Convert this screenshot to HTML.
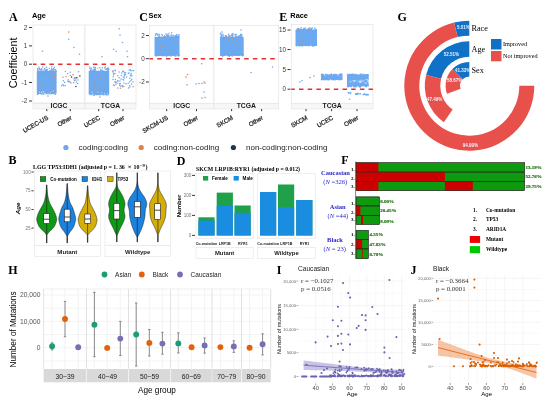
<!DOCTYPE html><html><head><meta charset="utf-8"><style>html,body{margin:0;padding:0;background:#fff;}body{width:550px;height:401px;overflow:hidden;}svg{display:block;filter:blur(0.3px);}</style></head><body><svg width="550" height="401" viewBox="0 0 550 401">
<rect x="0.00" y="0.00" width="550.00" height="401.00" fill="#FFFFFF" stroke="none" stroke-width="0" />
<text x="9.00" y="21.30" font-family='"Liberation Serif", serif' font-size="12" font-weight="bold" font-style="normal" fill="#000" text-anchor="start" >A</text>
<text x="32.00" y="18.20" font-family='"Liberation Sans", sans-serif' font-size="7.4" font-weight="bold" font-style="normal" fill="#000" text-anchor="start" >Age</text>
<text transform="translate(16.6,62.8) rotate(-90)" font-family='"Liberation Sans", sans-serif' font-size="10.8" fill="#000" text-anchor="middle">Coefficient</text>
<rect x="33.00" y="25.00" width="52.00" height="78.00" fill="#FFFFFF" stroke="#E3E3E3" stroke-width="0.7" />
<rect x="85.00" y="25.00" width="51.00" height="78.00" fill="#FFFFFF" stroke="#E3E3E3" stroke-width="0.7" />
<line x1="29.00" y1="27.50" x2="32.00" y2="27.50" stroke="#222" stroke-width="0.9" />
<text x="27.20" y="29.77" font-family='"Liberation Sans", sans-serif' font-size="6.3" font-weight="normal" font-style="normal" fill="#3A3A3A" text-anchor="end" >2</text>
<line x1="29.00" y1="45.90" x2="32.00" y2="45.90" stroke="#222" stroke-width="0.9" />
<text x="27.20" y="48.17" font-family='"Liberation Sans", sans-serif' font-size="6.3" font-weight="normal" font-style="normal" fill="#3A3A3A" text-anchor="end" >1</text>
<line x1="29.00" y1="64.20" x2="32.00" y2="64.20" stroke="#222" stroke-width="0.9" />
<text x="27.20" y="66.47" font-family='"Liberation Sans", sans-serif' font-size="6.3" font-weight="normal" font-style="normal" fill="#3A3A3A" text-anchor="end" >0</text>
<line x1="29.00" y1="82.50" x2="32.00" y2="82.50" stroke="#222" stroke-width="0.9" />
<text x="27.20" y="84.77" font-family='"Liberation Sans", sans-serif' font-size="6.3" font-weight="normal" font-style="normal" fill="#3A3A3A" text-anchor="end" >-1</text>
<line x1="29.00" y1="101.00" x2="32.00" y2="101.00" stroke="#222" stroke-width="0.9" />
<text x="27.20" y="103.27" font-family='"Liberation Sans", sans-serif' font-size="6.3" font-weight="normal" font-style="normal" fill="#3A3A3A" text-anchor="end" >-2</text>
<line x1="33.00" y1="64.20" x2="136.00" y2="64.20" stroke="#E3312F" stroke-width="1.5" stroke-dasharray="4.5,4.2" stroke-dashoffset="1"/>
<rect x="36.80" y="70.88" width="19.80" height="22.61" fill="#6BA9F1" stroke="none" stroke-width="0" />
<circle cx="39.75" cy="71.16" r="0.75" fill="#6BA9F1" />
<circle cx="51.71" cy="68.82" r="0.75" fill="#6BA9F1" />
<circle cx="46.61" cy="69.72" r="0.75" fill="#6BA9F1" />
<circle cx="49.58" cy="70.97" r="0.75" fill="#6BA9F1" />
<circle cx="38.98" cy="67.19" r="0.75" fill="#6BA9F1" />
<circle cx="53.08" cy="69.65" r="0.75" fill="#6BA9F1" />
<circle cx="51.68" cy="66.72" r="0.75" fill="#6BA9F1" />
<circle cx="45.66" cy="70.74" r="0.75" fill="#6BA9F1" />
<circle cx="41.55" cy="71.47" r="0.75" fill="#6BA9F1" />
<circle cx="54.33" cy="67.22" r="0.75" fill="#6BA9F1" />
<circle cx="37.68" cy="70.09" r="0.75" fill="#6BA9F1" />
<circle cx="55.04" cy="69.43" r="0.75" fill="#6BA9F1" />
<circle cx="41.32" cy="69.60" r="0.75" fill="#6BA9F1" />
<circle cx="37.75" cy="68.64" r="0.75" fill="#6BA9F1" />
<circle cx="45.52" cy="69.91" r="0.75" fill="#6BA9F1" />
<circle cx="41.63" cy="68.69" r="0.75" fill="#6BA9F1" />
<circle cx="41.36" cy="69.76" r="0.75" fill="#6BA9F1" />
<circle cx="42.71" cy="67.10" r="0.75" fill="#6BA9F1" />
<circle cx="53.11" cy="70.15" r="0.75" fill="#6BA9F1" />
<circle cx="49.40" cy="68.44" r="0.75" fill="#6BA9F1" />
<circle cx="56.06" cy="71.20" r="0.75" fill="#6BA9F1" />
<circle cx="39.50" cy="69.20" r="0.75" fill="#6BA9F1" />
<circle cx="50.91" cy="70.71" r="0.75" fill="#6BA9F1" />
<circle cx="54.99" cy="69.60" r="0.75" fill="#6BA9F1" />
<circle cx="52.97" cy="70.56" r="0.75" fill="#6BA9F1" />
<circle cx="42.96" cy="70.26" r="0.75" fill="#6BA9F1" />
<circle cx="53.97" cy="71.16" r="0.75" fill="#6BA9F1" />
<circle cx="46.80" cy="70.27" r="0.75" fill="#6BA9F1" />
<circle cx="37.86" cy="68.76" r="0.75" fill="#6BA9F1" />
<circle cx="52.35" cy="69.57" r="0.75" fill="#6BA9F1" />
<circle cx="40.49" cy="70.12" r="0.75" fill="#6BA9F1" />
<circle cx="50.56" cy="70.58" r="0.75" fill="#6BA9F1" />
<circle cx="44.32" cy="69.68" r="0.75" fill="#6BA9F1" />
<circle cx="46.86" cy="70.94" r="0.75" fill="#6BA9F1" />
<circle cx="47.10" cy="69.48" r="0.75" fill="#6BA9F1" />
<circle cx="46.50" cy="67.21" r="0.75" fill="#6BA9F1" />
<circle cx="38.03" cy="70.68" r="0.75" fill="#6BA9F1" />
<circle cx="55.88" cy="70.28" r="0.75" fill="#6BA9F1" />
<circle cx="44.68" cy="68.34" r="0.75" fill="#6BA9F1" />
<circle cx="46.74" cy="71.59" r="0.75" fill="#6BA9F1" />
<circle cx="51.84" cy="70.08" r="0.75" fill="#6BA9F1" />
<circle cx="53.55" cy="68.70" r="0.75" fill="#6BA9F1" />
<circle cx="46.96" cy="71.49" r="0.75" fill="#6BA9F1" />
<circle cx="48.18" cy="93.36" r="0.7" fill="#6BA9F1" />
<circle cx="42.32" cy="93.26" r="0.7" fill="#6BA9F1" />
<circle cx="55.39" cy="94.37" r="0.7" fill="#6BA9F1" />
<circle cx="52.09" cy="92.98" r="0.7" fill="#6BA9F1" />
<circle cx="54.04" cy="93.05" r="0.7" fill="#6BA9F1" />
<circle cx="52.57" cy="93.29" r="0.7" fill="#6BA9F1" />
<circle cx="47.87" cy="93.40" r="0.7" fill="#6BA9F1" />
<circle cx="38.27" cy="92.93" r="0.7" fill="#6BA9F1" />
<circle cx="48.03" cy="93.75" r="0.7" fill="#6BA9F1" />
<circle cx="46.79" cy="93.33" r="0.7" fill="#6BA9F1" />
<circle cx="43.98" cy="93.51" r="0.7" fill="#6BA9F1" />
<circle cx="47.43" cy="93.17" r="0.7" fill="#6BA9F1" />
<circle cx="48.84" cy="93.36" r="0.7" fill="#6BA9F1" />
<circle cx="37.73" cy="93.69" r="0.7" fill="#6BA9F1" />
<circle cx="40.57" cy="93.22" r="0.7" fill="#6BA9F1" />
<circle cx="53.56" cy="93.00" r="0.7" fill="#6BA9F1" />
<circle cx="52.34" cy="92.98" r="0.7" fill="#6BA9F1" />
<circle cx="42.05" cy="92.96" r="0.7" fill="#6BA9F1" />
<circle cx="49.99" cy="94.02" r="0.7" fill="#6BA9F1" />
<circle cx="37.52" cy="94.30" r="0.7" fill="#6BA9F1" />
<circle cx="51.56" cy="93.66" r="0.7" fill="#6BA9F1" />
<circle cx="39.28" cy="93.17" r="0.7" fill="#6BA9F1" />
<circle cx="43.74" cy="94.06" r="0.7" fill="#6BA9F1" />
<circle cx="40.23" cy="93.28" r="0.7" fill="#6BA9F1" />
<circle cx="40.39" cy="93.62" r="0.7" fill="#6BA9F1" />
<circle cx="50.72" cy="93.37" r="0.7" fill="#6BA9F1" />
<circle cx="43.32" cy="93.34" r="0.7" fill="#6BA9F1" />
<circle cx="37.65" cy="93.46" r="0.7" fill="#6BA9F1" />
<circle cx="45.20" cy="93.77" r="0.7" fill="#6BA9F1" />
<circle cx="39.27" cy="92.91" r="0.7" fill="#6BA9F1" />
<circle cx="46.89" cy="93.73" r="0.7" fill="#6BA9F1" />
<circle cx="48.71" cy="92.98" r="0.7" fill="#6BA9F1" />
<circle cx="37.60" cy="94.28" r="0.7" fill="#6BA9F1" />
<circle cx="39.98" cy="93.08" r="0.7" fill="#6BA9F1" />
<circle cx="40.24" cy="93.09" r="0.7" fill="#6BA9F1" />
<circle cx="50.09" cy="93.26" r="0.7" fill="#6BA9F1" />
<circle cx="41.39" cy="92.84" r="0.7" fill="#6BA9F1" />
<circle cx="52.36" cy="93.29" r="0.7" fill="#6BA9F1" />
<circle cx="41.44" cy="93.15" r="0.7" fill="#6BA9F1" />
<circle cx="44.70" cy="93.23" r="0.7" fill="#6BA9F1" />
<circle cx="43.30" cy="93.17" r="0.7" fill="#6BA9F1" />
<circle cx="38.32" cy="93.58" r="0.7" fill="#6BA9F1" />
<circle cx="55.59" cy="92.93" r="0.7" fill="#6BA9F1" />
<circle cx="43.02" cy="92.94" r="0.7" fill="#6BA9F1" />
<circle cx="43.10" cy="92.87" r="0.7" fill="#6BA9F1" />
<circle cx="51.33" cy="93.42" r="0.7" fill="#6BA9F1" />
<circle cx="41.99" cy="94.35" r="0.7" fill="#6BA9F1" />
<circle cx="53.90" cy="94.17" r="0.7" fill="#6BA9F1" />
<circle cx="52.77" cy="92.85" r="0.7" fill="#6BA9F1" />
<circle cx="47.95" cy="93.90" r="0.55" fill="#FFFFFF" fill-opacity="0.8"/>
<circle cx="53.25" cy="91.09" r="0.55" fill="#FFFFFF" fill-opacity="0.8"/>
<circle cx="50.33" cy="92.72" r="0.55" fill="#FFFFFF" fill-opacity="0.8"/>
<circle cx="44.53" cy="93.29" r="0.55" fill="#FFFFFF" fill-opacity="0.8"/>
<circle cx="41.46" cy="92.14" r="0.55" fill="#FFFFFF" fill-opacity="0.8"/>
<circle cx="45.51" cy="93.82" r="0.55" fill="#FFFFFF" fill-opacity="0.8"/>
<circle cx="39.66" cy="92.17" r="0.55" fill="#FFFFFF" fill-opacity="0.8"/>
<circle cx="43.07" cy="92.75" r="0.55" fill="#FFFFFF" fill-opacity="0.8"/>
<circle cx="43.59" cy="91.45" r="0.55" fill="#FFFFFF" fill-opacity="0.8"/>
<circle cx="53.81" cy="94.44" r="0.55" fill="#FFFFFF" fill-opacity="0.8"/>
<circle cx="41.38" cy="76.09" r="0.6" fill="#E5834C" />
<circle cx="55.37" cy="87.87" r="0.6" fill="#E5834C" />
<circle cx="43.84" cy="73.12" r="0.6" fill="#E5834C" />
<circle cx="49.81" cy="89.30" r="0.6" fill="#E5834C" />
<circle cx="54.39" cy="76.51" r="0.6" fill="#E5834C" />
<circle cx="53.51" cy="85.40" r="0.6" fill="#E5834C" />
<circle cx="46.42" cy="93.12" r="0.6" fill="#E5834C" />
<circle cx="41.98" cy="86.39" r="0.6" fill="#E5834C" />
<circle cx="39.31" cy="72.00" r="0.6" fill="#E5834C" />
<circle cx="54.02" cy="73.12" r="0.6" fill="#E5834C" />
<circle cx="51.31" cy="83.15" r="0.6" fill="#E5834C" />
<circle cx="52.77" cy="77.13" r="0.6" fill="#E5834C" />
<circle cx="43.86" cy="75.14" r="0.6" fill="#E5834C" />
<circle cx="53.24" cy="83.24" r="0.6" fill="#E5834C" />
<circle cx="54.79" cy="90.58" r="0.6" fill="#E5834C" />
<circle cx="40.21" cy="81.88" r="0.6" fill="#E5834C" />
<circle cx="39.66" cy="68.61" r="0.6" fill="#E5834C" />
<circle cx="39.10" cy="90.03" r="0.6" fill="#E5834C" />
<circle cx="51.83" cy="89.06" r="0.6" fill="#E5834C" />
<circle cx="43.87" cy="83.53" r="0.6" fill="#E5834C" />
<circle cx="51.72" cy="77.39" r="0.6" fill="#E5834C" />
<circle cx="47.96" cy="73.39" r="0.6" fill="#E5834C" />
<circle cx="39.26" cy="74.51" r="0.6" fill="#E5834C" />
<circle cx="53.66" cy="82.22" r="0.6" fill="#E5834C" />
<rect x="88.70" y="70.88" width="20.50" height="23.41" fill="#6BA9F1" stroke="none" stroke-width="0" />
<circle cx="107.32" cy="69.75" r="0.75" fill="#6BA9F1" />
<circle cx="94.56" cy="70.97" r="0.75" fill="#6BA9F1" />
<circle cx="105.41" cy="66.96" r="0.75" fill="#6BA9F1" />
<circle cx="102.31" cy="67.80" r="0.75" fill="#6BA9F1" />
<circle cx="91.37" cy="71.28" r="0.75" fill="#6BA9F1" />
<circle cx="89.89" cy="68.74" r="0.75" fill="#6BA9F1" />
<circle cx="108.57" cy="69.60" r="0.75" fill="#6BA9F1" />
<circle cx="91.38" cy="68.32" r="0.75" fill="#6BA9F1" />
<circle cx="93.86" cy="70.82" r="0.75" fill="#6BA9F1" />
<circle cx="91.13" cy="71.37" r="0.75" fill="#6BA9F1" />
<circle cx="96.55" cy="71.55" r="0.75" fill="#6BA9F1" />
<circle cx="107.01" cy="69.02" r="0.75" fill="#6BA9F1" />
<circle cx="94.09" cy="69.83" r="0.75" fill="#6BA9F1" />
<circle cx="91.07" cy="70.50" r="0.75" fill="#6BA9F1" />
<circle cx="89.88" cy="66.93" r="0.75" fill="#6BA9F1" />
<circle cx="108.46" cy="69.03" r="0.75" fill="#6BA9F1" />
<circle cx="100.85" cy="69.72" r="0.75" fill="#6BA9F1" />
<circle cx="95.27" cy="67.56" r="0.75" fill="#6BA9F1" />
<circle cx="107.09" cy="71.55" r="0.75" fill="#6BA9F1" />
<circle cx="108.20" cy="67.95" r="0.75" fill="#6BA9F1" />
<circle cx="93.34" cy="70.38" r="0.75" fill="#6BA9F1" />
<circle cx="108.41" cy="70.09" r="0.75" fill="#6BA9F1" />
<circle cx="102.66" cy="70.53" r="0.75" fill="#6BA9F1" />
<circle cx="94.20" cy="70.09" r="0.75" fill="#6BA9F1" />
<circle cx="95.15" cy="68.77" r="0.75" fill="#6BA9F1" />
<circle cx="90.70" cy="68.95" r="0.75" fill="#6BA9F1" />
<circle cx="108.47" cy="69.71" r="0.75" fill="#6BA9F1" />
<circle cx="101.94" cy="70.47" r="0.75" fill="#6BA9F1" />
<circle cx="107.63" cy="69.47" r="0.75" fill="#6BA9F1" />
<circle cx="95.14" cy="69.18" r="0.75" fill="#6BA9F1" />
<circle cx="95.34" cy="71.16" r="0.75" fill="#6BA9F1" />
<circle cx="106.70" cy="69.06" r="0.75" fill="#6BA9F1" />
<circle cx="95.69" cy="70.10" r="0.75" fill="#6BA9F1" />
<circle cx="100.51" cy="70.29" r="0.75" fill="#6BA9F1" />
<circle cx="93.93" cy="67.09" r="0.75" fill="#6BA9F1" />
<circle cx="93.90" cy="67.64" r="0.75" fill="#6BA9F1" />
<circle cx="99.96" cy="67.63" r="0.75" fill="#6BA9F1" />
<circle cx="90.58" cy="70.44" r="0.75" fill="#6BA9F1" />
<circle cx="94.83" cy="70.98" r="0.75" fill="#6BA9F1" />
<circle cx="98.82" cy="71.21" r="0.75" fill="#6BA9F1" />
<circle cx="92.14" cy="69.93" r="0.75" fill="#6BA9F1" />
<circle cx="104.76" cy="67.68" r="0.75" fill="#6BA9F1" />
<circle cx="107.80" cy="68.36" r="0.75" fill="#6BA9F1" />
<circle cx="104.39" cy="71.59" r="0.75" fill="#6BA9F1" />
<circle cx="105.28" cy="69.14" r="0.75" fill="#6BA9F1" />
<circle cx="91.21" cy="94.10" r="0.7" fill="#6BA9F1" />
<circle cx="107.21" cy="94.39" r="0.7" fill="#6BA9F1" />
<circle cx="106.71" cy="94.67" r="0.7" fill="#6BA9F1" />
<circle cx="107.04" cy="95.00" r="0.7" fill="#6BA9F1" />
<circle cx="95.33" cy="93.70" r="0.7" fill="#6BA9F1" />
<circle cx="104.94" cy="93.70" r="0.7" fill="#6BA9F1" />
<circle cx="105.66" cy="93.85" r="0.7" fill="#6BA9F1" />
<circle cx="102.69" cy="94.59" r="0.7" fill="#6BA9F1" />
<circle cx="97.62" cy="94.63" r="0.7" fill="#6BA9F1" />
<circle cx="103.18" cy="93.93" r="0.7" fill="#6BA9F1" />
<circle cx="94.08" cy="94.87" r="0.7" fill="#6BA9F1" />
<circle cx="108.08" cy="93.79" r="0.7" fill="#6BA9F1" />
<circle cx="99.92" cy="94.06" r="0.7" fill="#6BA9F1" />
<circle cx="105.87" cy="94.17" r="0.7" fill="#6BA9F1" />
<circle cx="96.90" cy="94.32" r="0.7" fill="#6BA9F1" />
<circle cx="94.18" cy="95.04" r="0.7" fill="#6BA9F1" />
<circle cx="101.83" cy="94.22" r="0.7" fill="#6BA9F1" />
<circle cx="100.34" cy="94.88" r="0.7" fill="#6BA9F1" />
<circle cx="96.09" cy="94.68" r="0.7" fill="#6BA9F1" />
<circle cx="91.57" cy="94.44" r="0.7" fill="#6BA9F1" />
<circle cx="105.43" cy="94.24" r="0.7" fill="#6BA9F1" />
<circle cx="97.00" cy="93.99" r="0.7" fill="#6BA9F1" />
<circle cx="93.70" cy="95.15" r="0.7" fill="#6BA9F1" />
<circle cx="99.52" cy="94.11" r="0.7" fill="#6BA9F1" />
<circle cx="101.88" cy="94.19" r="0.7" fill="#6BA9F1" />
<circle cx="102.62" cy="93.86" r="0.7" fill="#6BA9F1" />
<circle cx="93.80" cy="94.12" r="0.7" fill="#6BA9F1" />
<circle cx="98.53" cy="94.50" r="0.7" fill="#6BA9F1" />
<circle cx="97.22" cy="94.04" r="0.7" fill="#6BA9F1" />
<circle cx="106.97" cy="93.69" r="0.7" fill="#6BA9F1" />
<circle cx="94.52" cy="93.95" r="0.7" fill="#6BA9F1" />
<circle cx="90.05" cy="94.85" r="0.7" fill="#6BA9F1" />
<circle cx="99.18" cy="93.73" r="0.7" fill="#6BA9F1" />
<circle cx="92.24" cy="93.83" r="0.7" fill="#6BA9F1" />
<circle cx="106.50" cy="94.36" r="0.7" fill="#6BA9F1" />
<circle cx="102.74" cy="93.75" r="0.7" fill="#6BA9F1" />
<circle cx="96.42" cy="93.89" r="0.7" fill="#6BA9F1" />
<circle cx="103.61" cy="94.00" r="0.7" fill="#6BA9F1" />
<circle cx="105.97" cy="93.71" r="0.7" fill="#6BA9F1" />
<circle cx="108.01" cy="94.03" r="0.7" fill="#6BA9F1" />
<circle cx="92.57" cy="94.46" r="0.7" fill="#6BA9F1" />
<circle cx="93.39" cy="94.03" r="0.7" fill="#6BA9F1" />
<circle cx="104.03" cy="94.92" r="0.7" fill="#6BA9F1" />
<circle cx="102.53" cy="93.88" r="0.7" fill="#6BA9F1" />
<circle cx="95.96" cy="94.09" r="0.7" fill="#6BA9F1" />
<circle cx="92.35" cy="93.86" r="0.7" fill="#6BA9F1" />
<circle cx="89.90" cy="93.64" r="0.7" fill="#6BA9F1" />
<circle cx="105.02" cy="93.97" r="0.7" fill="#6BA9F1" />
<circle cx="94.37" cy="93.69" r="0.7" fill="#6BA9F1" />
<circle cx="108.00" cy="94.67" r="0.7" fill="#6BA9F1" />
<circle cx="104.38" cy="93.76" r="0.7" fill="#6BA9F1" />
<circle cx="101.90" cy="92.85" r="0.55" fill="#FFFFFF" fill-opacity="0.8"/>
<circle cx="97.93" cy="92.06" r="0.55" fill="#FFFFFF" fill-opacity="0.8"/>
<circle cx="107.67" cy="93.96" r="0.55" fill="#FFFFFF" fill-opacity="0.8"/>
<circle cx="104.55" cy="93.78" r="0.55" fill="#FFFFFF" fill-opacity="0.8"/>
<circle cx="92.75" cy="94.16" r="0.55" fill="#FFFFFF" fill-opacity="0.8"/>
<circle cx="92.04" cy="92.12" r="0.55" fill="#FFFFFF" fill-opacity="0.8"/>
<circle cx="107.45" cy="70.78" r="0.6" fill="#E5834C" />
<circle cx="100.81" cy="78.50" r="0.6" fill="#E5834C" />
<circle cx="91.88" cy="75.49" r="0.6" fill="#E5834C" />
<circle cx="94.29" cy="87.61" r="0.6" fill="#E5834C" />
<circle cx="89.77" cy="72.67" r="0.6" fill="#E5834C" />
<circle cx="97.82" cy="68.16" r="0.6" fill="#E5834C" />
<circle cx="101.31" cy="83.77" r="0.6" fill="#E5834C" />
<circle cx="105.15" cy="73.12" r="0.6" fill="#E5834C" />
<circle cx="94.97" cy="82.08" r="0.6" fill="#E5834C" />
<circle cx="94.75" cy="83.24" r="0.6" fill="#E5834C" />
<circle cx="94.34" cy="85.85" r="0.6" fill="#E5834C" />
<circle cx="104.34" cy="89.19" r="0.6" fill="#E5834C" />
<circle cx="107.71" cy="82.16" r="0.6" fill="#E5834C" />
<circle cx="98.78" cy="90.45" r="0.6" fill="#E5834C" />
<circle cx="103.93" cy="82.83" r="0.6" fill="#E5834C" />
<circle cx="96.79" cy="75.18" r="0.6" fill="#E5834C" />
<circle cx="78.68" cy="71.87" r="0.75" fill="#6BA9F1" />
<circle cx="75.70" cy="79.95" r="0.75" fill="#E5834C" />
<circle cx="75.96" cy="86.59" r="0.75" fill="#1F3552" />
<circle cx="62.93" cy="77.29" r="0.75" fill="#6BA9F1" />
<circle cx="69.81" cy="82.00" r="0.75" fill="#E5834C" />
<circle cx="67.65" cy="73.42" r="0.75" fill="#6BA9F1" />
<circle cx="68.15" cy="79.86" r="0.75" fill="#6BA9F1" />
<circle cx="76.38" cy="82.09" r="0.75" fill="#6BA9F1" />
<circle cx="63.65" cy="85.73" r="0.75" fill="#6BA9F1" />
<circle cx="65.37" cy="71.56" r="0.75" fill="#6BA9F1" />
<circle cx="73.58" cy="82.70" r="0.75" fill="#E5834C" />
<circle cx="65.28" cy="85.81" r="0.75" fill="#6BA9F1" />
<circle cx="77.36" cy="77.84" r="0.75" fill="#E5834C" />
<circle cx="74.85" cy="78.47" r="0.75" fill="#E5834C" />
<circle cx="71.59" cy="77.07" r="0.75" fill="#1F3552" />
<circle cx="74.39" cy="80.48" r="0.75" fill="#6BA9F1" />
<circle cx="67.88" cy="81.14" r="0.75" fill="#6BA9F1" />
<circle cx="70.86" cy="83.06" r="0.75" fill="#6BA9F1" />
<circle cx="79.87" cy="76.01" r="0.75" fill="#1F3552" />
<circle cx="69.23" cy="81.25" r="0.75" fill="#6BA9F1" />
<circle cx="76.30" cy="77.66" r="0.75" fill="#1F3552" />
<circle cx="77.58" cy="83.40" r="0.75" fill="#E5834C" />
<circle cx="61.69" cy="85.65" r="0.75" fill="#E5834C" />
<circle cx="78.10" cy="79.94" r="0.75" fill="#6BA9F1" />
<circle cx="70.28" cy="75.52" r="0.75" fill="#6BA9F1" />
<circle cx="70.37" cy="72.20" r="0.75" fill="#6BA9F1" />
<circle cx="63.37" cy="80.65" r="0.75" fill="#6BA9F1" />
<circle cx="68.25" cy="81.68" r="0.75" fill="#6BA9F1" />
<circle cx="64.62" cy="82.51" r="0.75" fill="#6BA9F1" />
<circle cx="74.62" cy="77.73" r="0.75" fill="#6BA9F1" />
<circle cx="72.99" cy="74.74" r="0.75" fill="#E5834C" />
<circle cx="66.01" cy="76.68" r="0.75" fill="#E5834C" />
<circle cx="62.92" cy="84.38" r="0.75" fill="#6BA9F1" />
<circle cx="74.02" cy="78.75" r="0.75" fill="#6BA9F1" />
<circle cx="116.07" cy="81.91" r="0.75" fill="#6BA9F1" />
<circle cx="120.04" cy="83.56" r="0.75" fill="#6BA9F1" />
<circle cx="124.39" cy="72.77" r="0.75" fill="#6BA9F1" />
<circle cx="130.87" cy="75.76" r="0.75" fill="#6BA9F1" />
<circle cx="117.99" cy="81.09" r="0.75" fill="#6BA9F1" />
<circle cx="130.39" cy="70.08" r="0.75" fill="#6BA9F1" />
<circle cx="119.21" cy="77.70" r="0.75" fill="#6BA9F1" />
<circle cx="129.15" cy="73.11" r="0.75" fill="#6BA9F1" />
<circle cx="130.97" cy="80.50" r="0.75" fill="#6BA9F1" />
<circle cx="125.35" cy="74.48" r="0.75" fill="#6BA9F1" />
<circle cx="115.95" cy="84.29" r="0.75" fill="#E5834C" />
<circle cx="120.16" cy="83.78" r="0.75" fill="#6BA9F1" />
<circle cx="114.96" cy="73.42" r="0.75" fill="#6BA9F1" />
<circle cx="113.95" cy="73.82" r="0.75" fill="#6BA9F1" />
<circle cx="122.94" cy="71.40" r="0.75" fill="#6BA9F1" />
<circle cx="113.45" cy="84.88" r="0.75" fill="#6BA9F1" />
<circle cx="131.34" cy="73.61" r="0.75" fill="#6BA9F1" />
<circle cx="122.98" cy="79.54" r="0.75" fill="#6BA9F1" />
<circle cx="119.76" cy="85.42" r="0.75" fill="#6BA9F1" />
<circle cx="125.50" cy="72.78" r="0.75" fill="#6BA9F1" />
<circle cx="120.97" cy="78.91" r="0.75" fill="#6BA9F1" />
<circle cx="128.41" cy="88.00" r="0.75" fill="#6BA9F1" />
<circle cx="129.89" cy="78.29" r="0.75" fill="#6BA9F1" />
<circle cx="116.99" cy="83.08" r="0.75" fill="#6BA9F1" />
<circle cx="123.02" cy="71.61" r="0.75" fill="#6BA9F1" />
<circle cx="133.58" cy="70.38" r="0.75" fill="#6BA9F1" />
<circle cx="130.68" cy="75.57" r="0.75" fill="#6BA9F1" />
<circle cx="130.48" cy="74.96" r="0.75" fill="#6BA9F1" />
<circle cx="120.98" cy="86.22" r="0.75" fill="#6BA9F1" />
<circle cx="129.33" cy="70.08" r="0.75" fill="#6BA9F1" />
<circle cx="115.58" cy="82.13" r="0.75" fill="#6BA9F1" />
<circle cx="124.47" cy="74.33" r="0.75" fill="#6BA9F1" />
<circle cx="122.31" cy="85.46" r="0.75" fill="#6BA9F1" />
<circle cx="113.25" cy="70.66" r="0.75" fill="#6BA9F1" />
<circle cx="113.41" cy="74.70" r="0.75" fill="#6BA9F1" />
<circle cx="121.67" cy="73.11" r="0.75" fill="#6BA9F1" />
<circle cx="126.02" cy="83.65" r="0.75" fill="#6BA9F1" />
<circle cx="126.56" cy="76.90" r="0.75" fill="#6BA9F1" />
<circle cx="133.06" cy="81.69" r="0.75" fill="#6BA9F1" />
<circle cx="117.70" cy="80.67" r="0.75" fill="#6BA9F1" />
<circle cx="119.91" cy="81.00" r="0.75" fill="#6BA9F1" />
<circle cx="133.05" cy="86.70" r="0.75" fill="#E5834C" />
<circle cx="123.91" cy="83.02" r="0.75" fill="#6BA9F1" />
<circle cx="132.00" cy="70.83" r="0.75" fill="#6BA9F1" />
<circle cx="128.26" cy="83.20" r="0.75" fill="#6BA9F1" />
<circle cx="117.83" cy="88.05" r="0.75" fill="#6BA9F1" />
<circle cx="113.74" cy="73.36" r="0.75" fill="#6BA9F1" />
<circle cx="130.57" cy="70.50" r="0.75" fill="#6BA9F1" />
<circle cx="131.84" cy="79.24" r="0.75" fill="#6BA9F1" />
<circle cx="120.35" cy="88.21" r="0.75" fill="#E5834C" />
<circle cx="115.18" cy="70.13" r="0.75" fill="#6BA9F1" />
<circle cx="131.48" cy="84.00" r="0.75" fill="#6BA9F1" />
<circle cx="113.02" cy="79.47" r="0.75" fill="#6BA9F1" />
<circle cx="117.80" cy="75.68" r="0.75" fill="#6BA9F1" />
<circle cx="113.22" cy="76.80" r="0.75" fill="#6BA9F1" />
<circle cx="119.14" cy="71.97" r="0.75" fill="#6BA9F1" />
<circle cx="129.61" cy="85.76" r="0.75" fill="#6BA9F1" />
<circle cx="114.49" cy="85.49" r="0.75" fill="#6BA9F1" />
<circle cx="124.31" cy="75.77" r="0.75" fill="#E5834C" />
<circle cx="123.30" cy="76.93" r="0.75" fill="#6BA9F1" />
<circle cx="114.72" cy="81.90" r="0.75" fill="#6BA9F1" />
<circle cx="123.60" cy="80.11" r="0.75" fill="#6BA9F1" />
<circle cx="123.86" cy="86.54" r="0.75" fill="#E5834C" />
<circle cx="128.26" cy="73.30" r="0.75" fill="#6BA9F1" />
<circle cx="123.55" cy="71.35" r="0.75" fill="#6BA9F1" />
<circle cx="115.18" cy="70.73" r="0.75" fill="#6BA9F1" />
<circle cx="129.78" cy="81.87" r="0.75" fill="#6BA9F1" />
<circle cx="121.35" cy="75.56" r="0.75" fill="#6BA9F1" />
<circle cx="119.40" cy="83.72" r="0.75" fill="#6BA9F1" />
<circle cx="112.68" cy="71.82" r="0.75" fill="#E5834C" />
<circle cx="131.89" cy="75.69" r="0.75" fill="#6BA9F1" />
<circle cx="124.65" cy="78.08" r="0.75" fill="#6BA9F1" />
<circle cx="122.67" cy="86.84" r="0.75" fill="#6BA9F1" />
<circle cx="129.79" cy="87.08" r="0.75" fill="#6BA9F1" />
<circle cx="115.35" cy="79.45" r="0.75" fill="#6BA9F1" />
<circle cx="42.50" cy="51.20" r="0.8" fill="#6BA9F1" />
<circle cx="68.70" cy="32.00" r="0.8" fill="#E5834C" />
<circle cx="68.70" cy="39.20" r="0.8" fill="#6BA9F1" />
<circle cx="74.00" cy="47.50" r="0.8" fill="#6BA9F1" />
<circle cx="79.50" cy="54.20" r="0.8" fill="#6BA9F1" />
<circle cx="102.00" cy="56.70" r="0.8" fill="#6BA9F1" />
<circle cx="113.70" cy="49.20" r="0.8" fill="#6BA9F1" />
<circle cx="116.20" cy="51.20" r="0.8" fill="#6BA9F1" />
<circle cx="120.00" cy="35.00" r="0.8" fill="#6BA9F1" />
<circle cx="119.20" cy="28.70" r="0.8" fill="#6BA9F1" />
<circle cx="127.00" cy="51.20" r="0.8" fill="#6BA9F1" />
<circle cx="127.50" cy="56.70" r="0.8" fill="#6BA9F1" />
<circle cx="122.50" cy="42.50" r="0.8" fill="#6BA9F1" />
<circle cx="100.00" cy="97.00" r="0.8" fill="#6BA9F1" />
<circle cx="48.00" cy="96.00" r="0.8" fill="#6BA9F1" />
<rect x="33.00" y="103.30" width="52.00" height="5.70" fill="#F7F7F7" stroke="#E3E3E3" stroke-width="0.6" />
<text x="59.00" y="108.20" font-family='"Liberation Sans", sans-serif' font-size="6.8" font-weight="bold" font-style="normal" fill="#1A1A1A" text-anchor="middle" >ICGC</text>
<rect x="85.00" y="103.30" width="51.00" height="5.70" fill="#F7F7F7" stroke="#E3E3E3" stroke-width="0.6" />
<text x="110.50" y="108.20" font-family='"Liberation Sans", sans-serif' font-size="6.8" font-weight="bold" font-style="normal" fill="#1A1A1A" text-anchor="middle" >TCGA</text>
<line x1="46.80" y1="109.00" x2="46.80" y2="111.20" stroke="#222" stroke-width="0.9" />
<text transform="translate(48.80,118.90) rotate(-30)" x="0" y="0" font-family='"Liberation Sans", sans-serif' font-size="6.2" fill="#2A2A2A" stroke="#2A2A2A" stroke-width="0.28" text-anchor="end">UCEC-US</text>
<line x1="70.30" y1="109.00" x2="70.30" y2="111.20" stroke="#222" stroke-width="0.9" />
<text transform="translate(72.30,118.90) rotate(-30)" x="0" y="0" font-family='"Liberation Sans", sans-serif' font-size="6.2" fill="#2A2A2A" stroke="#2A2A2A" stroke-width="0.28" text-anchor="end">Other</text>
<line x1="98.70" y1="109.00" x2="98.70" y2="111.20" stroke="#222" stroke-width="0.9" />
<text transform="translate(100.70,118.90) rotate(-30)" x="0" y="0" font-family='"Liberation Sans", sans-serif' font-size="6.2" fill="#2A2A2A" stroke="#2A2A2A" stroke-width="0.28" text-anchor="end">UCEC</text>
<line x1="123.00" y1="109.00" x2="123.00" y2="111.20" stroke="#222" stroke-width="0.9" />
<text transform="translate(125.00,118.90) rotate(-30)" x="0" y="0" font-family='"Liberation Sans", sans-serif' font-size="6.2" fill="#2A2A2A" stroke="#2A2A2A" stroke-width="0.28" text-anchor="end">Other</text>
<text x="139.30" y="21.30" font-family='"Liberation Serif", serif' font-size="12" font-weight="bold" font-style="normal" fill="#000" text-anchor="start" >C</text>
<text x="148.50" y="18.20" font-family='"Liberation Sans", sans-serif' font-size="7.4" font-weight="bold" font-style="normal" fill="#000" text-anchor="start" >Sex</text>
<rect x="149.50" y="25.30" width="64.50" height="78.00" fill="#FFFFFF" stroke="#E3E3E3" stroke-width="0.7" />
<rect x="214.00" y="25.30" width="64.70" height="78.00" fill="#FFFFFF" stroke="#E3E3E3" stroke-width="0.7" />
<line x1="145.90" y1="35.50" x2="148.90" y2="35.50" stroke="#222" stroke-width="0.9" />
<text x="144.70" y="37.77" font-family='"Liberation Sans", sans-serif' font-size="6.3" font-weight="normal" font-style="normal" fill="#3A3A3A" text-anchor="end" >2</text>
<line x1="145.90" y1="58.70" x2="148.90" y2="58.70" stroke="#222" stroke-width="0.9" />
<text x="144.70" y="60.97" font-family='"Liberation Sans", sans-serif' font-size="6.3" font-weight="normal" font-style="normal" fill="#3A3A3A" text-anchor="end" >0</text>
<line x1="145.90" y1="82.00" x2="148.90" y2="82.00" stroke="#222" stroke-width="0.9" />
<text x="144.70" y="84.27" font-family='"Liberation Sans", sans-serif' font-size="6.3" font-weight="normal" font-style="normal" fill="#3A3A3A" text-anchor="end" >-2</text>
<rect x="154.50" y="36.88" width="25.00" height="18.51" fill="#6BA9F1" stroke="none" stroke-width="0" />
<circle cx="168.83" cy="37.62" r="0.75" fill="#6BA9F1" />
<circle cx="173.87" cy="36.68" r="0.75" fill="#6BA9F1" />
<circle cx="172.97" cy="35.34" r="0.75" fill="#6BA9F1" />
<circle cx="177.70" cy="36.47" r="0.75" fill="#6BA9F1" />
<circle cx="164.64" cy="35.78" r="0.75" fill="#6BA9F1" />
<circle cx="178.61" cy="36.05" r="0.75" fill="#6BA9F1" />
<circle cx="158.96" cy="34.20" r="0.75" fill="#6BA9F1" />
<circle cx="171.53" cy="36.17" r="0.75" fill="#6BA9F1" />
<circle cx="176.84" cy="34.43" r="0.75" fill="#6BA9F1" />
<circle cx="164.85" cy="36.77" r="0.75" fill="#6BA9F1" />
<circle cx="156.11" cy="33.86" r="0.75" fill="#6BA9F1" />
<circle cx="168.11" cy="34.88" r="0.75" fill="#6BA9F1" />
<circle cx="157.49" cy="34.85" r="0.75" fill="#6BA9F1" />
<circle cx="170.20" cy="36.03" r="0.75" fill="#6BA9F1" />
<circle cx="156.80" cy="33.65" r="0.75" fill="#6BA9F1" />
<circle cx="175.49" cy="36.47" r="0.75" fill="#6BA9F1" />
<circle cx="159.10" cy="37.21" r="0.75" fill="#6BA9F1" />
<circle cx="155.43" cy="35.37" r="0.75" fill="#6BA9F1" />
<circle cx="175.41" cy="36.70" r="0.75" fill="#6BA9F1" />
<circle cx="161.77" cy="37.30" r="0.75" fill="#6BA9F1" />
<circle cx="169.37" cy="37.22" r="0.75" fill="#6BA9F1" />
<circle cx="176.51" cy="35.62" r="0.75" fill="#6BA9F1" />
<circle cx="171.25" cy="36.10" r="0.75" fill="#6BA9F1" />
<circle cx="177.76" cy="37.00" r="0.75" fill="#6BA9F1" />
<circle cx="172.46" cy="37.05" r="0.75" fill="#6BA9F1" />
<circle cx="179.06" cy="34.83" r="0.75" fill="#6BA9F1" />
<circle cx="159.77" cy="36.83" r="0.75" fill="#6BA9F1" />
<circle cx="173.54" cy="35.98" r="0.75" fill="#6BA9F1" />
<circle cx="166.69" cy="35.52" r="0.75" fill="#6BA9F1" />
<circle cx="176.26" cy="37.00" r="0.75" fill="#6BA9F1" />
<circle cx="169.05" cy="33.33" r="0.75" fill="#6BA9F1" />
<circle cx="175.50" cy="35.76" r="0.75" fill="#6BA9F1" />
<circle cx="159.49" cy="35.04" r="0.75" fill="#6BA9F1" />
<circle cx="171.63" cy="32.82" r="0.75" fill="#6BA9F1" />
<circle cx="157.81" cy="35.06" r="0.75" fill="#6BA9F1" />
<circle cx="176.37" cy="36.83" r="0.75" fill="#6BA9F1" />
<circle cx="178.39" cy="36.09" r="0.75" fill="#6BA9F1" />
<circle cx="168.74" cy="36.13" r="0.75" fill="#6BA9F1" />
<circle cx="167.62" cy="36.09" r="0.75" fill="#6BA9F1" />
<circle cx="174.71" cy="37.50" r="0.75" fill="#6BA9F1" />
<circle cx="164.78" cy="36.42" r="0.75" fill="#6BA9F1" />
<circle cx="162.35" cy="35.06" r="0.75" fill="#6BA9F1" />
<circle cx="167.15" cy="36.26" r="0.75" fill="#6BA9F1" />
<circle cx="168.21" cy="37.57" r="0.75" fill="#6BA9F1" />
<circle cx="158.84" cy="36.44" r="0.75" fill="#6BA9F1" />
<circle cx="178.97" cy="36.79" r="0.75" fill="#6BA9F1" />
<circle cx="168.59" cy="35.37" r="0.75" fill="#6BA9F1" />
<circle cx="164.63" cy="37.45" r="0.75" fill="#6BA9F1" />
<circle cx="176.57" cy="36.56" r="0.75" fill="#6BA9F1" />
<circle cx="176.65" cy="37.41" r="0.75" fill="#6BA9F1" />
<circle cx="175.38" cy="35.44" r="0.75" fill="#6BA9F1" />
<circle cx="166.14" cy="36.99" r="0.75" fill="#6BA9F1" />
<circle cx="163.92" cy="36.84" r="0.75" fill="#6BA9F1" />
<circle cx="166.55" cy="35.22" r="0.75" fill="#6BA9F1" />
<circle cx="165.94" cy="33.99" r="0.75" fill="#6BA9F1" />
<circle cx="163.48" cy="55.32" r="0.7" fill="#6BA9F1" />
<circle cx="155.34" cy="55.70" r="0.7" fill="#6BA9F1" />
<circle cx="161.20" cy="54.84" r="0.7" fill="#6BA9F1" />
<circle cx="169.17" cy="55.50" r="0.7" fill="#6BA9F1" />
<circle cx="179.04" cy="55.55" r="0.7" fill="#6BA9F1" />
<circle cx="167.33" cy="54.96" r="0.7" fill="#6BA9F1" />
<circle cx="171.63" cy="55.29" r="0.7" fill="#6BA9F1" />
<circle cx="173.70" cy="55.23" r="0.7" fill="#6BA9F1" />
<circle cx="172.21" cy="55.22" r="0.7" fill="#6BA9F1" />
<circle cx="178.41" cy="54.98" r="0.7" fill="#6BA9F1" />
<circle cx="157.11" cy="55.80" r="0.7" fill="#6BA9F1" />
<circle cx="178.29" cy="55.60" r="0.7" fill="#6BA9F1" />
<circle cx="155.53" cy="55.55" r="0.7" fill="#6BA9F1" />
<circle cx="166.51" cy="54.76" r="0.7" fill="#6BA9F1" />
<circle cx="164.56" cy="54.97" r="0.7" fill="#6BA9F1" />
<circle cx="175.09" cy="55.90" r="0.7" fill="#6BA9F1" />
<circle cx="169.71" cy="54.72" r="0.7" fill="#6BA9F1" />
<circle cx="168.20" cy="55.17" r="0.7" fill="#6BA9F1" />
<circle cx="163.29" cy="54.77" r="0.7" fill="#6BA9F1" />
<circle cx="178.36" cy="55.86" r="0.7" fill="#6BA9F1" />
<circle cx="168.28" cy="55.31" r="0.7" fill="#6BA9F1" />
<circle cx="171.15" cy="55.82" r="0.7" fill="#6BA9F1" />
<circle cx="161.32" cy="55.51" r="0.7" fill="#6BA9F1" />
<circle cx="166.51" cy="54.90" r="0.7" fill="#6BA9F1" />
<circle cx="175.66" cy="54.91" r="0.7" fill="#6BA9F1" />
<circle cx="171.28" cy="55.90" r="0.7" fill="#6BA9F1" />
<circle cx="164.33" cy="55.03" r="0.7" fill="#6BA9F1" />
<circle cx="162.02" cy="55.20" r="0.7" fill="#6BA9F1" />
<circle cx="176.80" cy="55.83" r="0.7" fill="#6BA9F1" />
<circle cx="175.56" cy="55.85" r="0.7" fill="#6BA9F1" />
<circle cx="164.25" cy="54.80" r="0.7" fill="#6BA9F1" />
<circle cx="159.77" cy="55.19" r="0.7" fill="#6BA9F1" />
<circle cx="164.98" cy="54.82" r="0.7" fill="#6BA9F1" />
<circle cx="178.91" cy="55.50" r="0.7" fill="#6BA9F1" />
<circle cx="166.82" cy="54.81" r="0.7" fill="#6BA9F1" />
<circle cx="168.08" cy="55.62" r="0.7" fill="#6BA9F1" />
<circle cx="173.28" cy="55.42" r="0.7" fill="#6BA9F1" />
<circle cx="166.66" cy="56.24" r="0.7" fill="#6BA9F1" />
<circle cx="178.83" cy="55.04" r="0.7" fill="#6BA9F1" />
<circle cx="177.30" cy="54.75" r="0.7" fill="#6BA9F1" />
<circle cx="161.37" cy="55.16" r="0.7" fill="#6BA9F1" />
<circle cx="165.55" cy="54.94" r="0.7" fill="#6BA9F1" />
<circle cx="175.29" cy="55.60" r="0.7" fill="#6BA9F1" />
<circle cx="161.54" cy="54.99" r="0.7" fill="#6BA9F1" />
<circle cx="164.86" cy="55.79" r="0.7" fill="#6BA9F1" />
<circle cx="159.63" cy="55.14" r="0.7" fill="#6BA9F1" />
<circle cx="169.38" cy="54.75" r="0.7" fill="#6BA9F1" />
<circle cx="167.79" cy="55.09" r="0.7" fill="#6BA9F1" />
<circle cx="158.50" cy="55.32" r="0.7" fill="#6BA9F1" />
<circle cx="161.67" cy="55.00" r="0.7" fill="#6BA9F1" />
<circle cx="161.36" cy="55.62" r="0.7" fill="#6BA9F1" />
<circle cx="163.80" cy="55.25" r="0.7" fill="#6BA9F1" />
<circle cx="163.09" cy="55.09" r="0.7" fill="#6BA9F1" />
<circle cx="159.29" cy="54.82" r="0.7" fill="#6BA9F1" />
<circle cx="171.70" cy="55.17" r="0.7" fill="#6BA9F1" />
<circle cx="156.31" cy="55.44" r="0.7" fill="#6BA9F1" />
<circle cx="171.60" cy="55.05" r="0.7" fill="#6BA9F1" />
<circle cx="174.55" cy="54.81" r="0.7" fill="#6BA9F1" />
<circle cx="162.53" cy="55.22" r="0.7" fill="#6BA9F1" />
<circle cx="162.89" cy="55.80" r="0.7" fill="#6BA9F1" />
<circle cx="158.29" cy="55.55" r="0.7" fill="#6BA9F1" />
<circle cx="157.03" cy="55.17" r="0.7" fill="#6BA9F1" />
<circle cx="171.67" cy="45.87" r="0.6" fill="#E5834C" />
<circle cx="171.25" cy="38.53" r="0.6" fill="#E5834C" />
<circle cx="160.09" cy="45.97" r="0.6" fill="#E5834C" />
<circle cx="175.84" cy="42.81" r="0.6" fill="#E5834C" />
<circle cx="155.60" cy="34.04" r="0.6" fill="#E5834C" />
<circle cx="162.52" cy="47.02" r="0.6" fill="#E5834C" />
<circle cx="157.45" cy="38.49" r="0.6" fill="#E5834C" />
<circle cx="171.16" cy="55.07" r="0.6" fill="#E5834C" />
<circle cx="163.34" cy="46.70" r="0.6" fill="#E5834C" />
<circle cx="167.42" cy="34.10" r="0.6" fill="#E5834C" />
<circle cx="163.09" cy="36.64" r="0.6" fill="#E5834C" />
<circle cx="161.27" cy="50.39" r="0.6" fill="#E5834C" />
<circle cx="171.17" cy="34.49" r="0.6" fill="#E5834C" />
<circle cx="157.28" cy="49.40" r="0.6" fill="#E5834C" />
<circle cx="157.87" cy="40.51" r="0.6" fill="#E5834C" />
<circle cx="161.69" cy="34.68" r="0.6" fill="#E5834C" />
<rect x="220.00" y="36.88" width="23.70" height="18.51" fill="#6BA9F1" stroke="none" stroke-width="0" />
<circle cx="221.11" cy="34.14" r="0.75" fill="#6BA9F1" />
<circle cx="229.54" cy="37.44" r="0.75" fill="#6BA9F1" />
<circle cx="235.02" cy="34.75" r="0.75" fill="#6BA9F1" />
<circle cx="235.96" cy="34.92" r="0.75" fill="#6BA9F1" />
<circle cx="232.20" cy="35.15" r="0.75" fill="#6BA9F1" />
<circle cx="242.12" cy="35.30" r="0.75" fill="#6BA9F1" />
<circle cx="238.80" cy="36.46" r="0.75" fill="#6BA9F1" />
<circle cx="239.71" cy="36.33" r="0.75" fill="#6BA9F1" />
<circle cx="240.33" cy="35.53" r="0.75" fill="#6BA9F1" />
<circle cx="235.95" cy="36.39" r="0.75" fill="#6BA9F1" />
<circle cx="232.49" cy="36.18" r="0.75" fill="#6BA9F1" />
<circle cx="232.67" cy="35.48" r="0.75" fill="#6BA9F1" />
<circle cx="240.97" cy="36.43" r="0.75" fill="#6BA9F1" />
<circle cx="232.97" cy="33.47" r="0.75" fill="#6BA9F1" />
<circle cx="232.05" cy="34.37" r="0.75" fill="#6BA9F1" />
<circle cx="225.32" cy="35.66" r="0.75" fill="#6BA9F1" />
<circle cx="232.90" cy="34.80" r="0.75" fill="#6BA9F1" />
<circle cx="226.60" cy="36.04" r="0.75" fill="#6BA9F1" />
<circle cx="231.24" cy="35.52" r="0.75" fill="#6BA9F1" />
<circle cx="222.78" cy="35.39" r="0.75" fill="#6BA9F1" />
<circle cx="235.39" cy="36.10" r="0.75" fill="#6BA9F1" />
<circle cx="232.87" cy="37.15" r="0.75" fill="#6BA9F1" />
<circle cx="236.96" cy="36.62" r="0.75" fill="#6BA9F1" />
<circle cx="221.10" cy="35.09" r="0.75" fill="#6BA9F1" />
<circle cx="236.03" cy="34.25" r="0.75" fill="#6BA9F1" />
<circle cx="241.32" cy="34.16" r="0.75" fill="#6BA9F1" />
<circle cx="240.53" cy="34.61" r="0.75" fill="#6BA9F1" />
<circle cx="239.67" cy="37.17" r="0.75" fill="#6BA9F1" />
<circle cx="228.08" cy="37.30" r="0.75" fill="#6BA9F1" />
<circle cx="224.06" cy="37.17" r="0.75" fill="#6BA9F1" />
<circle cx="229.14" cy="35.68" r="0.75" fill="#6BA9F1" />
<circle cx="223.10" cy="36.31" r="0.75" fill="#6BA9F1" />
<circle cx="226.58" cy="36.55" r="0.75" fill="#6BA9F1" />
<circle cx="238.71" cy="36.32" r="0.75" fill="#6BA9F1" />
<circle cx="220.59" cy="37.49" r="0.75" fill="#6BA9F1" />
<circle cx="241.46" cy="36.47" r="0.75" fill="#6BA9F1" />
<circle cx="229.09" cy="36.17" r="0.75" fill="#6BA9F1" />
<circle cx="240.62" cy="35.76" r="0.75" fill="#6BA9F1" />
<circle cx="238.24" cy="36.30" r="0.75" fill="#6BA9F1" />
<circle cx="230.07" cy="37.44" r="0.75" fill="#6BA9F1" />
<circle cx="229.75" cy="36.33" r="0.75" fill="#6BA9F1" />
<circle cx="221.62" cy="35.81" r="0.75" fill="#6BA9F1" />
<circle cx="221.26" cy="36.68" r="0.75" fill="#6BA9F1" />
<circle cx="220.41" cy="33.35" r="0.75" fill="#6BA9F1" />
<circle cx="222.94" cy="34.15" r="0.75" fill="#6BA9F1" />
<circle cx="232.03" cy="35.31" r="0.75" fill="#6BA9F1" />
<circle cx="226.60" cy="37.59" r="0.75" fill="#6BA9F1" />
<circle cx="241.22" cy="36.51" r="0.75" fill="#6BA9F1" />
<circle cx="238.77" cy="37.07" r="0.75" fill="#6BA9F1" />
<circle cx="226.01" cy="37.04" r="0.75" fill="#6BA9F1" />
<circle cx="225.89" cy="36.17" r="0.75" fill="#6BA9F1" />
<circle cx="228.59" cy="34.27" r="0.75" fill="#6BA9F1" />
<circle cx="238.19" cy="54.79" r="0.7" fill="#6BA9F1" />
<circle cx="227.58" cy="54.82" r="0.7" fill="#6BA9F1" />
<circle cx="228.33" cy="55.04" r="0.7" fill="#6BA9F1" />
<circle cx="243.20" cy="54.92" r="0.7" fill="#6BA9F1" />
<circle cx="221.67" cy="55.29" r="0.7" fill="#6BA9F1" />
<circle cx="229.02" cy="55.49" r="0.7" fill="#6BA9F1" />
<circle cx="239.09" cy="55.28" r="0.7" fill="#6BA9F1" />
<circle cx="236.41" cy="55.06" r="0.7" fill="#6BA9F1" />
<circle cx="232.29" cy="56.00" r="0.7" fill="#6BA9F1" />
<circle cx="235.81" cy="54.81" r="0.7" fill="#6BA9F1" />
<circle cx="224.34" cy="55.05" r="0.7" fill="#6BA9F1" />
<circle cx="231.56" cy="55.42" r="0.7" fill="#6BA9F1" />
<circle cx="236.67" cy="54.74" r="0.7" fill="#6BA9F1" />
<circle cx="220.90" cy="54.81" r="0.7" fill="#6BA9F1" />
<circle cx="229.18" cy="54.87" r="0.7" fill="#6BA9F1" />
<circle cx="224.40" cy="54.98" r="0.7" fill="#6BA9F1" />
<circle cx="222.68" cy="55.43" r="0.7" fill="#6BA9F1" />
<circle cx="242.61" cy="55.04" r="0.7" fill="#6BA9F1" />
<circle cx="238.37" cy="55.26" r="0.7" fill="#6BA9F1" />
<circle cx="231.19" cy="55.22" r="0.7" fill="#6BA9F1" />
<circle cx="238.11" cy="54.97" r="0.7" fill="#6BA9F1" />
<circle cx="224.84" cy="55.28" r="0.7" fill="#6BA9F1" />
<circle cx="232.81" cy="55.13" r="0.7" fill="#6BA9F1" />
<circle cx="241.62" cy="54.86" r="0.7" fill="#6BA9F1" />
<circle cx="223.83" cy="55.37" r="0.7" fill="#6BA9F1" />
<circle cx="222.90" cy="56.13" r="0.7" fill="#6BA9F1" />
<circle cx="222.11" cy="55.68" r="0.7" fill="#6BA9F1" />
<circle cx="237.94" cy="55.03" r="0.7" fill="#6BA9F1" />
<circle cx="238.67" cy="55.50" r="0.7" fill="#6BA9F1" />
<circle cx="223.96" cy="54.74" r="0.7" fill="#6BA9F1" />
<circle cx="239.32" cy="54.77" r="0.7" fill="#6BA9F1" />
<circle cx="220.83" cy="55.34" r="0.7" fill="#6BA9F1" />
<circle cx="234.91" cy="54.96" r="0.7" fill="#6BA9F1" />
<circle cx="241.30" cy="55.17" r="0.7" fill="#6BA9F1" />
<circle cx="229.35" cy="56.28" r="0.7" fill="#6BA9F1" />
<circle cx="238.81" cy="54.74" r="0.7" fill="#6BA9F1" />
<circle cx="241.18" cy="55.03" r="0.7" fill="#6BA9F1" />
<circle cx="228.24" cy="55.58" r="0.7" fill="#6BA9F1" />
<circle cx="238.15" cy="54.78" r="0.7" fill="#6BA9F1" />
<circle cx="242.39" cy="55.70" r="0.7" fill="#6BA9F1" />
<circle cx="233.80" cy="55.20" r="0.7" fill="#6BA9F1" />
<circle cx="230.19" cy="54.90" r="0.7" fill="#6BA9F1" />
<circle cx="241.83" cy="54.97" r="0.7" fill="#6BA9F1" />
<circle cx="236.44" cy="55.00" r="0.7" fill="#6BA9F1" />
<circle cx="235.37" cy="55.17" r="0.7" fill="#6BA9F1" />
<circle cx="226.08" cy="54.92" r="0.7" fill="#6BA9F1" />
<circle cx="223.13" cy="55.05" r="0.7" fill="#6BA9F1" />
<circle cx="229.26" cy="55.14" r="0.7" fill="#6BA9F1" />
<circle cx="235.09" cy="55.24" r="0.7" fill="#6BA9F1" />
<circle cx="242.80" cy="55.58" r="0.7" fill="#6BA9F1" />
<circle cx="220.68" cy="54.76" r="0.7" fill="#6BA9F1" />
<circle cx="227.54" cy="55.51" r="0.7" fill="#6BA9F1" />
<circle cx="229.92" cy="55.10" r="0.7" fill="#6BA9F1" />
<circle cx="242.98" cy="54.99" r="0.7" fill="#6BA9F1" />
<circle cx="227.69" cy="55.17" r="0.7" fill="#6BA9F1" />
<circle cx="230.67" cy="55.21" r="0.7" fill="#6BA9F1" />
<circle cx="229.96" cy="55.71" r="0.7" fill="#6BA9F1" />
<circle cx="229.46" cy="55.35" r="0.7" fill="#6BA9F1" />
<circle cx="225.00" cy="54.88" r="0.7" fill="#6BA9F1" />
<circle cx="228.81" cy="36.90" r="0.6" fill="#E5834C" />
<circle cx="233.30" cy="52.02" r="0.6" fill="#E5834C" />
<circle cx="237.94" cy="47.16" r="0.6" fill="#E5834C" />
<circle cx="236.86" cy="40.93" r="0.6" fill="#E5834C" />
<circle cx="224.10" cy="39.16" r="0.6" fill="#E5834C" />
<circle cx="228.58" cy="39.69" r="0.6" fill="#E5834C" />
<circle cx="231.15" cy="36.85" r="0.6" fill="#E5834C" />
<circle cx="223.83" cy="39.11" r="0.6" fill="#E5834C" />
<circle cx="225.26" cy="51.08" r="0.6" fill="#E5834C" />
<circle cx="232.66" cy="37.93" r="0.6" fill="#E5834C" />
<line x1="149.50" y1="58.70" x2="278.70" y2="58.70" stroke="#E3312F" stroke-width="1.5" stroke-dasharray="4.5,4.2" stroke-dashoffset="1"/>
<circle cx="201.70" cy="63.70" r="0.8" fill="#E5834C" />
<circle cx="187.50" cy="74.50" r="0.8" fill="#E5834C" />
<circle cx="186.00" cy="77.00" r="0.8" fill="#E5834C" />
<circle cx="187.00" cy="84.70" r="0.8" fill="#6BA9F1" />
<circle cx="196.00" cy="84.00" r="0.8" fill="#6BA9F1" />
<circle cx="199.00" cy="83.50" r="0.8" fill="#6BA9F1" />
<circle cx="202.00" cy="83.50" r="0.8" fill="#6BA9F1" />
<circle cx="204.00" cy="82.00" r="0.8" fill="#6BA9F1" />
<circle cx="205.00" cy="83.00" r="0.8" fill="#E5834C" />
<circle cx="204.00" cy="92.00" r="0.8" fill="#6BA9F1" />
<circle cx="202.00" cy="98.00" r="0.8" fill="#6BA9F1" />
<circle cx="205.00" cy="97.50" r="0.8" fill="#6BA9F1" />
<circle cx="251.00" cy="72.50" r="0.8" fill="#6BA9F1" />
<circle cx="272.50" cy="67.00" r="0.8" fill="#6BA9F1" />
<circle cx="222.00" cy="32.00" r="0.8" fill="#6BA9F1" />
<circle cx="241.00" cy="30.00" r="0.8" fill="#6BA9F1" />
<rect x="149.50" y="103.30" width="64.50" height="5.70" fill="#F7F7F7" stroke="#E3E3E3" stroke-width="0.6" />
<text x="181.75" y="108.20" font-family='"Liberation Sans", sans-serif' font-size="6.8" font-weight="bold" font-style="normal" fill="#1A1A1A" text-anchor="middle" >ICGC</text>
<rect x="214.00" y="103.30" width="64.70" height="5.70" fill="#F7F7F7" stroke="#E3E3E3" stroke-width="0.6" />
<text x="246.35" y="108.20" font-family='"Liberation Sans", sans-serif' font-size="6.8" font-weight="bold" font-style="normal" fill="#1A1A1A" text-anchor="middle" >TCGA</text>
<line x1="166.70" y1="109.00" x2="166.70" y2="111.20" stroke="#222" stroke-width="0.9" />
<text transform="translate(168.70,118.90) rotate(-30)" x="0" y="0" font-family='"Liberation Sans", sans-serif' font-size="6.2" fill="#2A2A2A" stroke="#2A2A2A" stroke-width="0.28" text-anchor="end">SKCM-US</text>
<line x1="196.50" y1="109.00" x2="196.50" y2="111.20" stroke="#222" stroke-width="0.9" />
<text transform="translate(198.50,118.90) rotate(-30)" x="0" y="0" font-family='"Liberation Sans", sans-serif' font-size="6.2" fill="#2A2A2A" stroke="#2A2A2A" stroke-width="0.28" text-anchor="end">Other</text>
<line x1="231.60" y1="109.00" x2="231.60" y2="111.20" stroke="#222" stroke-width="0.9" />
<text transform="translate(233.60,118.90) rotate(-30)" x="0" y="0" font-family='"Liberation Sans", sans-serif' font-size="6.2" fill="#2A2A2A" stroke="#2A2A2A" stroke-width="0.28" text-anchor="end">SKCM</text>
<line x1="261.60" y1="109.00" x2="261.60" y2="111.20" stroke="#222" stroke-width="0.9" />
<text transform="translate(263.60,118.90) rotate(-30)" x="0" y="0" font-family='"Liberation Sans", sans-serif' font-size="6.2" fill="#2A2A2A" stroke="#2A2A2A" stroke-width="0.28" text-anchor="end">Other</text>
<text x="279.30" y="21.30" font-family='"Liberation Serif", serif' font-size="12" font-weight="bold" font-style="normal" fill="#000" text-anchor="start" >E</text>
<text x="290.30" y="18.20" font-family='"Liberation Sans", sans-serif' font-size="7.4" font-weight="bold" font-style="normal" fill="#000" text-anchor="start" >Race</text>
<rect x="291.30" y="24.50" width="81.70" height="78.80" fill="#FFFFFF" stroke="#E3E3E3" stroke-width="0.7" />
<line x1="287.50" y1="30.00" x2="290.50" y2="30.00" stroke="#222" stroke-width="0.9" />
<text x="285.90" y="32.27" font-family='"Liberation Sans", sans-serif' font-size="6.3" font-weight="normal" font-style="normal" fill="#3A3A3A" text-anchor="end" >15</text>
<line x1="287.50" y1="49.50" x2="290.50" y2="49.50" stroke="#222" stroke-width="0.9" />
<text x="285.90" y="51.77" font-family='"Liberation Sans", sans-serif' font-size="6.3" font-weight="normal" font-style="normal" fill="#3A3A3A" text-anchor="end" >10</text>
<line x1="287.50" y1="69.50" x2="290.50" y2="69.50" stroke="#222" stroke-width="0.9" />
<text x="285.90" y="71.77" font-family='"Liberation Sans", sans-serif' font-size="6.3" font-weight="normal" font-style="normal" fill="#3A3A3A" text-anchor="end" >5</text>
<line x1="287.50" y1="89.20" x2="290.50" y2="89.20" stroke="#222" stroke-width="0.9" />
<text x="285.90" y="91.47" font-family='"Liberation Sans", sans-serif' font-size="6.3" font-weight="normal" font-style="normal" fill="#3A3A3A" text-anchor="end" >0</text>
<rect x="295.50" y="29.74" width="21.50" height="15.75" fill="#6BA9F1" stroke="none" stroke-width="0" />
<circle cx="304.78" cy="29.92" r="0.75" fill="#6BA9F1" />
<circle cx="307.86" cy="29.37" r="0.75" fill="#6BA9F1" />
<circle cx="304.00" cy="28.55" r="0.75" fill="#6BA9F1" />
<circle cx="308.85" cy="28.14" r="0.75" fill="#6BA9F1" />
<circle cx="312.17" cy="28.05" r="0.75" fill="#6BA9F1" />
<circle cx="311.35" cy="29.02" r="0.75" fill="#6BA9F1" />
<circle cx="310.03" cy="29.44" r="0.75" fill="#6BA9F1" />
<circle cx="298.57" cy="29.34" r="0.75" fill="#6BA9F1" />
<circle cx="297.44" cy="28.67" r="0.75" fill="#6BA9F1" />
<circle cx="303.80" cy="28.79" r="0.75" fill="#6BA9F1" />
<circle cx="309.60" cy="30.10" r="0.75" fill="#6BA9F1" />
<circle cx="303.29" cy="29.87" r="0.75" fill="#6BA9F1" />
<circle cx="300.56" cy="29.65" r="0.75" fill="#6BA9F1" />
<circle cx="303.10" cy="29.33" r="0.75" fill="#6BA9F1" />
<circle cx="297.73" cy="29.85" r="0.75" fill="#6BA9F1" />
<circle cx="300.22" cy="29.19" r="0.75" fill="#6BA9F1" />
<circle cx="301.91" cy="29.82" r="0.75" fill="#6BA9F1" />
<circle cx="308.17" cy="29.48" r="0.75" fill="#6BA9F1" />
<circle cx="311.52" cy="28.71" r="0.75" fill="#6BA9F1" />
<circle cx="297.11" cy="29.85" r="0.75" fill="#6BA9F1" />
<circle cx="302.43" cy="29.82" r="0.75" fill="#6BA9F1" />
<circle cx="315.70" cy="29.51" r="0.75" fill="#6BA9F1" />
<circle cx="298.04" cy="29.89" r="0.75" fill="#6BA9F1" />
<circle cx="309.01" cy="28.69" r="0.75" fill="#6BA9F1" />
<circle cx="300.20" cy="29.28" r="0.75" fill="#6BA9F1" />
<circle cx="298.42" cy="29.98" r="0.75" fill="#6BA9F1" />
<circle cx="310.55" cy="29.84" r="0.75" fill="#6BA9F1" />
<circle cx="303.85" cy="30.00" r="0.75" fill="#6BA9F1" />
<circle cx="298.67" cy="29.66" r="0.75" fill="#6BA9F1" />
<circle cx="301.17" cy="27.69" r="0.75" fill="#6BA9F1" />
<circle cx="298.40" cy="28.56" r="0.75" fill="#6BA9F1" />
<circle cx="311.70" cy="29.01" r="0.75" fill="#6BA9F1" />
<circle cx="305.88" cy="29.48" r="0.75" fill="#6BA9F1" />
<circle cx="301.44" cy="29.53" r="0.75" fill="#6BA9F1" />
<circle cx="309.80" cy="30.00" r="0.75" fill="#6BA9F1" />
<circle cx="306.31" cy="29.89" r="0.75" fill="#6BA9F1" />
<circle cx="315.93" cy="29.75" r="0.75" fill="#6BA9F1" />
<circle cx="304.62" cy="28.75" r="0.75" fill="#6BA9F1" />
<circle cx="297.92" cy="29.86" r="0.75" fill="#6BA9F1" />
<circle cx="298.58" cy="29.38" r="0.75" fill="#6BA9F1" />
<circle cx="305.30" cy="27.99" r="0.75" fill="#6BA9F1" />
<circle cx="300.34" cy="29.84" r="0.75" fill="#6BA9F1" />
<circle cx="307.05" cy="30.00" r="0.75" fill="#6BA9F1" />
<circle cx="314.70" cy="28.21" r="0.75" fill="#6BA9F1" />
<circle cx="309.94" cy="27.98" r="0.75" fill="#6BA9F1" />
<circle cx="304.65" cy="29.14" r="0.75" fill="#6BA9F1" />
<circle cx="315.71" cy="29.45" r="0.75" fill="#6BA9F1" />
<circle cx="299.83" cy="45.40" r="0.7" fill="#6BA9F1" />
<circle cx="306.70" cy="45.63" r="0.7" fill="#6BA9F1" />
<circle cx="303.35" cy="45.21" r="0.7" fill="#6BA9F1" />
<circle cx="316.22" cy="45.26" r="0.7" fill="#6BA9F1" />
<circle cx="297.24" cy="45.20" r="0.7" fill="#6BA9F1" />
<circle cx="305.39" cy="45.23" r="0.7" fill="#6BA9F1" />
<circle cx="299.56" cy="45.68" r="0.7" fill="#6BA9F1" />
<circle cx="314.67" cy="45.55" r="0.7" fill="#6BA9F1" />
<circle cx="296.79" cy="45.41" r="0.7" fill="#6BA9F1" />
<circle cx="316.40" cy="45.23" r="0.7" fill="#6BA9F1" />
<circle cx="304.10" cy="45.16" r="0.7" fill="#6BA9F1" />
<circle cx="312.39" cy="45.23" r="0.7" fill="#6BA9F1" />
<circle cx="309.27" cy="45.47" r="0.7" fill="#6BA9F1" />
<circle cx="314.65" cy="45.42" r="0.7" fill="#6BA9F1" />
<circle cx="315.25" cy="45.38" r="0.7" fill="#6BA9F1" />
<circle cx="314.73" cy="45.42" r="0.7" fill="#6BA9F1" />
<circle cx="304.74" cy="45.36" r="0.7" fill="#6BA9F1" />
<circle cx="302.47" cy="45.68" r="0.7" fill="#6BA9F1" />
<circle cx="308.10" cy="45.23" r="0.7" fill="#6BA9F1" />
<circle cx="301.65" cy="45.22" r="0.7" fill="#6BA9F1" />
<circle cx="312.19" cy="45.26" r="0.7" fill="#6BA9F1" />
<circle cx="304.49" cy="45.16" r="0.7" fill="#6BA9F1" />
<circle cx="312.27" cy="45.36" r="0.7" fill="#6BA9F1" />
<circle cx="298.25" cy="45.36" r="0.7" fill="#6BA9F1" />
<circle cx="296.20" cy="45.20" r="0.7" fill="#6BA9F1" />
<circle cx="302.87" cy="45.49" r="0.7" fill="#6BA9F1" />
<circle cx="307.30" cy="45.33" r="0.7" fill="#6BA9F1" />
<circle cx="307.96" cy="45.42" r="0.7" fill="#6BA9F1" />
<circle cx="309.03" cy="45.23" r="0.7" fill="#6BA9F1" />
<circle cx="305.14" cy="45.41" r="0.7" fill="#6BA9F1" />
<circle cx="312.67" cy="45.95" r="0.7" fill="#6BA9F1" />
<circle cx="299.23" cy="45.52" r="0.7" fill="#6BA9F1" />
<circle cx="300.33" cy="45.20" r="0.7" fill="#6BA9F1" />
<circle cx="298.97" cy="45.72" r="0.7" fill="#6BA9F1" />
<circle cx="302.47" cy="45.40" r="0.7" fill="#6BA9F1" />
<circle cx="312.90" cy="45.16" r="0.7" fill="#6BA9F1" />
<circle cx="313.53" cy="45.34" r="0.7" fill="#6BA9F1" />
<circle cx="296.68" cy="45.79" r="0.7" fill="#6BA9F1" />
<circle cx="308.96" cy="45.24" r="0.7" fill="#6BA9F1" />
<circle cx="301.40" cy="45.17" r="0.7" fill="#6BA9F1" />
<circle cx="307.29" cy="45.36" r="0.7" fill="#6BA9F1" />
<circle cx="308.71" cy="45.77" r="0.7" fill="#6BA9F1" />
<circle cx="299.43" cy="45.19" r="0.7" fill="#6BA9F1" />
<circle cx="301.43" cy="45.76" r="0.7" fill="#6BA9F1" />
<circle cx="301.75" cy="45.28" r="0.7" fill="#6BA9F1" />
<circle cx="301.34" cy="45.61" r="0.7" fill="#6BA9F1" />
<circle cx="301.64" cy="45.42" r="0.7" fill="#6BA9F1" />
<circle cx="311.17" cy="45.54" r="0.7" fill="#6BA9F1" />
<circle cx="313.98" cy="45.17" r="0.7" fill="#6BA9F1" />
<circle cx="312.92" cy="45.77" r="0.7" fill="#6BA9F1" />
<circle cx="302.43" cy="45.19" r="0.7" fill="#6BA9F1" />
<circle cx="313.69" cy="45.69" r="0.7" fill="#6BA9F1" />
<circle cx="305.05" cy="45.49" r="0.7" fill="#6BA9F1" />
<circle cx="311.08" cy="29.07" r="0.6" fill="#E5834C" />
<circle cx="302.65" cy="40.90" r="0.6" fill="#E5834C" />
<circle cx="313.79" cy="29.27" r="0.6" fill="#E5834C" />
<circle cx="307.97" cy="39.48" r="0.6" fill="#E5834C" />
<circle cx="313.52" cy="35.56" r="0.6" fill="#E5834C" />
<circle cx="315.47" cy="31.84" r="0.6" fill="#E5834C" />
<circle cx="298.74" cy="30.73" r="0.6" fill="#E5834C" />
<circle cx="307.94" cy="30.61" r="0.6" fill="#E5834C" />
<rect x="321.00" y="75.23" width="21.50" height="4.24" fill="#6BA9F1" stroke="none" stroke-width="0" />
<circle cx="326.92" cy="74.43" r="0.75" fill="#6BA9F1" />
<circle cx="322.54" cy="75.44" r="0.75" fill="#6BA9F1" />
<circle cx="328.33" cy="75.44" r="0.75" fill="#6BA9F1" />
<circle cx="336.37" cy="74.48" r="0.75" fill="#6BA9F1" />
<circle cx="340.70" cy="73.90" r="0.75" fill="#6BA9F1" />
<circle cx="341.72" cy="74.01" r="0.75" fill="#6BA9F1" />
<circle cx="326.64" cy="74.98" r="0.75" fill="#6BA9F1" />
<circle cx="321.59" cy="75.23" r="0.75" fill="#6BA9F1" />
<circle cx="323.15" cy="75.29" r="0.75" fill="#6BA9F1" />
<circle cx="322.13" cy="74.95" r="0.75" fill="#6BA9F1" />
<circle cx="325.74" cy="74.60" r="0.75" fill="#6BA9F1" />
<circle cx="331.55" cy="74.73" r="0.75" fill="#6BA9F1" />
<circle cx="329.51" cy="75.10" r="0.75" fill="#6BA9F1" />
<circle cx="325.44" cy="74.40" r="0.75" fill="#6BA9F1" />
<circle cx="335.57" cy="74.61" r="0.75" fill="#6BA9F1" />
<circle cx="340.71" cy="74.81" r="0.75" fill="#6BA9F1" />
<circle cx="331.21" cy="73.98" r="0.75" fill="#6BA9F1" />
<circle cx="321.83" cy="74.23" r="0.75" fill="#6BA9F1" />
<circle cx="334.35" cy="75.11" r="0.75" fill="#6BA9F1" />
<circle cx="341.11" cy="74.82" r="0.75" fill="#6BA9F1" />
<circle cx="336.05" cy="74.68" r="0.75" fill="#6BA9F1" />
<circle cx="322.93" cy="74.80" r="0.75" fill="#6BA9F1" />
<circle cx="335.92" cy="75.27" r="0.75" fill="#6BA9F1" />
<circle cx="341.11" cy="75.30" r="0.75" fill="#6BA9F1" />
<circle cx="333.07" cy="74.97" r="0.75" fill="#6BA9F1" />
<circle cx="331.77" cy="74.88" r="0.75" fill="#6BA9F1" />
<circle cx="335.49" cy="75.01" r="0.75" fill="#6BA9F1" />
<circle cx="339.14" cy="74.84" r="0.75" fill="#6BA9F1" />
<circle cx="331.15" cy="75.30" r="0.75" fill="#6BA9F1" />
<circle cx="335.39" cy="74.94" r="0.75" fill="#6BA9F1" />
<circle cx="333.06" cy="75.28" r="0.75" fill="#6BA9F1" />
<circle cx="333.97" cy="74.55" r="0.75" fill="#6BA9F1" />
<circle cx="327.82" cy="75.04" r="0.75" fill="#6BA9F1" />
<circle cx="322.35" cy="74.85" r="0.75" fill="#6BA9F1" />
<circle cx="339.86" cy="74.50" r="0.75" fill="#6BA9F1" />
<circle cx="330.59" cy="75.16" r="0.75" fill="#6BA9F1" />
<circle cx="340.56" cy="75.15" r="0.75" fill="#6BA9F1" />
<circle cx="334.35" cy="74.75" r="0.75" fill="#6BA9F1" />
<circle cx="330.45" cy="75.09" r="0.75" fill="#6BA9F1" />
<circle cx="328.78" cy="75.25" r="0.75" fill="#6BA9F1" />
<circle cx="321.57" cy="75.22" r="0.75" fill="#6BA9F1" />
<circle cx="336.76" cy="74.63" r="0.75" fill="#6BA9F1" />
<circle cx="321.71" cy="74.68" r="0.75" fill="#6BA9F1" />
<circle cx="333.60" cy="75.26" r="0.75" fill="#6BA9F1" />
<circle cx="339.42" cy="74.46" r="0.75" fill="#6BA9F1" />
<circle cx="323.09" cy="74.27" r="0.75" fill="#6BA9F1" />
<circle cx="341.87" cy="75.09" r="0.75" fill="#6BA9F1" />
<circle cx="324.06" cy="79.33" r="0.7" fill="#6BA9F1" />
<circle cx="341.26" cy="79.36" r="0.7" fill="#6BA9F1" />
<circle cx="326.21" cy="79.25" r="0.7" fill="#6BA9F1" />
<circle cx="335.90" cy="79.56" r="0.7" fill="#6BA9F1" />
<circle cx="337.26" cy="79.40" r="0.7" fill="#6BA9F1" />
<circle cx="333.28" cy="79.46" r="0.7" fill="#6BA9F1" />
<circle cx="327.48" cy="79.44" r="0.7" fill="#6BA9F1" />
<circle cx="332.30" cy="79.42" r="0.7" fill="#6BA9F1" />
<circle cx="339.33" cy="79.65" r="0.7" fill="#6BA9F1" />
<circle cx="325.52" cy="79.26" r="0.7" fill="#6BA9F1" />
<circle cx="333.98" cy="79.36" r="0.7" fill="#6BA9F1" />
<circle cx="334.44" cy="79.52" r="0.7" fill="#6BA9F1" />
<circle cx="329.57" cy="79.54" r="0.7" fill="#6BA9F1" />
<circle cx="324.55" cy="79.24" r="0.7" fill="#6BA9F1" />
<circle cx="336.80" cy="79.27" r="0.7" fill="#6BA9F1" />
<circle cx="321.43" cy="79.33" r="0.7" fill="#6BA9F1" />
<circle cx="327.76" cy="79.40" r="0.7" fill="#6BA9F1" />
<circle cx="335.38" cy="79.70" r="0.7" fill="#6BA9F1" />
<circle cx="329.07" cy="79.38" r="0.7" fill="#6BA9F1" />
<circle cx="339.50" cy="79.40" r="0.7" fill="#6BA9F1" />
<circle cx="327.97" cy="79.36" r="0.7" fill="#6BA9F1" />
<circle cx="333.48" cy="79.50" r="0.7" fill="#6BA9F1" />
<circle cx="332.74" cy="79.51" r="0.7" fill="#6BA9F1" />
<circle cx="321.63" cy="79.49" r="0.7" fill="#6BA9F1" />
<circle cx="323.19" cy="79.41" r="0.7" fill="#6BA9F1" />
<circle cx="331.77" cy="79.28" r="0.7" fill="#6BA9F1" />
<circle cx="336.88" cy="79.32" r="0.7" fill="#6BA9F1" />
<circle cx="341.89" cy="79.51" r="0.7" fill="#6BA9F1" />
<circle cx="329.12" cy="79.53" r="0.7" fill="#6BA9F1" />
<circle cx="323.52" cy="79.40" r="0.7" fill="#6BA9F1" />
<circle cx="331.98" cy="79.60" r="0.7" fill="#6BA9F1" />
<circle cx="340.50" cy="79.25" r="0.7" fill="#6BA9F1" />
<circle cx="322.81" cy="79.77" r="0.7" fill="#6BA9F1" />
<circle cx="322.68" cy="79.32" r="0.7" fill="#6BA9F1" />
<circle cx="339.05" cy="79.66" r="0.7" fill="#6BA9F1" />
<circle cx="321.59" cy="79.39" r="0.7" fill="#6BA9F1" />
<circle cx="328.29" cy="79.72" r="0.7" fill="#6BA9F1" />
<circle cx="321.58" cy="79.54" r="0.7" fill="#6BA9F1" />
<circle cx="325.54" cy="79.50" r="0.7" fill="#6BA9F1" />
<circle cx="332.80" cy="79.52" r="0.7" fill="#6BA9F1" />
<circle cx="326.23" cy="79.54" r="0.7" fill="#6BA9F1" />
<circle cx="339.76" cy="79.53" r="0.7" fill="#6BA9F1" />
<circle cx="332.90" cy="79.42" r="0.7" fill="#6BA9F1" />
<circle cx="328.26" cy="79.44" r="0.7" fill="#6BA9F1" />
<circle cx="321.73" cy="79.56" r="0.7" fill="#6BA9F1" />
<circle cx="334.65" cy="79.31" r="0.7" fill="#6BA9F1" />
<circle cx="325.92" cy="79.56" r="0.7" fill="#6BA9F1" />
<circle cx="340.15" cy="79.62" r="0.7" fill="#6BA9F1" />
<circle cx="337.85" cy="79.28" r="0.7" fill="#6BA9F1" />
<circle cx="324.43" cy="79.29" r="0.7" fill="#6BA9F1" />
<circle cx="324.51" cy="79.68" r="0.7" fill="#6BA9F1" />
<circle cx="327.33" cy="79.47" r="0.7" fill="#6BA9F1" />
<circle cx="333.60" cy="79.43" r="0.7" fill="#6BA9F1" />
<circle cx="337.47" cy="77.46" r="0.6" fill="#E5834C" />
<rect x="347.00" y="74.60" width="21.70" height="11.60" fill="#6BA9F1" stroke="none" stroke-width="0" />
<circle cx="349.59" cy="74.20" r="0.6" fill="#6BA9F1" />
<circle cx="363.19" cy="74.12" r="0.6" fill="#6BA9F1" />
<circle cx="367.67" cy="74.81" r="0.6" fill="#6BA9F1" />
<circle cx="351.77" cy="74.29" r="0.6" fill="#6BA9F1" />
<circle cx="352.47" cy="74.42" r="0.6" fill="#6BA9F1" />
<circle cx="352.40" cy="74.03" r="0.6" fill="#6BA9F1" />
<circle cx="352.46" cy="74.19" r="0.6" fill="#6BA9F1" />
<circle cx="354.59" cy="74.45" r="0.6" fill="#6BA9F1" />
<circle cx="365.97" cy="74.66" r="0.6" fill="#6BA9F1" />
<circle cx="360.36" cy="74.86" r="0.6" fill="#6BA9F1" />
<circle cx="355.39" cy="74.43" r="0.6" fill="#6BA9F1" />
<circle cx="352.31" cy="74.83" r="0.6" fill="#6BA9F1" />
<circle cx="366.04" cy="74.91" r="0.6" fill="#6BA9F1" />
<circle cx="360.13" cy="74.11" r="0.6" fill="#6BA9F1" />
<circle cx="348.57" cy="74.80" r="0.6" fill="#6BA9F1" />
<circle cx="366.21" cy="74.53" r="0.6" fill="#6BA9F1" />
<circle cx="366.98" cy="74.93" r="0.6" fill="#6BA9F1" />
<circle cx="363.38" cy="74.37" r="0.6" fill="#6BA9F1" />
<circle cx="356.90" cy="74.35" r="0.6" fill="#6BA9F1" />
<circle cx="355.59" cy="74.47" r="0.6" fill="#6BA9F1" />
<circle cx="347.37" cy="74.13" r="0.6" fill="#6BA9F1" />
<circle cx="350.65" cy="74.57" r="0.6" fill="#6BA9F1" />
<circle cx="365.91" cy="74.71" r="0.6" fill="#6BA9F1" />
<circle cx="350.24" cy="74.46" r="0.6" fill="#6BA9F1" />
<circle cx="360.61" cy="74.14" r="0.6" fill="#6BA9F1" />
<circle cx="348.73" cy="74.61" r="0.6" fill="#6BA9F1" />
<circle cx="352.11" cy="74.65" r="0.6" fill="#6BA9F1" />
<circle cx="350.72" cy="74.86" r="0.6" fill="#6BA9F1" />
<circle cx="353.72" cy="74.43" r="0.6" fill="#6BA9F1" />
<circle cx="358.93" cy="74.89" r="0.6" fill="#6BA9F1" />
<circle cx="366.89" cy="74.84" r="0.6" fill="#6BA9F1" />
<circle cx="361.85" cy="74.07" r="0.6" fill="#6BA9F1" />
<circle cx="351.05" cy="74.53" r="0.6" fill="#6BA9F1" />
<circle cx="368.38" cy="74.73" r="0.6" fill="#6BA9F1" />
<circle cx="351.16" cy="74.36" r="0.6" fill="#6BA9F1" />
<circle cx="367.89" cy="74.51" r="0.6" fill="#6BA9F1" />
<circle cx="365.89" cy="74.86" r="0.6" fill="#6BA9F1" />
<circle cx="363.96" cy="74.63" r="0.6" fill="#6BA9F1" />
<circle cx="361.45" cy="74.34" r="0.6" fill="#6BA9F1" />
<circle cx="349.61" cy="74.95" r="0.6" fill="#6BA9F1" />
<circle cx="347.71" cy="86.27" r="0.6" fill="#6BA9F1" />
<circle cx="360.32" cy="86.96" r="0.6" fill="#6BA9F1" />
<circle cx="351.56" cy="86.25" r="0.6" fill="#6BA9F1" />
<circle cx="365.40" cy="86.33" r="0.6" fill="#6BA9F1" />
<circle cx="355.74" cy="86.36" r="0.6" fill="#6BA9F1" />
<circle cx="348.07" cy="86.94" r="0.6" fill="#6BA9F1" />
<circle cx="362.14" cy="86.01" r="0.6" fill="#6BA9F1" />
<circle cx="349.11" cy="86.14" r="0.6" fill="#6BA9F1" />
<circle cx="355.00" cy="86.89" r="0.6" fill="#6BA9F1" />
<circle cx="350.06" cy="86.23" r="0.6" fill="#6BA9F1" />
<circle cx="353.76" cy="86.51" r="0.6" fill="#6BA9F1" />
<circle cx="366.55" cy="86.54" r="0.6" fill="#6BA9F1" />
<circle cx="366.61" cy="86.54" r="0.6" fill="#6BA9F1" />
<circle cx="356.38" cy="86.87" r="0.6" fill="#6BA9F1" />
<circle cx="359.60" cy="86.47" r="0.6" fill="#6BA9F1" />
<circle cx="358.12" cy="86.36" r="0.6" fill="#6BA9F1" />
<circle cx="356.40" cy="86.07" r="0.6" fill="#6BA9F1" />
<circle cx="351.45" cy="86.76" r="0.6" fill="#6BA9F1" />
<circle cx="349.90" cy="86.21" r="0.6" fill="#6BA9F1" />
<circle cx="350.55" cy="86.36" r="0.6" fill="#6BA9F1" />
<circle cx="348.07" cy="86.36" r="0.6" fill="#6BA9F1" />
<circle cx="360.23" cy="86.68" r="0.6" fill="#6BA9F1" />
<circle cx="365.82" cy="86.09" r="0.6" fill="#6BA9F1" />
<circle cx="360.97" cy="86.20" r="0.6" fill="#6BA9F1" />
<circle cx="354.43" cy="86.58" r="0.6" fill="#6BA9F1" />
<circle cx="365.18" cy="86.67" r="0.6" fill="#6BA9F1" />
<circle cx="368.38" cy="86.02" r="0.6" fill="#6BA9F1" />
<circle cx="353.86" cy="86.48" r="0.6" fill="#6BA9F1" />
<circle cx="347.79" cy="86.05" r="0.6" fill="#6BA9F1" />
<circle cx="354.96" cy="86.56" r="0.6" fill="#6BA9F1" />
<circle cx="349.94" cy="86.07" r="0.6" fill="#6BA9F1" />
<circle cx="353.92" cy="86.74" r="0.6" fill="#6BA9F1" />
<circle cx="359.31" cy="87.00" r="0.6" fill="#6BA9F1" />
<circle cx="360.13" cy="86.89" r="0.6" fill="#6BA9F1" />
<circle cx="359.43" cy="86.48" r="0.6" fill="#6BA9F1" />
<circle cx="356.02" cy="86.07" r="0.6" fill="#6BA9F1" />
<circle cx="348.37" cy="86.66" r="0.6" fill="#6BA9F1" />
<circle cx="365.64" cy="86.02" r="0.6" fill="#6BA9F1" />
<circle cx="350.91" cy="86.33" r="0.6" fill="#6BA9F1" />
<circle cx="353.79" cy="86.83" r="0.6" fill="#6BA9F1" />
<line x1="353.05" y1="80.30" x2="354.93" y2="81.02" stroke="#FFFFFF" stroke-width="0.55" stroke-opacity="0.9"/>
<line x1="353.89" y1="81.48" x2="355.16" y2="81.37" stroke="#FFFFFF" stroke-width="0.55" stroke-opacity="0.9"/>
<line x1="366.54" y1="79.98" x2="368.24" y2="80.23" stroke="#FFFFFF" stroke-width="0.55" stroke-opacity="0.9"/>
<line x1="359.31" y1="81.27" x2="361.36" y2="81.55" stroke="#FFFFFF" stroke-width="0.55" stroke-opacity="0.9"/>
<line x1="354.45" y1="80.47" x2="356.21" y2="80.50" stroke="#FFFFFF" stroke-width="0.55" stroke-opacity="0.9"/>
<line x1="359.34" y1="82.35" x2="361.09" y2="82.27" stroke="#FFFFFF" stroke-width="0.55" stroke-opacity="0.9"/>
<line x1="364.65" y1="82.70" x2="366.19" y2="83.06" stroke="#FFFFFF" stroke-width="0.55" stroke-opacity="0.9"/>
<line x1="352.95" y1="81.87" x2="354.21" y2="81.88" stroke="#FFFFFF" stroke-width="0.55" stroke-opacity="0.9"/>
<line x1="359.40" y1="81.72" x2="361.88" y2="82.19" stroke="#FFFFFF" stroke-width="0.55" stroke-opacity="0.9"/>
<line x1="359.26" y1="80.99" x2="360.48" y2="81.07" stroke="#FFFFFF" stroke-width="0.55" stroke-opacity="0.9"/>
<line x1="359.24" y1="81.87" x2="360.68" y2="82.01" stroke="#FFFFFF" stroke-width="0.55" stroke-opacity="0.9"/>
<line x1="349.03" y1="81.81" x2="351.38" y2="81.71" stroke="#FFFFFF" stroke-width="0.55" stroke-opacity="0.9"/>
<line x1="361.75" y1="81.58" x2="363.38" y2="80.93" stroke="#FFFFFF" stroke-width="0.55" stroke-opacity="0.9"/>
<line x1="363.16" y1="80.49" x2="364.59" y2="80.39" stroke="#FFFFFF" stroke-width="0.55" stroke-opacity="0.9"/>
<line x1="364.66" y1="82.64" x2="366.65" y2="83.39" stroke="#FFFFFF" stroke-width="0.55" stroke-opacity="0.9"/>
<line x1="351.47" y1="80.97" x2="352.68" y2="80.54" stroke="#FFFFFF" stroke-width="0.55" stroke-opacity="0.9"/>
<line x1="365.53" y1="79.41" x2="367.65" y2="79.43" stroke="#FFFFFF" stroke-width="0.55" stroke-opacity="0.9"/>
<line x1="367.75" y1="82.78" x2="369.12" y2="82.40" stroke="#FFFFFF" stroke-width="0.55" stroke-opacity="0.9"/>
<line x1="367.83" y1="80.39" x2="369.28" y2="81.05" stroke="#FFFFFF" stroke-width="0.55" stroke-opacity="0.9"/>
<line x1="360.34" y1="80.31" x2="362.32" y2="80.19" stroke="#FFFFFF" stroke-width="0.55" stroke-opacity="0.9"/>
<line x1="357.16" y1="81.19" x2="358.60" y2="81.37" stroke="#FFFFFF" stroke-width="0.55" stroke-opacity="0.9"/>
<line x1="367.10" y1="81.33" x2="369.41" y2="80.98" stroke="#FFFFFF" stroke-width="0.55" stroke-opacity="0.9"/>
<circle cx="350.75" cy="92.47" r="0.7" fill="#6BA9F1" />
<circle cx="368.11" cy="94.52" r="0.7" fill="#6BA9F1" />
<circle cx="355.48" cy="93.83" r="0.7" fill="#6BA9F1" />
<circle cx="362.93" cy="94.60" r="0.7" fill="#6BA9F1" />
<circle cx="356.73" cy="94.17" r="0.7" fill="#6BA9F1" />
<circle cx="356.79" cy="94.21" r="0.7" fill="#6BA9F1" />
<circle cx="348.63" cy="93.16" r="0.7" fill="#6BA9F1" />
<circle cx="349.54" cy="92.83" r="0.7" fill="#6BA9F1" />
<circle cx="356.81" cy="93.36" r="0.7" fill="#6BA9F1" />
<circle cx="356.93" cy="94.25" r="0.7" fill="#6BA9F1" />
<circle cx="348.26" cy="92.44" r="0.7" fill="#6BA9F1" />
<circle cx="367.99" cy="94.94" r="0.7" fill="#6BA9F1" />
<circle cx="355.68" cy="94.19" r="0.7" fill="#6BA9F1" />
<circle cx="363.79" cy="94.12" r="0.7" fill="#6BA9F1" />
<circle cx="360.06" cy="93.72" r="0.7" fill="#6BA9F1" />
<circle cx="363.79" cy="94.62" r="0.7" fill="#6BA9F1" />
<circle cx="364.27" cy="94.03" r="0.7" fill="#6BA9F1" />
<circle cx="366.99" cy="94.54" r="0.7" fill="#6BA9F1" />
<circle cx="365.35" cy="94.64" r="0.7" fill="#6BA9F1" />
<circle cx="366.17" cy="94.29" r="0.7" fill="#6BA9F1" />
<circle cx="348.63" cy="92.83" r="0.7" fill="#6BA9F1" />
<circle cx="367.04" cy="94.85" r="0.7" fill="#6BA9F1" />
<circle cx="358.16" cy="93.49" r="0.7" fill="#6BA9F1" />
<circle cx="358.86" cy="93.91" r="0.7" fill="#6BA9F1" />
<circle cx="366.15" cy="95.11" r="0.7" fill="#6BA9F1" />
<circle cx="357.53" cy="93.40" r="0.7" fill="#6BA9F1" />
<circle cx="350.57" cy="93.70" r="0.7" fill="#6BA9F1" />
<circle cx="360.33" cy="93.80" r="0.7" fill="#6BA9F1" />
<circle cx="364.53" cy="94.25" r="0.7" fill="#6BA9F1" />
<circle cx="357.03" cy="94.29" r="0.7" fill="#6BA9F1" />
<circle cx="349.50" cy="99.30" r="0.8" fill="#6BA9F1" />
<circle cx="300.00" cy="82.00" r="0.8" fill="#6BA9F1" />
<circle cx="302.00" cy="80.50" r="0.8" fill="#6BA9F1" />
<circle cx="310.00" cy="77.50" r="0.8" fill="#6BA9F1" />
<circle cx="314.00" cy="76.00" r="0.8" fill="#6BA9F1" />
<line x1="291.30" y1="89.20" x2="373.00" y2="89.20" stroke="#E3312F" stroke-width="1.5" stroke-dasharray="4.5,4.2" stroke-dashoffset="1"/>
<rect x="291.30" y="103.30" width="81.70" height="5.70" fill="#F7F7F7" stroke="#E3E3E3" stroke-width="0.6" />
<text x="332.15" y="108.20" font-family='"Liberation Sans", sans-serif' font-size="6.8" font-weight="bold" font-style="normal" fill="#1A1A1A" text-anchor="middle" >TCGA</text>
<line x1="306.00" y1="109.00" x2="306.00" y2="111.20" stroke="#222" stroke-width="0.9" />
<text transform="translate(308.00,118.90) rotate(-30)" x="0" y="0" font-family='"Liberation Sans", sans-serif' font-size="6.2" fill="#2A2A2A" stroke="#2A2A2A" stroke-width="0.28" text-anchor="end">SKCM</text>
<line x1="331.60" y1="109.00" x2="331.60" y2="111.20" stroke="#222" stroke-width="0.9" />
<text transform="translate(333.60,118.90) rotate(-30)" x="0" y="0" font-family='"Liberation Sans", sans-serif' font-size="6.2" fill="#2A2A2A" stroke="#2A2A2A" stroke-width="0.28" text-anchor="end">UCEC</text>
<line x1="357.00" y1="109.00" x2="357.00" y2="111.20" stroke="#222" stroke-width="0.9" />
<text transform="translate(359.00,118.90) rotate(-30)" x="0" y="0" font-family='"Liberation Sans", sans-serif' font-size="6.2" fill="#2A2A2A" stroke="#2A2A2A" stroke-width="0.28" text-anchor="end">Other</text>
<circle cx="65.90" cy="147.50" r="2.6" fill="#6FA5EA" />
<text x="78.50" y="150.30" font-family='"Liberation Sans", sans-serif' font-size="8" font-weight="normal" font-style="normal" fill="#1A1A1A" text-anchor="start" >coding:coding</text>
<circle cx="141.20" cy="147.50" r="2.6" fill="#E38049" />
<text x="153.80" y="150.30" font-family='"Liberation Sans", sans-serif' font-size="8" font-weight="normal" font-style="normal" fill="#1A1A1A" text-anchor="start" >coding:non-coding</text>
<circle cx="233.40" cy="147.50" r="2.6" fill="#1F3552" />
<text x="246.00" y="150.30" font-family='"Liberation Sans", sans-serif' font-size="8" font-weight="normal" font-style="normal" fill="#1A1A1A" text-anchor="start" >non-coding:non-coding</text>
<path d="M469.30,20.70 A65,65 0 0 0 454.10,22.50 L457.60,37.09 A50,50 0 0 1 469.30,35.70 Z" fill="#1071C6"/>
<path d="M454.10,22.50 A65,65 0 1 0 534.30,85.70 L519.30,85.70 A50,50 0 1 1 457.60,37.09 Z" fill="#E8504C"/>
<path d="M469.30,41.20 A44.5,44.5 0 0 0 426.10,75.04 L441.14,78.75 A29,29 0 0 1 469.30,56.70 Z" fill="#1071C6"/>
<path d="M426.10,75.04 A44.5,44.5 0 0 0 443.78,122.15 L452.67,109.46 A29,29 0 0 1 441.14,78.75 Z" fill="#E8504C"/>
<path d="M469.30,62.00 A23.7,23.7 0 0 0 452.41,69.08 L462.74,79.25 A9.2,9.2 0 0 1 469.30,76.50 Z" fill="#1071C6"/>
<path d="M452.41,69.08 A23.7,23.7 0 0 0 447.03,93.81 L460.65,88.85 A9.2,9.2 0 0 1 462.74,79.25 Z" fill="#E8504C"/>
<text x="397.50" y="21.30" font-family='"Liberation Serif", serif' font-size="12" font-weight="bold" font-style="normal" fill="#000" text-anchor="start" >G</text>
<text x="471.50" y="30.70" font-family='"Liberation Serif", serif' font-size="8.2" font-weight="normal" font-style="normal" fill="#000" text-anchor="start" >Race</text>
<text x="471.50" y="51.50" font-family='"Liberation Serif", serif' font-size="8.2" font-weight="normal" font-style="normal" fill="#000" text-anchor="start" >Age</text>
<text x="471.50" y="72.50" font-family='"Liberation Serif", serif' font-size="8.2" font-weight="normal" font-style="normal" fill="#000" text-anchor="start" >Sex</text>
<rect x="491.00" y="39.00" width="10.50" height="10.50" fill="#1071C6" stroke="none" stroke-width="0" />
<rect x="491.00" y="51.00" width="10.50" height="10.30" fill="#E8504C" stroke="none" stroke-width="0" />
<text x="503.00" y="46.30" font-family='"Liberation Serif", serif' font-size="6.2" font-weight="normal" font-style="normal" fill="#000" text-anchor="start" >Improved</text>
<text x="503.00" y="58.20" font-family='"Liberation Serif", serif' font-size="6.2" font-weight="normal" font-style="normal" fill="#000" text-anchor="start" >Not improved</text>
<text x="457.00" y="29.30" font-family='"Liberation Sans", sans-serif' font-size="4.5" font-weight="bold" font-style="normal" fill="#EAF2FF" text-anchor="start" >5.01%</text>
<text x="443.70" y="56.20" font-family='"Liberation Sans", sans-serif' font-size="4.5" font-weight="bold" font-style="normal" fill="#EAF2FF" text-anchor="start" >52.51%</text>
<text x="455.00" y="71.80" font-family='"Liberation Sans", sans-serif' font-size="4.5" font-weight="bold" font-style="normal" fill="#EAF2FF" text-anchor="start" >41.33%</text>
<text x="447.00" y="82.30" font-family='"Liberation Sans", sans-serif' font-size="4.5" font-weight="bold" font-style="normal" fill="#EAF2FF" text-anchor="start" >58.67%</text>
<text x="427.00" y="101.30" font-family='"Liberation Sans", sans-serif' font-size="4.5" font-weight="bold" font-style="normal" fill="#EAF2FF" text-anchor="start" >47.49%</text>
<text x="462.70" y="146.80" font-family='"Liberation Sans", sans-serif' font-size="4.5" font-weight="bold" font-style="normal" fill="#EAF2FF" text-anchor="start" >94.99%</text>
<text x="8.50" y="164.40" font-family='"Liberation Serif", serif' font-size="12" font-weight="bold" font-style="normal" fill="#000" text-anchor="start" >B</text>
<text x="33.00" y="169.30" font-family='"Liberation Serif", serif' font-size="5.95" font-weight="bold" font-style="normal" fill="#000" text-anchor="start" >LGG TP53:IDH1 (adjusted<tspan x="103.7">p</tspan><tspan x="108.5">=</tspan><tspan x="113.3">1.</tspan><tspan x="118.9">36</tspan><tspan x="127.7" font-size="6.6">&#215;</tspan><tspan x="133.5">10</tspan><tspan x="139.8" dy="-2.4" font-size="4.6">&#8722;9</tspan><tspan x="145.6" dy="2.4">)</tspan></text>
<rect x="34.40" y="171.00" width="65.90" height="74.20" fill="#FFFFFF" stroke="#E3E3E3" stroke-width="0.6" />
<rect x="105.00" y="171.00" width="65.50" height="74.20" fill="#FFFFFF" stroke="#E3E3E3" stroke-width="0.6" />
<line x1="31.50" y1="172.00" x2="33.60" y2="172.00" stroke="#222" stroke-width="0.9" />
<text x="30.70" y="173.66" font-family='"Liberation Sans", sans-serif' font-size="4.6" font-weight="normal" font-style="normal" fill="#777777" text-anchor="end" >100</text>
<line x1="31.50" y1="190.80" x2="33.60" y2="190.80" stroke="#222" stroke-width="0.9" />
<text x="30.70" y="192.46" font-family='"Liberation Sans", sans-serif' font-size="4.6" font-weight="normal" font-style="normal" fill="#777777" text-anchor="end" >75</text>
<line x1="31.50" y1="209.50" x2="33.60" y2="209.50" stroke="#222" stroke-width="0.9" />
<text x="30.70" y="211.16" font-family='"Liberation Sans", sans-serif' font-size="4.6" font-weight="normal" font-style="normal" fill="#777777" text-anchor="end" >50</text>
<line x1="31.50" y1="228.10" x2="33.60" y2="228.10" stroke="#222" stroke-width="0.9" />
<text x="30.70" y="229.76" font-family='"Liberation Sans", sans-serif' font-size="4.6" font-weight="normal" font-style="normal" fill="#777777" text-anchor="end" >25</text>
<text transform="translate(19.5,208.3) rotate(-90)" font-family='"Liberation Sans", sans-serif' font-size="6.2" font-weight="bold" font-style="italic" fill="#000" text-anchor="middle">Age</text>
<path d="M46.90,184.90 L46.92,185.29 L46.94,185.79 L46.97,186.39 L47.01,187.06 L47.05,187.78 L47.09,188.53 L47.14,189.28 L47.20,190.00 L47.26,190.72 L47.32,191.47 L47.39,192.23 L47.46,193.01 L47.55,193.80 L47.65,194.60 L47.76,195.40 L47.90,196.20 L48.06,197.01 L48.24,197.84 L48.43,198.69 L48.64,199.54 L48.86,200.37 L49.10,201.19 L49.34,201.97 L49.60,202.70 L49.87,203.38 L50.17,204.02 L50.47,204.62 L50.79,205.20 L51.12,205.77 L51.45,206.33 L51.78,206.91 L52.10,207.50 L52.43,208.11 L52.76,208.72 L53.11,209.33 L53.45,209.94 L53.79,210.56 L54.11,211.17 L54.42,211.79 L54.70,212.40 L54.97,213.02 L55.22,213.66 L55.47,214.31 L55.70,214.96 L55.91,215.59 L56.10,216.19 L56.27,216.77 L56.40,217.30 L56.51,217.77 L56.60,218.18 L56.67,218.55 L56.71,218.90 L56.73,219.25 L56.72,219.62 L56.68,220.03 L56.60,220.50 L56.48,221.04 L56.32,221.65 L56.12,222.29 L55.90,222.95 L55.66,223.61 L55.40,224.25 L55.15,224.86 L54.90,225.40 L54.66,225.88 L54.42,226.32 L54.17,226.72 L53.91,227.10 L53.64,227.47 L53.35,227.83 L53.04,228.21 L52.70,228.60 L52.31,229.01 L51.88,229.44 L51.41,229.87 L50.93,230.30 L50.45,230.72 L49.99,231.14 L49.57,231.53 L49.20,231.90 L48.88,232.25 L48.60,232.58 L48.34,232.90 L48.11,233.20 L47.91,233.49 L47.72,233.77 L47.55,234.04 L47.40,234.30 L47.27,234.51 L47.17,234.65 L47.10,234.76 L47.04,234.86 L46.99,235.01 L46.96,235.22 L46.93,235.54 L46.90,236.00 L46.90,236.67 L46.90,237.54 L46.90,238.54 L46.90,239.61 L46.90,240.65 L46.90,241.62 L46.90,242.42 L46.90,243.00 L46.50,243.00 L46.50,242.42 L46.50,241.62 L46.50,240.65 L46.50,239.61 L46.50,238.54 L46.50,237.54 L46.50,236.67 L46.50,236.00 L46.47,235.54 L46.44,235.22 L46.41,235.01 L46.36,234.86 L46.30,234.76 L46.23,234.65 L46.13,234.51 L46.00,234.30 L45.85,234.04 L45.68,233.77 L45.49,233.49 L45.29,233.20 L45.06,232.90 L44.80,232.58 L44.52,232.25 L44.20,231.90 L43.83,231.53 L43.41,231.14 L42.95,230.72 L42.48,230.30 L41.99,229.87 L41.52,229.44 L41.09,229.01 L40.70,228.60 L40.36,228.21 L40.05,227.83 L39.76,227.47 L39.49,227.10 L39.23,226.72 L38.98,226.32 L38.74,225.88 L38.50,225.40 L38.25,224.86 L38.00,224.25 L37.74,223.61 L37.50,222.95 L37.28,222.29 L37.08,221.65 L36.92,221.04 L36.80,220.50 L36.72,220.03 L36.68,219.62 L36.67,219.25 L36.69,218.90 L36.73,218.55 L36.80,218.18 L36.89,217.77 L37.00,217.30 L37.13,216.77 L37.30,216.19 L37.49,215.59 L37.70,214.96 L37.93,214.31 L38.18,213.66 L38.43,213.02 L38.70,212.40 L38.98,211.79 L39.29,211.17 L39.61,210.56 L39.95,209.94 L40.29,209.33 L40.64,208.72 L40.97,208.11 L41.30,207.50 L41.62,206.91 L41.95,206.33 L42.28,205.77 L42.61,205.20 L42.93,204.62 L43.23,204.02 L43.53,203.38 L43.80,202.70 L44.06,201.97 L44.30,201.19 L44.54,200.37 L44.76,199.54 L44.97,198.69 L45.16,197.84 L45.34,197.01 L45.50,196.20 L45.64,195.40 L45.75,194.60 L45.85,193.80 L45.94,193.01 L46.01,192.23 L46.08,191.47 L46.14,190.72 L46.20,190.00 L46.26,189.28 L46.31,188.53 L46.35,187.78 L46.39,187.06 L46.43,186.39 L46.46,185.79 L46.48,185.29 L46.50,184.90 Z" fill="#0F9A16" stroke="#1a1a1a" stroke-width="0.5" stroke-linejoin="round"/>
<line x1="46.70" y1="184.90" x2="46.70" y2="243.00" stroke="#1a1a1a" stroke-width="0.6" />
<rect x="43.70" y="213.60" width="5.80" height="10.00" fill="#FFFFFF" stroke="#1a1a1a" stroke-width="0.6" />
<line x1="43.70" y1="219.20" x2="49.50" y2="219.20" stroke="#1a1a1a" stroke-width="0.8" />
<path d="M67.40,183.60 L67.43,184.10 L67.46,184.75 L67.51,185.54 L67.56,186.41 L67.61,187.33 L67.67,188.26 L67.73,189.17 L67.80,190.00 L67.87,190.78 L67.93,191.56 L68.00,192.33 L68.08,193.09 L68.16,193.86 L68.25,194.63 L68.37,195.41 L68.50,196.20 L68.65,197.01 L68.82,197.84 L68.99,198.69 L69.19,199.54 L69.39,200.37 L69.62,201.19 L69.85,201.97 L70.10,202.70 L70.38,203.38 L70.68,204.02 L71.01,204.62 L71.35,205.20 L71.69,205.77 L72.02,206.33 L72.32,206.91 L72.60,207.50 L72.85,208.11 L73.07,208.72 L73.28,209.33 L73.48,209.94 L73.66,210.56 L73.84,211.17 L74.02,211.79 L74.20,212.40 L74.39,213.02 L74.58,213.66 L74.77,214.31 L74.95,214.96 L75.12,215.59 L75.27,216.19 L75.40,216.77 L75.50,217.30 L75.57,217.77 L75.62,218.18 L75.65,218.55 L75.66,218.90 L75.65,219.25 L75.62,219.62 L75.57,220.03 L75.50,220.50 L75.40,221.04 L75.27,221.65 L75.12,222.29 L74.95,222.95 L74.77,223.61 L74.58,224.25 L74.39,224.86 L74.20,225.40 L74.02,225.88 L73.84,226.32 L73.66,226.72 L73.48,227.10 L73.28,227.47 L73.07,227.83 L72.85,228.21 L72.60,228.60 L72.33,229.01 L72.03,229.42 L71.71,229.83 L71.38,230.25 L71.04,230.67 L70.71,231.08 L70.39,231.49 L70.10,231.90 L69.82,232.31 L69.53,232.74 L69.26,233.16 L68.99,233.59 L68.73,234.00 L68.50,234.39 L68.28,234.76 L68.10,235.10 L67.95,235.37 L67.82,235.57 L67.71,235.73 L67.62,235.88 L67.55,236.04 L67.50,236.27 L67.45,236.58 L67.40,237.00 L67.40,237.59 L67.40,238.35 L67.40,239.21 L67.40,240.12 L67.40,241.01 L67.40,241.83 L67.40,242.51 L67.40,243.00 L67.00,243.00 L67.00,242.51 L67.00,241.83 L67.00,241.01 L67.00,240.12 L67.00,239.21 L67.00,238.35 L67.00,237.59 L67.00,237.00 L66.95,236.58 L66.90,236.27 L66.85,236.04 L66.78,235.88 L66.69,235.73 L66.58,235.57 L66.45,235.37 L66.30,235.10 L66.12,234.76 L65.90,234.39 L65.67,234.00 L65.41,233.59 L65.14,233.16 L64.87,232.74 L64.58,232.31 L64.30,231.90 L64.01,231.49 L63.69,231.08 L63.36,230.67 L63.03,230.25 L62.69,229.83 L62.37,229.42 L62.07,229.01 L61.80,228.60 L61.55,228.21 L61.33,227.83 L61.12,227.47 L60.93,227.10 L60.74,226.72 L60.56,226.32 L60.38,225.88 L60.20,225.40 L60.01,224.86 L59.82,224.25 L59.63,223.61 L59.45,222.95 L59.28,222.29 L59.13,221.65 L59.00,221.04 L58.90,220.50 L58.83,220.03 L58.78,219.62 L58.75,219.25 L58.74,218.90 L58.75,218.55 L58.78,218.18 L58.83,217.77 L58.90,217.30 L59.00,216.77 L59.13,216.19 L59.28,215.59 L59.45,214.96 L59.63,214.31 L59.82,213.66 L60.01,213.02 L60.20,212.40 L60.38,211.79 L60.56,211.17 L60.74,210.56 L60.93,209.94 L61.12,209.33 L61.33,208.72 L61.55,208.11 L61.80,207.50 L62.08,206.91 L62.38,206.33 L62.71,205.77 L63.05,205.20 L63.39,204.62 L63.72,204.02 L64.02,203.38 L64.30,202.70 L64.55,201.97 L64.78,201.19 L65.01,200.37 L65.21,199.54 L65.41,198.69 L65.58,197.84 L65.75,197.01 L65.90,196.20 L66.03,195.41 L66.15,194.63 L66.24,193.86 L66.33,193.09 L66.40,192.33 L66.47,191.56 L66.53,190.78 L66.60,190.00 L66.67,189.17 L66.73,188.26 L66.79,187.33 L66.84,186.41 L66.89,185.54 L66.94,184.75 L66.97,184.10 L67.00,183.60 Z" fill="#1B82E0" stroke="#1a1a1a" stroke-width="0.5" stroke-linejoin="round"/>
<line x1="67.20" y1="183.60" x2="67.20" y2="243.00" stroke="#1a1a1a" stroke-width="0.6" />
<rect x="64.30" y="209.20" width="5.80" height="12.60" fill="#FFFFFF" stroke="#1a1a1a" stroke-width="0.6" />
<line x1="64.30" y1="217.00" x2="70.10" y2="217.00" stroke="#1a1a1a" stroke-width="0.8" />
<path d="M87.80,185.70 L87.82,186.02 L87.84,186.43 L87.87,186.91 L87.91,187.46 L87.95,188.06 L87.99,188.69 L88.04,189.34 L88.10,190.00 L88.16,190.68 L88.24,191.41 L88.31,192.17 L88.39,192.96 L88.48,193.77 L88.58,194.58 L88.69,195.40 L88.80,196.20 L88.92,197.01 L89.04,197.84 L89.17,198.69 L89.30,199.54 L89.45,200.37 L89.61,201.19 L89.79,201.97 L90.00,202.70 L90.23,203.38 L90.49,204.02 L90.77,204.62 L91.07,205.20 L91.37,205.77 L91.69,206.33 L92.00,206.91 L92.30,207.50 L92.61,208.11 L92.93,208.72 L93.25,209.33 L93.58,209.94 L93.90,210.56 L94.22,211.17 L94.52,211.79 L94.80,212.40 L95.07,213.02 L95.33,213.66 L95.59,214.31 L95.83,214.96 L96.06,215.59 L96.26,216.19 L96.45,216.77 L96.60,217.30 L96.73,217.77 L96.84,218.18 L96.92,218.55 L96.99,218.90 L97.03,219.25 L97.05,219.62 L97.04,220.03 L97.00,220.50 L96.93,221.04 L96.83,221.65 L96.70,222.29 L96.55,222.95 L96.38,223.61 L96.19,224.25 L96.00,224.86 L95.80,225.40 L95.60,225.88 L95.38,226.32 L95.16,226.72 L94.92,227.10 L94.67,227.47 L94.40,227.83 L94.11,228.21 L93.80,228.60 L93.46,229.01 L93.08,229.44 L92.68,229.87 L92.27,230.30 L91.85,230.72 L91.44,231.14 L91.06,231.53 L90.70,231.90 L90.36,232.25 L90.03,232.58 L89.70,232.90 L89.39,233.20 L89.10,233.49 L88.84,233.77 L88.60,234.04 L88.40,234.30 L88.24,234.51 L88.12,234.66 L88.02,234.78 L87.96,234.90 L87.91,235.05 L87.87,235.26 L87.83,235.57 L87.80,236.00 L87.80,236.62 L87.80,237.42 L87.80,238.34 L87.80,239.31 L87.80,240.26 L87.80,241.14 L87.80,241.87 L87.80,242.40 L87.40,242.40 L87.40,241.87 L87.40,241.14 L87.40,240.26 L87.40,239.31 L87.40,238.34 L87.40,237.42 L87.40,236.62 L87.40,236.00 L87.37,235.57 L87.33,235.26 L87.29,235.05 L87.24,234.90 L87.18,234.78 L87.08,234.66 L86.96,234.51 L86.80,234.30 L86.60,234.04 L86.36,233.77 L86.10,233.49 L85.81,233.20 L85.50,232.90 L85.17,232.58 L84.84,232.25 L84.50,231.90 L84.14,231.53 L83.76,231.14 L83.35,230.72 L82.93,230.30 L82.52,229.87 L82.12,229.44 L81.74,229.01 L81.40,228.60 L81.09,228.21 L80.80,227.83 L80.53,227.47 L80.28,227.10 L80.04,226.72 L79.82,226.32 L79.60,225.88 L79.40,225.40 L79.20,224.86 L79.01,224.25 L78.82,223.61 L78.65,222.95 L78.50,222.29 L78.37,221.65 L78.27,221.04 L78.20,220.50 L78.16,220.03 L78.15,219.62 L78.17,219.25 L78.21,218.90 L78.28,218.55 L78.36,218.18 L78.47,217.77 L78.60,217.30 L78.75,216.77 L78.94,216.19 L79.14,215.59 L79.37,214.96 L79.61,214.31 L79.87,213.66 L80.13,213.02 L80.40,212.40 L80.68,211.79 L80.98,211.17 L81.30,210.56 L81.62,209.94 L81.95,209.33 L82.27,208.72 L82.59,208.11 L82.90,207.50 L83.20,206.91 L83.51,206.33 L83.83,205.77 L84.13,205.20 L84.43,204.62 L84.71,204.02 L84.97,203.38 L85.20,202.70 L85.41,201.97 L85.59,201.19 L85.75,200.37 L85.90,199.54 L86.03,198.69 L86.16,197.84 L86.28,197.01 L86.40,196.20 L86.51,195.40 L86.62,194.58 L86.72,193.77 L86.81,192.96 L86.89,192.17 L86.96,191.41 L87.04,190.68 L87.10,190.00 L87.16,189.34 L87.21,188.69 L87.25,188.06 L87.29,187.46 L87.33,186.91 L87.36,186.43 L87.38,186.02 L87.40,185.70 Z" fill="#D5AE08" stroke="#1a1a1a" stroke-width="0.5" stroke-linejoin="round"/>
<line x1="87.60" y1="185.70" x2="87.60" y2="242.40" stroke="#1a1a1a" stroke-width="0.6" />
<rect x="84.80" y="214.00" width="5.80" height="9.30" fill="#FFFFFF" stroke="#1a1a1a" stroke-width="0.6" />
<line x1="84.80" y1="219.00" x2="90.60" y2="219.00" stroke="#1a1a1a" stroke-width="0.8" />
<path d="M117.00,172.80 L117.00,173.53 L117.00,174.53 L117.00,175.73 L117.00,177.04 L117.00,178.39 L117.00,179.72 L117.00,180.95 L117.00,182.00 L117.06,182.90 L117.13,183.72 L117.21,184.48 L117.31,185.19 L117.42,185.86 L117.57,186.51 L117.74,187.16 L117.95,187.80 L118.20,188.43 L118.50,189.01 L118.83,189.57 L119.18,190.11 L119.55,190.65 L119.93,191.21 L120.30,191.79 L120.65,192.40 L121.00,193.05 L121.37,193.73 L121.75,194.42 L122.12,195.13 L122.49,195.85 L122.84,196.57 L123.16,197.29 L123.45,198.00 L123.72,198.70 L123.97,199.40 L124.21,200.10 L124.43,200.79 L124.62,201.50 L124.77,202.22 L124.89,202.95 L124.95,203.70 L124.94,204.47 L124.85,205.27 L124.71,206.08 L124.54,206.90 L124.36,207.73 L124.20,208.56 L124.09,209.38 L124.05,210.20 L124.09,211.02 L124.21,211.84 L124.37,212.67 L124.55,213.50 L124.72,214.32 L124.87,215.13 L124.95,215.93 L124.95,216.70 L124.87,217.45 L124.73,218.18 L124.55,218.90 L124.33,219.61 L124.08,220.30 L123.81,221.00 L123.53,221.70 L123.25,222.40 L122.95,223.10 L122.62,223.81 L122.27,224.51 L121.90,225.21 L121.53,225.90 L121.15,226.60 L120.79,227.30 L120.45,228.00 L120.11,228.72 L119.77,229.46 L119.42,230.22 L119.08,230.97 L118.76,231.70 L118.46,232.39 L118.19,233.03 L117.95,233.60 L117.75,234.07 L117.58,234.45 L117.44,234.77 L117.32,235.06 L117.22,235.34 L117.13,235.66 L117.06,236.03 L117.00,236.50 L117.00,237.10 L117.00,237.82 L117.00,238.61 L117.00,239.43 L117.00,240.23 L117.00,240.95 L117.00,241.56 L117.00,242.00 L116.60,242.00 L116.60,241.56 L116.60,240.95 L116.60,240.23 L116.60,239.43 L116.60,238.61 L116.60,237.82 L116.60,237.10 L116.60,236.50 L116.54,236.03 L116.47,235.66 L116.38,235.34 L116.28,235.06 L116.16,234.77 L116.02,234.45 L115.85,234.07 L115.65,233.60 L115.41,233.03 L115.14,232.39 L114.84,231.70 L114.52,230.97 L114.18,230.22 L113.83,229.46 L113.49,228.72 L113.15,228.00 L112.81,227.30 L112.45,226.60 L112.07,225.90 L111.70,225.21 L111.33,224.51 L110.98,223.81 L110.65,223.10 L110.35,222.40 L110.07,221.70 L109.79,221.00 L109.52,220.30 L109.27,219.61 L109.05,218.90 L108.87,218.18 L108.73,217.45 L108.65,216.70 L108.65,215.93 L108.73,215.13 L108.88,214.32 L109.05,213.50 L109.23,212.67 L109.39,211.84 L109.51,211.02 L109.55,210.20 L109.51,209.38 L109.40,208.56 L109.24,207.73 L109.06,206.90 L108.89,206.08 L108.75,205.27 L108.66,204.47 L108.65,203.70 L108.71,202.95 L108.83,202.22 L108.98,201.50 L109.17,200.79 L109.39,200.10 L109.63,199.40 L109.88,198.70 L110.15,198.00 L110.44,197.29 L110.76,196.57 L111.11,195.85 L111.47,195.13 L111.85,194.42 L112.23,193.73 L112.60,193.05 L112.95,192.40 L113.30,191.79 L113.67,191.21 L114.05,190.65 L114.42,190.11 L114.77,189.57 L115.10,189.01 L115.40,188.43 L115.65,187.80 L115.86,187.16 L116.03,186.51 L116.18,185.86 L116.29,185.19 L116.39,184.48 L116.47,183.72 L116.54,182.90 L116.60,182.00 L116.60,180.95 L116.60,179.72 L116.60,178.39 L116.60,177.04 L116.60,175.73 L116.60,174.53 L116.60,173.53 L116.60,172.80 Z" fill="#0F9A16" stroke="#1a1a1a" stroke-width="0.5" stroke-linejoin="round"/>
<line x1="116.80" y1="172.80" x2="116.80" y2="242.00" stroke="#1a1a1a" stroke-width="0.6" />
<rect x="113.90" y="203.30" width="5.80" height="15.70" fill="#FFFFFF" stroke="#1a1a1a" stroke-width="0.6" />
<line x1="113.90" y1="210.60" x2="119.70" y2="210.60" stroke="#1a1a1a" stroke-width="0.8" />
<path d="M137.50,172.80 L137.50,173.44 L137.50,174.31 L137.50,175.34 L137.50,176.48 L137.50,177.67 L137.50,178.86 L137.50,179.99 L137.50,181.00 L137.59,181.93 L137.70,182.85 L137.83,183.75 L137.98,184.62 L138.14,185.47 L138.33,186.29 L138.53,187.06 L138.75,187.80 L138.99,188.47 L139.24,189.08 L139.51,189.64 L139.80,190.18 L140.10,190.70 L140.43,191.23 L140.78,191.79 L141.15,192.40 L141.56,193.05 L142.03,193.73 L142.52,194.42 L143.03,195.13 L143.54,195.85 L144.02,196.57 L144.46,197.29 L144.85,198.00 L145.20,198.70 L145.53,199.40 L145.84,200.10 L146.12,200.79 L146.36,201.50 L146.55,202.22 L146.68,202.95 L146.75,203.70 L146.73,204.47 L146.61,205.27 L146.43,206.08 L146.20,206.90 L145.95,207.73 L145.71,208.56 L145.50,209.38 L145.35,210.20 L145.25,211.02 L145.18,211.84 L145.13,212.67 L145.09,213.50 L145.05,214.32 L145.00,215.13 L144.94,215.93 L144.85,216.70 L144.74,217.45 L144.61,218.18 L144.48,218.90 L144.33,219.61 L144.17,220.30 L144.01,221.00 L143.83,221.70 L143.65,222.40 L143.46,223.10 L143.26,223.81 L143.05,224.51 L142.83,225.21 L142.60,225.90 L142.36,226.60 L142.11,227.30 L141.85,228.00 L141.57,228.72 L141.27,229.47 L140.95,230.22 L140.63,230.98 L140.31,231.71 L140.00,232.40 L139.71,233.03 L139.45,233.60 L139.21,234.09 L138.99,234.51 L138.78,234.89 L138.58,235.22 L138.40,235.52 L138.23,235.81 L138.08,236.10 L137.95,236.40 L137.84,236.69 L137.75,236.94 L137.68,237.18 L137.63,237.41 L137.59,237.64 L137.56,237.89 L137.53,238.18 L137.50,238.50 L137.50,238.89 L137.50,239.36 L137.50,239.86 L137.50,240.38 L137.50,240.88 L137.50,241.34 L137.50,241.72 L137.50,242.00 L137.10,242.00 L137.10,241.72 L137.10,241.34 L137.10,240.88 L137.10,240.38 L137.10,239.86 L137.10,239.36 L137.10,238.89 L137.10,238.50 L137.07,238.18 L137.04,237.89 L137.01,237.64 L136.97,237.41 L136.92,237.18 L136.85,236.94 L136.76,236.69 L136.65,236.40 L136.52,236.10 L136.37,235.81 L136.20,235.52 L136.02,235.22 L135.82,234.89 L135.61,234.51 L135.39,234.09 L135.15,233.60 L134.89,233.03 L134.60,232.40 L134.29,231.71 L133.97,230.98 L133.65,230.22 L133.33,229.47 L133.03,228.72 L132.75,228.00 L132.49,227.30 L132.24,226.60 L132.00,225.90 L131.78,225.21 L131.55,224.51 L131.34,223.81 L131.14,223.10 L130.95,222.40 L130.77,221.70 L130.59,221.00 L130.43,220.30 L130.27,219.61 L130.12,218.90 L129.99,218.18 L129.86,217.45 L129.75,216.70 L129.66,215.93 L129.60,215.13 L129.55,214.32 L129.51,213.50 L129.47,212.67 L129.42,211.84 L129.35,211.02 L129.25,210.20 L129.10,209.38 L128.89,208.56 L128.65,207.73 L128.40,206.90 L128.17,206.08 L127.99,205.27 L127.87,204.47 L127.85,203.70 L127.92,202.95 L128.05,202.22 L128.24,201.50 L128.48,200.79 L128.76,200.10 L129.07,199.40 L129.40,198.70 L129.75,198.00 L130.14,197.29 L130.58,196.57 L131.06,195.85 L131.57,195.13 L132.08,194.42 L132.57,193.73 L133.04,193.05 L133.45,192.40 L133.82,191.79 L134.17,191.23 L134.50,190.70 L134.80,190.18 L135.09,189.64 L135.36,189.08 L135.61,188.47 L135.85,187.80 L136.07,187.06 L136.27,186.29 L136.46,185.47 L136.62,184.62 L136.77,183.75 L136.90,182.85 L137.01,181.93 L137.10,181.00 L137.10,179.99 L137.10,178.86 L137.10,177.67 L137.10,176.48 L137.10,175.34 L137.10,174.31 L137.10,173.44 L137.10,172.80 Z" fill="#1B82E0" stroke="#1a1a1a" stroke-width="0.5" stroke-linejoin="round"/>
<line x1="137.30" y1="172.80" x2="137.30" y2="242.00" stroke="#1a1a1a" stroke-width="0.6" />
<rect x="134.50" y="201.40" width="5.80" height="15.90" fill="#FFFFFF" stroke="#1a1a1a" stroke-width="0.6" />
<line x1="134.50" y1="206.80" x2="140.30" y2="206.80" stroke="#1a1a1a" stroke-width="0.8" />
<path d="M158.10,172.80 L158.10,173.53 L158.10,174.51 L158.10,175.69 L158.10,176.98 L158.10,178.33 L158.10,179.66 L158.10,180.91 L158.10,182.00 L158.17,182.98 L158.26,183.92 L158.36,184.83 L158.48,185.69 L158.61,186.52 L158.75,187.29 L158.90,188.02 L159.05,188.70 L159.20,189.29 L159.35,189.79 L159.50,190.22 L159.67,190.62 L159.85,191.01 L160.05,191.41 L160.28,191.87 L160.55,192.40 L160.87,193.01 L161.23,193.66 L161.62,194.36 L162.04,195.08 L162.46,195.81 L162.88,196.55 L163.28,197.28 L163.65,198.00 L164.01,198.70 L164.38,199.40 L164.75,200.10 L165.11,200.79 L165.44,201.50 L165.73,202.22 L165.97,202.95 L166.15,203.70 L166.26,204.47 L166.30,205.27 L166.29,206.08 L166.24,206.90 L166.17,207.73 L166.08,208.56 L166.01,209.38 L165.95,210.20 L165.91,211.02 L165.88,211.84 L165.84,212.67 L165.80,213.50 L165.75,214.32 L165.67,215.13 L165.58,215.93 L165.45,216.70 L165.29,217.45 L165.11,218.18 L164.91,218.90 L164.69,219.61 L164.46,220.30 L164.20,221.00 L163.93,221.70 L163.65,222.40 L163.34,223.11 L163.00,223.83 L162.63,224.55 L162.25,225.27 L161.87,225.98 L161.50,226.67 L161.16,227.35 L160.85,228.00 L160.57,228.63 L160.31,229.26 L160.06,229.87 L159.83,230.47 L159.62,231.04 L159.42,231.59 L159.23,232.11 L159.05,232.60 L158.88,233.02 L158.73,233.36 L158.59,233.65 L158.46,233.93 L158.35,234.22 L158.25,234.56 L158.17,234.98 L158.10,235.50 L158.10,236.18 L158.10,237.02 L158.10,237.96 L158.10,238.93 L158.10,239.88 L158.10,240.75 L158.10,241.47 L158.10,242.00 L157.70,242.00 L157.70,241.47 L157.70,240.75 L157.70,239.88 L157.70,238.93 L157.70,237.96 L157.70,237.02 L157.70,236.18 L157.70,235.50 L157.63,234.98 L157.55,234.56 L157.45,234.22 L157.34,233.93 L157.21,233.65 L157.07,233.36 L156.92,233.02 L156.75,232.60 L156.57,232.11 L156.38,231.59 L156.18,231.04 L155.97,230.47 L155.74,229.87 L155.49,229.26 L155.23,228.63 L154.95,228.00 L154.64,227.35 L154.30,226.67 L153.93,225.98 L153.55,225.27 L153.17,224.55 L152.80,223.83 L152.46,223.11 L152.15,222.40 L151.87,221.70 L151.60,221.00 L151.34,220.30 L151.11,219.61 L150.89,218.90 L150.69,218.18 L150.51,217.45 L150.35,216.70 L150.22,215.93 L150.13,215.13 L150.05,214.32 L150.00,213.50 L149.96,212.67 L149.92,211.84 L149.89,211.02 L149.85,210.20 L149.79,209.38 L149.72,208.56 L149.63,207.73 L149.56,206.90 L149.51,206.08 L149.50,205.27 L149.54,204.47 L149.65,203.70 L149.83,202.95 L150.07,202.22 L150.36,201.50 L150.69,200.79 L151.05,200.10 L151.42,199.40 L151.79,198.70 L152.15,198.00 L152.52,197.28 L152.92,196.55 L153.34,195.81 L153.76,195.08 L154.18,194.36 L154.57,193.66 L154.93,193.01 L155.25,192.40 L155.52,191.87 L155.75,191.41 L155.95,191.01 L156.13,190.62 L156.30,190.22 L156.45,189.79 L156.60,189.29 L156.75,188.70 L156.90,188.02 L157.05,187.29 L157.19,186.52 L157.32,185.69 L157.44,184.83 L157.54,183.92 L157.63,182.98 L157.70,182.00 L157.70,180.91 L157.70,179.66 L157.70,178.33 L157.70,176.98 L157.70,175.69 L157.70,174.51 L157.70,173.53 L157.70,172.80 Z" fill="#D5AE08" stroke="#1a1a1a" stroke-width="0.5" stroke-linejoin="round"/>
<line x1="157.90" y1="172.80" x2="157.90" y2="242.00" stroke="#1a1a1a" stroke-width="0.6" />
<rect x="154.70" y="203.70" width="5.80" height="15.90" fill="#FFFFFF" stroke="#1a1a1a" stroke-width="0.6" />
<line x1="154.70" y1="210.20" x2="160.50" y2="210.20" stroke="#1a1a1a" stroke-width="0.8" />
<rect x="40.20" y="176.50" width="5.60" height="5.20" fill="#0F9A16" stroke="#1a1a1a" stroke-width="0.4" />
<text x="50.20" y="180.90" font-family='"Liberation Sans", sans-serif' font-size="4.5" font-weight="bold" font-style="normal" fill="#000" text-anchor="start" >Co-mutation</text>
<rect x="82.00" y="176.50" width="5.60" height="5.20" fill="#1B82E0" stroke="#1a1a1a" stroke-width="0.4" />
<text x="92.00" y="180.90" font-family='"Liberation Sans", sans-serif' font-size="4.5" font-weight="bold" font-style="normal" fill="#000" text-anchor="start" >IDH1</text>
<rect x="107.50" y="176.50" width="5.60" height="5.20" fill="#D5AE08" stroke="#1a1a1a" stroke-width="0.4" />
<text x="117.50" y="180.90" font-family='"Liberation Sans", sans-serif' font-size="4.5" font-weight="bold" font-style="normal" fill="#000" text-anchor="start" >TP53</text>
<rect x="34.40" y="245.30" width="65.90" height="11.00" fill="#FFFFFF" stroke="#E3E3E3" stroke-width="0.6" />
<text x="67.35" y="253.50" font-family='"Liberation Sans", sans-serif' font-size="6.1" font-weight="bold" font-style="normal" fill="#1A1A1A" text-anchor="middle" >Mutant</text>
<rect x="105.00" y="245.30" width="65.50" height="11.00" fill="#FFFFFF" stroke="#E3E3E3" stroke-width="0.6" />
<text x="137.75" y="253.50" font-family='"Liberation Sans", sans-serif' font-size="6.1" font-weight="bold" font-style="normal" fill="#1A1A1A" text-anchor="middle" >Wildtype</text>
<text x="176.70" y="164.60" font-family='"Liberation Serif", serif' font-size="12" font-weight="bold" font-style="normal" fill="#000" text-anchor="start" >D</text>
<text x="196.00" y="171.20" font-family='"Liberation Serif", serif' font-size="5.75" font-weight="bold" font-style="normal" fill="#000" text-anchor="start" >SKCM LRP1B:RYR1 (adjusted p = 0.012)</text>
<rect x="196.00" y="173.70" width="57.20" height="65.00" fill="#FFFFFF" stroke="#E3E3E3" stroke-width="0.6" />
<rect x="257.50" y="173.70" width="58.00" height="65.00" fill="#FFFFFF" stroke="#E3E3E3" stroke-width="0.6" />
<line x1="192.00" y1="175.40" x2="195.00" y2="175.40" stroke="#222" stroke-width="0.9" />
<text x="191.40" y="177.06" font-family='"Liberation Sans", sans-serif' font-size="4.6" font-weight="normal" font-style="normal" fill="#777777" text-anchor="end" >300</text>
<line x1="192.00" y1="195.40" x2="195.00" y2="195.40" stroke="#222" stroke-width="0.9" />
<text x="191.40" y="197.06" font-family='"Liberation Sans", sans-serif' font-size="4.6" font-weight="normal" font-style="normal" fill="#777777" text-anchor="end" >200</text>
<line x1="192.00" y1="215.40" x2="195.00" y2="215.40" stroke="#222" stroke-width="0.9" />
<text x="191.40" y="217.06" font-family='"Liberation Sans", sans-serif' font-size="4.6" font-weight="normal" font-style="normal" fill="#777777" text-anchor="end" >100</text>
<line x1="192.00" y1="235.40" x2="195.00" y2="235.40" stroke="#222" stroke-width="0.9" />
<text x="191.40" y="237.06" font-family='"Liberation Sans", sans-serif' font-size="4.6" font-weight="normal" font-style="normal" fill="#777777" text-anchor="end" >0</text>
<text transform="translate(181.2,206) rotate(-90)" font-family='"Liberation Sans", sans-serif' font-size="6" font-weight="bold" fill="#000" text-anchor="middle">Number</text>
<rect x="198.40" y="217.30" width="16.20" height="18.20" fill="#1FA04A" stroke="none" stroke-width="0" />
<rect x="198.40" y="220.60" width="16.20" height="14.90" fill="#1A8DE0" stroke="none" stroke-width="0" />
<rect x="216.70" y="192.60" width="16.20" height="42.90" fill="#1FA04A" stroke="none" stroke-width="0" />
<rect x="216.70" y="206.00" width="16.20" height="29.50" fill="#1A8DE0" stroke="none" stroke-width="0" />
<rect x="234.50" y="205.50" width="16.20" height="30.00" fill="#1FA04A" stroke="none" stroke-width="0" />
<rect x="234.50" y="212.80" width="16.20" height="22.70" fill="#1A8DE0" stroke="none" stroke-width="0" />
<rect x="260.00" y="192.00" width="16.20" height="43.50" fill="#1FA04A" stroke="none" stroke-width="0" />
<rect x="260.00" y="192.00" width="16.20" height="43.50" fill="#1A8DE0" stroke="none" stroke-width="0" />
<rect x="278.00" y="184.50" width="16.20" height="51.00" fill="#1FA04A" stroke="none" stroke-width="0" />
<rect x="278.00" y="207.00" width="16.20" height="28.50" fill="#1A8DE0" stroke="none" stroke-width="0" />
<rect x="296.20" y="200.00" width="16.20" height="35.50" fill="#1FA04A" stroke="none" stroke-width="0" />
<rect x="296.20" y="200.00" width="16.20" height="35.50" fill="#1A8DE0" stroke="none" stroke-width="0" />
<rect x="203.00" y="176.00" width="5.20" height="4.60" fill="#1FA04A" stroke="none" stroke-width="0" />
<text x="212.00" y="180.30" font-family='"Liberation Sans", sans-serif' font-size="4.6" font-weight="bold" font-style="normal" fill="#000" text-anchor="start" >Female</text>
<rect x="233.60" y="176.00" width="5.20" height="4.60" fill="#1A8DE0" stroke="none" stroke-width="0" />
<text x="242.60" y="180.30" font-family='"Liberation Sans", sans-serif' font-size="4.6" font-weight="bold" font-style="normal" fill="#000" text-anchor="start" >Male</text>
<text x="206.50" y="245.20" font-family='"Liberation Sans", sans-serif' font-size="3.7" font-weight="bold" font-style="normal" fill="#1a1a1a" text-anchor="middle" >Co-mutation</text>
<text x="224.70" y="245.20" font-family='"Liberation Sans", sans-serif' font-size="3.7" font-weight="bold" font-style="normal" fill="#1a1a1a" text-anchor="middle" >LRP1B</text>
<text x="242.90" y="245.20" font-family='"Liberation Sans", sans-serif' font-size="3.7" font-weight="bold" font-style="normal" fill="#1a1a1a" text-anchor="middle" >RYR1</text>
<text x="268.10" y="245.20" font-family='"Liberation Sans", sans-serif' font-size="3.7" font-weight="bold" font-style="normal" fill="#1a1a1a" text-anchor="middle" >Co-mutation</text>
<text x="286.30" y="245.20" font-family='"Liberation Sans", sans-serif' font-size="3.7" font-weight="bold" font-style="normal" fill="#1a1a1a" text-anchor="middle" >LRP1B</text>
<text x="304.50" y="245.20" font-family='"Liberation Sans", sans-serif' font-size="3.7" font-weight="bold" font-style="normal" fill="#1a1a1a" text-anchor="middle" >RYR1</text>
<rect x="196.00" y="247.30" width="57.20" height="11.00" fill="#FFFFFF" stroke="#E3E3E3" stroke-width="0.6" />
<text x="224.60" y="255.30" font-family='"Liberation Sans", sans-serif' font-size="5.9" font-weight="bold" font-style="normal" fill="#1A1A1A" text-anchor="middle" >Mutant</text>
<rect x="257.50" y="247.30" width="58.00" height="11.00" fill="#FFFFFF" stroke="#E3E3E3" stroke-width="0.6" />
<text x="286.50" y="255.30" font-family='"Liberation Sans", sans-serif' font-size="5.9" font-weight="bold" font-style="normal" fill="#1A1A1A" text-anchor="middle" >Wildtype</text>
<text x="341.30" y="163.60" font-family='"Liberation Serif", serif' font-size="12" font-weight="bold" font-style="normal" fill="#000" text-anchor="start" >F</text>
<line x1="355.60" y1="161.50" x2="355.60" y2="259.00" stroke="#333" stroke-width="0.6" />
<rect x="356.10" y="162.70" width="168.50" height="9.40" fill="#0E9A0E" stroke="#222" stroke-width="0.4" />
<rect x="356.10" y="162.70" width="22.30" height="9.40" fill="#CC0000" stroke="none" stroke-width="0" />
<rect x="356.10" y="162.70" width="168.50" height="9.40" fill="none" stroke="#222" stroke-width="0.45" />
<rect x="356.10" y="172.10" width="168.50" height="9.20" fill="#0E9A0E" stroke="#222" stroke-width="0.4" />
<rect x="356.10" y="172.10" width="88.80" height="9.20" fill="#CC0000" stroke="none" stroke-width="0" />
<rect x="356.10" y="172.10" width="168.50" height="9.20" fill="none" stroke="#222" stroke-width="0.45" />
<rect x="356.10" y="181.30" width="168.50" height="9.40" fill="#0E9A0E" stroke="#222" stroke-width="0.4" />
<rect x="356.10" y="181.30" width="22.30" height="9.40" fill="#CC0000" stroke="none" stroke-width="0" />
<rect x="444.90" y="181.30" width="27.90" height="9.40" fill="#CC0000" stroke="none" stroke-width="0" />
<rect x="356.10" y="181.30" width="168.50" height="9.40" fill="none" stroke="#222" stroke-width="0.45" />
<text x="525.60" y="169.40" font-family='"Liberation Serif", serif' font-size="5.0" font-weight="bold" font-style="normal" fill="#2C7A1E" text-anchor="start" stroke="#2C7A1E" stroke-width="0.2">13.19%</text>
<text x="525.60" y="178.40" font-family='"Liberation Serif", serif' font-size="5.0" font-weight="bold" font-style="normal" fill="#2C7A1E" text-anchor="start" stroke="#2C7A1E" stroke-width="0.2">52.76%</text>
<text x="525.60" y="188.00" font-family='"Liberation Serif", serif' font-size="5.0" font-weight="bold" font-style="normal" fill="#2C7A1E" text-anchor="start" stroke="#2C7A1E" stroke-width="0.2">29.75%</text>
<rect x="356.10" y="196.90" width="23.40" height="9.10" fill="#0E9A0E" stroke="#222" stroke-width="0.4" />
<rect x="356.10" y="196.90" width="23.40" height="9.10" fill="none" stroke="#222" stroke-width="0.45" />
<rect x="356.10" y="206.00" width="23.40" height="9.50" fill="#0E9A0E" stroke="#222" stroke-width="0.4" />
<rect x="356.10" y="206.00" width="4.30" height="9.50" fill="#CC0000" stroke="none" stroke-width="0" />
<rect x="356.10" y="206.00" width="23.40" height="9.50" fill="none" stroke="#222" stroke-width="0.45" />
<rect x="356.10" y="215.50" width="23.40" height="9.00" fill="#0E9A0E" stroke="#222" stroke-width="0.4" />
<rect x="361.00" y="215.50" width="2.10" height="9.00" fill="#CC0000" stroke="none" stroke-width="0" />
<rect x="356.10" y="215.50" width="23.40" height="9.00" fill="none" stroke="#222" stroke-width="0.45" />
<text x="380.20" y="203.00" font-family='"Liberation Serif", serif' font-size="5.0" font-weight="bold" font-style="normal" fill="#2C7A1E" text-anchor="start" stroke="#2C7A1E" stroke-width="0.2">0.00%</text>
<text x="380.20" y="212.10" font-family='"Liberation Serif", serif' font-size="5.0" font-weight="bold" font-style="normal" fill="#2C7A1E" text-anchor="start" stroke="#2C7A1E" stroke-width="0.2">20.45%</text>
<text x="380.20" y="222.70" font-family='"Liberation Serif", serif' font-size="5.0" font-weight="bold" font-style="normal" fill="#2C7A1E" text-anchor="start" stroke="#2C7A1E" stroke-width="0.2">9.09%</text>
<rect x="356.10" y="230.40" width="12.20" height="9.10" fill="#0E9A0E" stroke="#222" stroke-width="0.4" />
<rect x="356.10" y="230.40" width="12.20" height="9.10" fill="none" stroke="#222" stroke-width="0.45" />
<rect x="356.10" y="239.50" width="12.20" height="9.50" fill="#0E9A0E" stroke="#222" stroke-width="0.4" />
<rect x="356.10" y="239.50" width="6.00" height="9.50" fill="#CC0000" stroke="none" stroke-width="0" />
<rect x="356.10" y="239.50" width="12.20" height="9.50" fill="none" stroke="#222" stroke-width="0.45" />
<rect x="356.10" y="249.00" width="12.20" height="9.70" fill="#0E9A0E" stroke="#222" stroke-width="0.4" />
<rect x="362.10" y="249.00" width="0.70" height="9.70" fill="#CC0000" stroke="none" stroke-width="0" />
<rect x="356.10" y="249.00" width="12.20" height="9.70" fill="none" stroke="#222" stroke-width="0.45" />
<text x="369.40" y="236.20" font-family='"Liberation Serif", serif' font-size="5.0" font-weight="bold" font-style="normal" fill="#2C7A1E" text-anchor="start" stroke="#2C7A1E" stroke-width="0.2">4.35%</text>
<text x="369.40" y="246.20" font-family='"Liberation Serif", serif' font-size="5.0" font-weight="bold" font-style="normal" fill="#2C7A1E" text-anchor="start" stroke="#2C7A1E" stroke-width="0.2">47.83%</text>
<text x="369.40" y="256.20" font-family='"Liberation Serif", serif' font-size="5.0" font-weight="bold" font-style="normal" fill="#2C7A1E" text-anchor="start" stroke="#2C7A1E" stroke-width="0.2">8.70%</text>
<text x="354.80" y="170.70" font-family='"Liberation Serif", serif' font-size="5.0" font-weight="bold" font-style="normal" fill="#000" text-anchor="end" >1.</text>
<text x="354.80" y="179.90" font-family='"Liberation Serif", serif' font-size="5.0" font-weight="bold" font-style="normal" fill="#000" text-anchor="end" >2.</text>
<text x="354.80" y="188.30" font-family='"Liberation Serif", serif' font-size="5.0" font-weight="bold" font-style="normal" fill="#000" text-anchor="end" >3.</text>
<text x="354.80" y="204.60" font-family='"Liberation Serif", serif' font-size="5.0" font-weight="bold" font-style="normal" fill="#000" text-anchor="end" >1.</text>
<text x="354.80" y="213.60" font-family='"Liberation Serif", serif' font-size="5.0" font-weight="bold" font-style="normal" fill="#000" text-anchor="end" >2.</text>
<text x="354.80" y="221.00" font-family='"Liberation Serif", serif' font-size="5.0" font-weight="bold" font-style="normal" fill="#000" text-anchor="end" >3.</text>
<text x="354.80" y="236.40" font-family='"Liberation Serif", serif' font-size="5.0" font-weight="bold" font-style="normal" fill="#000" text-anchor="end" >1.</text>
<text x="354.80" y="246.00" font-family='"Liberation Serif", serif' font-size="5.0" font-weight="bold" font-style="normal" fill="#000" text-anchor="end" >2.</text>
<text x="354.80" y="255.00" font-family='"Liberation Serif", serif' font-size="5.0" font-weight="bold" font-style="normal" fill="#000" text-anchor="end" >3.</text>
<text x="335.50" y="175.40" font-family='"Liberation Serif", serif' font-size="6.5" font-weight="bold" font-style="normal" fill="#2A2AC8" text-anchor="middle" >Caucasian</text>
<text x="335.30" y="184.00" font-family='"Liberation Serif", serif' font-size="6.6" font-weight="normal" font-style="normal" fill="#2A2AC8" text-anchor="middle" >(<tspan font-style="italic">N</tspan> =326)</text>
<text x="337.80" y="209.10" font-family='"Liberation Serif", serif' font-size="6.5" font-weight="bold" font-style="normal" fill="#2A2AC8" text-anchor="middle" >Asian</text>
<text x="337.90" y="217.50" font-family='"Liberation Serif", serif' font-size="6.6" font-weight="normal" font-style="normal" fill="#2A2AC8" text-anchor="middle" >(<tspan font-style="italic">N</tspan> =44)</text>
<text x="335.00" y="241.90" font-family='"Liberation Serif", serif' font-size="6.5" font-weight="bold" font-style="normal" fill="#2A2AC8" text-anchor="middle" >Black</text>
<text x="334.80" y="250.90" font-family='"Liberation Serif", serif' font-size="6.6" font-weight="normal" font-style="normal" fill="#2A2AC8" text-anchor="middle" >(<tspan font-style="italic">N</tspan> = 23)</text>
<text x="473.10" y="211.80" font-family='"Liberation Serif", serif' font-size="5.4" font-weight="bold" font-style="normal" fill="#000" text-anchor="start" >1.</text>
<text x="485.90" y="211.80" font-family='"Liberation Serif", serif' font-size="5.4" font-weight="bold" font-style="normal" fill="#000" text-anchor="start" >Co-mutation</text>
<text x="473.10" y="221.30" font-family='"Liberation Serif", serif' font-size="5.4" font-weight="bold" font-style="normal" fill="#000" text-anchor="start" >2.</text>
<text x="485.90" y="221.30" font-family='"Liberation Serif", serif' font-size="5.4" font-weight="bold" font-style="normal" fill="#000" text-anchor="start" >TP53</text>
<text x="473.10" y="231.20" font-family='"Liberation Serif", serif' font-size="5.4" font-weight="bold" font-style="normal" fill="#000" text-anchor="start" >3.</text>
<text x="485.90" y="231.20" font-family='"Liberation Serif", serif' font-size="5.4" font-weight="bold" font-style="normal" fill="#000" text-anchor="start" >ARID1A</text>
<rect x="469.80" y="236.00" width="10.30" height="6.90" fill="#EE0000" stroke="none" stroke-width="0" />
<text x="485.90" y="241.10" font-family='"Liberation Serif", serif' font-size="5.4" font-weight="bold" font-style="normal" fill="#000" text-anchor="start" >Mutant</text>
<rect x="469.80" y="246.10" width="10.30" height="7.10" fill="#00C800" stroke="none" stroke-width="0" />
<text x="485.90" y="251.20" font-family='"Liberation Serif", serif' font-size="5.4" font-weight="bold" font-style="normal" fill="#000" text-anchor="start" >Wildtype</text>
<text x="8.30" y="273.80" font-family='"Liberation Serif", serif' font-size="12" font-weight="bold" font-style="normal" fill="#000" text-anchor="start" >H</text>
<circle cx="104.50" cy="274.50" r="2.9" fill="#1B9E77" />
<text x="115.10" y="277.00" font-family='"Liberation Sans", sans-serif' font-size="6.5" font-weight="normal" font-style="normal" fill="#1A1A1A" text-anchor="start" >Asian</text>
<circle cx="141.80" cy="274.50" r="2.9" fill="#E2620A" />
<text x="152.40" y="277.00" font-family='"Liberation Sans", sans-serif' font-size="6.5" font-weight="normal" font-style="normal" fill="#1A1A1A" text-anchor="start" >Black</text>
<circle cx="180.00" cy="274.50" r="2.9" fill="#7570B3" />
<text x="190.60" y="277.00" font-family='"Liberation Sans", sans-serif' font-size="6.5" font-weight="normal" font-style="normal" fill="#1A1A1A" text-anchor="start" >Caucasian</text>
<rect x="43.60" y="289.00" width="227.10" height="79.80" fill="#FFFFFF" stroke="none" stroke-width="0" />
<line x1="43.60" y1="295.00" x2="270.70" y2="295.00" stroke="#EBEBEB" stroke-width="0.6" />
<line x1="43.60" y1="308.20" x2="270.70" y2="308.20" stroke="#EBEBEB" stroke-width="0.6" />
<line x1="43.60" y1="321.40" x2="270.70" y2="321.40" stroke="#EBEBEB" stroke-width="0.6" />
<line x1="43.60" y1="334.60" x2="270.70" y2="334.60" stroke="#EBEBEB" stroke-width="0.6" />
<line x1="43.60" y1="347.80" x2="270.70" y2="347.80" stroke="#EBEBEB" stroke-width="0.6" />
<line x1="43.60" y1="361.00" x2="270.70" y2="361.00" stroke="#EBEBEB" stroke-width="0.6" />
<line x1="52.10" y1="289.00" x2="52.10" y2="368.80" stroke="#EBEBEB" stroke-width="0.6" />
<line x1="65.00" y1="289.00" x2="65.00" y2="368.80" stroke="#EBEBEB" stroke-width="0.6" />
<line x1="78.20" y1="289.00" x2="78.20" y2="368.80" stroke="#EBEBEB" stroke-width="0.6" />
<line x1="94.40" y1="289.00" x2="94.40" y2="368.80" stroke="#EBEBEB" stroke-width="0.6" />
<line x1="107.20" y1="289.00" x2="107.20" y2="368.80" stroke="#EBEBEB" stroke-width="0.6" />
<line x1="120.30" y1="289.00" x2="120.30" y2="368.80" stroke="#EBEBEB" stroke-width="0.6" />
<line x1="136.20" y1="289.00" x2="136.20" y2="368.80" stroke="#EBEBEB" stroke-width="0.6" />
<line x1="149.30" y1="289.00" x2="149.30" y2="368.80" stroke="#EBEBEB" stroke-width="0.6" />
<line x1="162.40" y1="289.00" x2="162.40" y2="368.80" stroke="#EBEBEB" stroke-width="0.6" />
<line x1="178.30" y1="289.00" x2="178.30" y2="368.80" stroke="#EBEBEB" stroke-width="0.6" />
<line x1="191.60" y1="289.00" x2="191.60" y2="368.80" stroke="#EBEBEB" stroke-width="0.6" />
<line x1="204.60" y1="289.00" x2="204.60" y2="368.80" stroke="#EBEBEB" stroke-width="0.6" />
<line x1="220.40" y1="289.00" x2="220.40" y2="368.80" stroke="#EBEBEB" stroke-width="0.6" />
<line x1="233.80" y1="289.00" x2="233.80" y2="368.80" stroke="#EBEBEB" stroke-width="0.6" />
<line x1="249.60" y1="289.00" x2="249.60" y2="368.80" stroke="#EBEBEB" stroke-width="0.6" />
<line x1="262.60" y1="289.00" x2="262.60" y2="368.80" stroke="#EBEBEB" stroke-width="0.6" />
<line x1="43.60" y1="289.00" x2="43.60" y2="368.80" stroke="#CFCFCF" stroke-width="0.6" />
<line x1="86.50" y1="289.00" x2="86.50" y2="368.80" stroke="#CFCFCF" stroke-width="0.6" />
<line x1="128.50" y1="289.00" x2="128.50" y2="368.80" stroke="#CFCFCF" stroke-width="0.6" />
<line x1="170.60" y1="289.00" x2="170.60" y2="368.80" stroke="#CFCFCF" stroke-width="0.6" />
<line x1="212.00" y1="289.00" x2="212.00" y2="368.80" stroke="#CFCFCF" stroke-width="0.6" />
<line x1="241.50" y1="289.00" x2="241.50" y2="368.80" stroke="#CFCFCF" stroke-width="0.6" />
<line x1="270.70" y1="289.00" x2="270.70" y2="368.80" stroke="#CFCFCF" stroke-width="0.6" />
<line x1="43.60" y1="289.00" x2="270.70" y2="289.00" stroke="#DDDDDD" stroke-width="0.5" />
<rect x="43.60" y="369.00" width="42.90" height="13.30" fill="#D9D9D9" stroke="none" stroke-width="0" />
<text x="65.05" y="378.90" font-family='"Liberation Sans", sans-serif' font-size="6.8" font-weight="normal" font-style="normal" fill="#1A1A1A" text-anchor="middle" >30~39</text>
<rect x="86.50" y="369.00" width="42.00" height="13.30" fill="#D9D9D9" stroke="none" stroke-width="0" />
<text x="107.50" y="378.90" font-family='"Liberation Sans", sans-serif' font-size="6.8" font-weight="normal" font-style="normal" fill="#1A1A1A" text-anchor="middle" >40~49</text>
<rect x="128.50" y="369.00" width="42.10" height="13.30" fill="#D9D9D9" stroke="none" stroke-width="0" />
<text x="149.55" y="378.90" font-family='"Liberation Sans", sans-serif' font-size="6.8" font-weight="normal" font-style="normal" fill="#1A1A1A" text-anchor="middle" >50~59</text>
<rect x="170.60" y="369.00" width="41.40" height="13.30" fill="#D9D9D9" stroke="none" stroke-width="0" />
<text x="191.30" y="378.90" font-family='"Liberation Sans", sans-serif' font-size="6.8" font-weight="normal" font-style="normal" fill="#1A1A1A" text-anchor="middle" >60~69</text>
<rect x="212.00" y="369.00" width="29.50" height="13.30" fill="#D9D9D9" stroke="none" stroke-width="0" />
<text x="226.75" y="378.90" font-family='"Liberation Sans", sans-serif' font-size="6.8" font-weight="normal" font-style="normal" fill="#1A1A1A" text-anchor="middle" >70~79</text>
<rect x="241.50" y="369.00" width="29.20" height="13.30" fill="#D9D9D9" stroke="none" stroke-width="0" />
<text x="256.10" y="378.90" font-family='"Liberation Sans", sans-serif' font-size="6.8" font-weight="normal" font-style="normal" fill="#1A1A1A" text-anchor="middle" >80~90</text>
<line x1="86.50" y1="369.00" x2="86.50" y2="382.30" stroke="#FFFFFF" stroke-width="0.5" />
<line x1="128.50" y1="369.00" x2="128.50" y2="382.30" stroke="#FFFFFF" stroke-width="0.5" />
<line x1="170.60" y1="369.00" x2="170.60" y2="382.30" stroke="#FFFFFF" stroke-width="0.5" />
<line x1="212.00" y1="369.00" x2="212.00" y2="382.30" stroke="#FFFFFF" stroke-width="0.5" />
<line x1="241.50" y1="369.00" x2="241.50" y2="382.30" stroke="#FFFFFF" stroke-width="0.5" />
<text x="40.40" y="297.40" font-family='"Liberation Sans", sans-serif' font-size="6.7" font-weight="normal" font-style="normal" fill="#555555" text-anchor="end" >20,000</text>
<text x="40.40" y="323.80" font-family='"Liberation Sans", sans-serif' font-size="6.7" font-weight="normal" font-style="normal" fill="#555555" text-anchor="end" >10,000</text>
<text x="40.40" y="350.20" font-family='"Liberation Sans", sans-serif' font-size="6.7" font-weight="normal" font-style="normal" fill="#555555" text-anchor="end" >0</text>
<text transform="translate(16.2,329.5) rotate(-90)" font-family='"Liberation Sans", sans-serif' font-size="8.2" fill="#000" text-anchor="middle">Number of Mutations</text>
<text x="156.90" y="393.20" font-family='"Liberation Sans", sans-serif' font-size="8.2" font-weight="normal" font-style="normal" fill="#000" text-anchor="middle" >Age group</text>
<line x1="52.10" y1="342.80" x2="52.10" y2="350.00" stroke="#7F7F7F" stroke-width="0.9" />
<line x1="50.90" y1="342.80" x2="53.30" y2="342.80" stroke="#7F7F7F" stroke-width="0.9" />
<line x1="50.90" y1="350.00" x2="53.30" y2="350.00" stroke="#7F7F7F" stroke-width="0.9" />
<line x1="65.00" y1="301.40" x2="65.00" y2="336.70" stroke="#7F7F7F" stroke-width="0.9" />
<line x1="63.80" y1="301.40" x2="66.20" y2="301.40" stroke="#7F7F7F" stroke-width="0.9" />
<line x1="63.80" y1="336.70" x2="66.20" y2="336.70" stroke="#7F7F7F" stroke-width="0.9" />
<line x1="94.40" y1="292.40" x2="94.40" y2="356.70" stroke="#7F7F7F" stroke-width="0.9" />
<line x1="93.20" y1="292.40" x2="95.60" y2="292.40" stroke="#7F7F7F" stroke-width="0.9" />
<line x1="93.20" y1="356.70" x2="95.60" y2="356.70" stroke="#7F7F7F" stroke-width="0.9" />
<line x1="120.30" y1="321.40" x2="120.30" y2="355.50" stroke="#7F7F7F" stroke-width="0.9" />
<line x1="119.10" y1="321.40" x2="121.50" y2="321.40" stroke="#7F7F7F" stroke-width="0.9" />
<line x1="119.10" y1="355.50" x2="121.50" y2="355.50" stroke="#7F7F7F" stroke-width="0.9" />
<line x1="136.20" y1="303.00" x2="136.20" y2="366.00" stroke="#7F7F7F" stroke-width="0.9" />
<line x1="135.00" y1="303.00" x2="137.40" y2="303.00" stroke="#7F7F7F" stroke-width="0.9" />
<line x1="135.00" y1="366.00" x2="137.40" y2="366.00" stroke="#7F7F7F" stroke-width="0.9" />
<line x1="149.30" y1="329.50" x2="149.30" y2="356.00" stroke="#7F7F7F" stroke-width="0.9" />
<line x1="148.10" y1="329.50" x2="150.50" y2="329.50" stroke="#7F7F7F" stroke-width="0.9" />
<line x1="148.10" y1="356.00" x2="150.50" y2="356.00" stroke="#7F7F7F" stroke-width="0.9" />
<line x1="162.40" y1="332.30" x2="162.40" y2="354.20" stroke="#7F7F7F" stroke-width="0.9" />
<line x1="161.20" y1="332.30" x2="163.60" y2="332.30" stroke="#7F7F7F" stroke-width="0.9" />
<line x1="161.20" y1="354.20" x2="163.60" y2="354.20" stroke="#7F7F7F" stroke-width="0.9" />
<line x1="178.30" y1="332.80" x2="178.30" y2="353.00" stroke="#7F7F7F" stroke-width="0.9" />
<line x1="177.10" y1="332.80" x2="179.50" y2="332.80" stroke="#7F7F7F" stroke-width="0.9" />
<line x1="177.10" y1="353.00" x2="179.50" y2="353.00" stroke="#7F7F7F" stroke-width="0.9" />
<line x1="204.60" y1="338.00" x2="204.60" y2="353.10" stroke="#7F7F7F" stroke-width="0.9" />
<line x1="203.40" y1="338.00" x2="205.80" y2="338.00" stroke="#7F7F7F" stroke-width="0.9" />
<line x1="203.40" y1="353.10" x2="205.80" y2="353.10" stroke="#7F7F7F" stroke-width="0.9" />
<line x1="233.80" y1="340.80" x2="233.80" y2="352.40" stroke="#7F7F7F" stroke-width="0.9" />
<line x1="232.60" y1="340.80" x2="235.00" y2="340.80" stroke="#7F7F7F" stroke-width="0.9" />
<line x1="232.60" y1="352.40" x2="235.00" y2="352.40" stroke="#7F7F7F" stroke-width="0.9" />
<line x1="262.60" y1="333.80" x2="262.60" y2="354.90" stroke="#7F7F7F" stroke-width="0.9" />
<line x1="261.40" y1="333.80" x2="263.80" y2="333.80" stroke="#7F7F7F" stroke-width="0.9" />
<line x1="261.40" y1="354.90" x2="263.80" y2="354.90" stroke="#7F7F7F" stroke-width="0.9" />
<circle cx="52.10" cy="346.30" r="2.95" fill="#1B9E77" />
<circle cx="65.00" cy="319.00" r="2.95" fill="#E2620A" />
<circle cx="78.20" cy="347.30" r="2.95" fill="#7570B3" />
<circle cx="94.40" cy="324.70" r="2.95" fill="#1B9E77" />
<circle cx="107.20" cy="347.90" r="2.95" fill="#E2620A" />
<circle cx="120.30" cy="338.60" r="2.95" fill="#7570B3" />
<circle cx="136.20" cy="334.50" r="2.95" fill="#1B9E77" />
<circle cx="149.30" cy="342.90" r="2.95" fill="#E2620A" />
<circle cx="162.40" cy="343.60" r="2.95" fill="#7570B3" />
<circle cx="178.30" cy="343.40" r="2.95" fill="#1B9E77" />
<circle cx="191.60" cy="347.30" r="2.95" fill="#E2620A" />
<circle cx="204.60" cy="345.40" r="2.95" fill="#7570B3" />
<circle cx="220.40" cy="347.10" r="2.95" fill="#E2620A" />
<circle cx="233.80" cy="346.40" r="2.95" fill="#7570B3" />
<circle cx="249.60" cy="347.80" r="2.95" fill="#E2620A" />
<circle cx="262.60" cy="344.30" r="2.95" fill="#7570B3" />
<text x="276.80" y="274.00" font-family='"Liberation Serif", serif' font-size="12" font-weight="bold" font-style="normal" fill="#000" text-anchor="start" >I</text>
<text x="298.00" y="271.30" font-family='"Liberation Sans", sans-serif' font-size="6.6" font-weight="normal" font-style="normal" fill="#1A1A1A" text-anchor="start" >Caucasian</text>
<rect x="298.00" y="274.90" width="107.60" height="108.60" fill="#FFFFFF" stroke="none" stroke-width="0" />
<line x1="298.00" y1="281.00" x2="405.60" y2="281.00" stroke="#EBEBEB" stroke-width="0.5" />
<line x1="298.00" y1="305.60" x2="405.60" y2="305.60" stroke="#EBEBEB" stroke-width="0.5" />
<line x1="298.00" y1="329.40" x2="405.60" y2="329.40" stroke="#EBEBEB" stroke-width="0.5" />
<line x1="298.00" y1="352.70" x2="405.60" y2="352.70" stroke="#EBEBEB" stroke-width="0.5" />
<line x1="298.00" y1="376.50" x2="405.60" y2="376.50" stroke="#EBEBEB" stroke-width="0.5" />
<line x1="298.00" y1="293.30" x2="405.60" y2="293.30" stroke="#F3F3F3" stroke-width="0.4" />
<line x1="298.00" y1="317.50" x2="405.60" y2="317.50" stroke="#F3F3F3" stroke-width="0.4" />
<line x1="298.00" y1="341.05" x2="405.60" y2="341.05" stroke="#F3F3F3" stroke-width="0.4" />
<line x1="298.00" y1="364.60" x2="405.60" y2="364.60" stroke="#F3F3F3" stroke-width="0.4" />
<line x1="315.70" y1="274.90" x2="315.70" y2="383.50" stroke="#EBEBEB" stroke-width="0.5" />
<line x1="332.50" y1="274.90" x2="332.50" y2="383.50" stroke="#EBEBEB" stroke-width="0.5" />
<line x1="349.60" y1="274.90" x2="349.60" y2="383.50" stroke="#EBEBEB" stroke-width="0.5" />
<line x1="366.80" y1="274.90" x2="366.80" y2="383.50" stroke="#EBEBEB" stroke-width="0.5" />
<line x1="384.30" y1="274.90" x2="384.30" y2="383.50" stroke="#EBEBEB" stroke-width="0.5" />
<line x1="401.70" y1="274.90" x2="401.70" y2="383.50" stroke="#EBEBEB" stroke-width="0.5" />
<line x1="324.10" y1="274.90" x2="324.10" y2="383.50" stroke="#F3F3F3" stroke-width="0.4" />
<line x1="341.05" y1="274.90" x2="341.05" y2="383.50" stroke="#F3F3F3" stroke-width="0.4" />
<line x1="358.20" y1="274.90" x2="358.20" y2="383.50" stroke="#F3F3F3" stroke-width="0.4" />
<line x1="375.55" y1="274.90" x2="375.55" y2="383.50" stroke="#F3F3F3" stroke-width="0.4" />
<line x1="393.00" y1="274.90" x2="393.00" y2="383.50" stroke="#F3F3F3" stroke-width="0.4" />
<text x="296.00" y="282.50" font-family='"Liberation Sans", sans-serif' font-size="4.2" font-weight="normal" font-style="normal" fill="#666666" text-anchor="end" >20,000</text>
<line x1="296.50" y1="281.00" x2="298.20" y2="281.00" stroke="#555" stroke-width="0.5" />
<text x="296.00" y="307.10" font-family='"Liberation Sans", sans-serif' font-size="4.2" font-weight="normal" font-style="normal" fill="#666666" text-anchor="end" >15,000</text>
<line x1="296.50" y1="305.60" x2="298.20" y2="305.60" stroke="#555" stroke-width="0.5" />
<text x="296.00" y="330.90" font-family='"Liberation Sans", sans-serif' font-size="4.2" font-weight="normal" font-style="normal" fill="#666666" text-anchor="end" >10,000</text>
<line x1="296.50" y1="329.40" x2="298.20" y2="329.40" stroke="#555" stroke-width="0.5" />
<text x="296.00" y="354.20" font-family='"Liberation Sans", sans-serif' font-size="4.2" font-weight="normal" font-style="normal" fill="#666666" text-anchor="end" >5000</text>
<line x1="296.50" y1="352.70" x2="298.20" y2="352.70" stroke="#555" stroke-width="0.5" />
<text x="296.00" y="378.00" font-family='"Liberation Sans", sans-serif' font-size="4.2" font-weight="normal" font-style="normal" fill="#666666" text-anchor="end" >0</text>
<line x1="296.50" y1="376.50" x2="298.20" y2="376.50" stroke="#555" stroke-width="0.5" />
<text x="315.70" y="390.00" font-family='"Liberation Sans", sans-serif' font-size="5.8" font-weight="normal" font-style="normal" fill="#4D4D4D" text-anchor="middle" >40</text>
<line x1="315.70" y1="383.50" x2="315.70" y2="385.30" stroke="#333" stroke-width="0.5" />
<text x="332.50" y="390.00" font-family='"Liberation Sans", sans-serif' font-size="5.8" font-weight="normal" font-style="normal" fill="#4D4D4D" text-anchor="middle" >50</text>
<line x1="332.50" y1="383.50" x2="332.50" y2="385.30" stroke="#333" stroke-width="0.5" />
<text x="349.60" y="390.00" font-family='"Liberation Sans", sans-serif' font-size="5.8" font-weight="normal" font-style="normal" fill="#4D4D4D" text-anchor="middle" >60</text>
<line x1="349.60" y1="383.50" x2="349.60" y2="385.30" stroke="#333" stroke-width="0.5" />
<text x="366.80" y="390.00" font-family='"Liberation Sans", sans-serif' font-size="5.8" font-weight="normal" font-style="normal" fill="#4D4D4D" text-anchor="middle" >70</text>
<line x1="366.80" y1="383.50" x2="366.80" y2="385.30" stroke="#333" stroke-width="0.5" />
<text x="384.30" y="390.00" font-family='"Liberation Sans", sans-serif' font-size="5.8" font-weight="normal" font-style="normal" fill="#4D4D4D" text-anchor="middle" >80</text>
<line x1="384.30" y1="383.50" x2="384.30" y2="385.30" stroke="#333" stroke-width="0.5" />
<text x="401.70" y="390.00" font-family='"Liberation Sans", sans-serif' font-size="5.8" font-weight="normal" font-style="normal" fill="#4D4D4D" text-anchor="middle" >90</text>
<line x1="401.70" y1="383.50" x2="401.70" y2="385.30" stroke="#333" stroke-width="0.5" />
<path d="M303.60,360.40 L306.07,360.72 L308.55,361.03 L311.02,361.35 L313.49,361.66 L315.96,361.98 L318.44,362.29 L320.91,362.60 L323.38,362.91 L325.85,363.21 L328.33,363.52 L330.80,363.82 L333.27,364.12 L335.74,364.42 L338.22,364.71 L340.69,365.00 L343.16,365.29 L345.63,365.57 L348.11,365.85 L350.58,366.12 L353.05,366.39 L355.52,366.65 L358.00,366.90 L360.47,367.14 L362.94,367.38 L365.41,367.61 L367.88,367.83 L370.36,368.03 L372.83,368.23 L375.30,368.42 L377.77,368.60 L380.25,368.76 L382.72,368.92 L385.19,369.07 L387.67,369.20 L390.14,369.33 L392.61,369.45 L395.08,369.56 L397.56,369.67 L400.03,369.77 L402.50,369.86 L402.50,375.22 L400.03,374.94 L397.56,374.68 L395.08,374.41 L392.61,374.16 L390.14,373.91 L387.67,373.67 L385.19,373.44 L382.72,373.22 L380.25,373.01 L377.77,372.81 L375.30,372.62 L372.83,372.44 L370.36,372.27 L367.88,372.11 L365.41,371.96 L362.94,371.83 L360.47,371.70 L358.00,371.57 L355.52,371.46 L353.05,371.35 L350.58,371.25 L348.11,371.16 L345.63,371.07 L343.16,370.98 L340.69,370.90 L338.22,370.83 L335.74,370.75 L333.27,370.68 L330.80,370.62 L328.33,370.55 L325.85,370.49 L323.38,370.43 L320.91,370.37 L318.44,370.31 L315.96,370.26 L313.49,370.20 L311.02,370.15 L308.55,370.10 L306.07,370.05 L303.60,370.00 Z" fill="#8F89CC" fill-opacity="0.5"/>
<circle cx="302.00" cy="376.50" r="0.9" fill="#6A63B0" />
<circle cx="302.90" cy="376.50" r="0.9" fill="#6A63B0" />
<circle cx="303.80" cy="376.50" r="0.9" fill="#6A63B0" />
<circle cx="304.70" cy="376.50" r="0.9" fill="#6A63B0" />
<circle cx="305.60" cy="376.50" r="0.9" fill="#6A63B0" />
<circle cx="306.50" cy="376.50" r="0.9" fill="#6A63B0" />
<circle cx="311.00" cy="376.50" r="0.9" fill="#6A63B0" />
<circle cx="311.90" cy="376.50" r="0.9" fill="#6A63B0" />
<circle cx="312.80" cy="376.50" r="0.9" fill="#6A63B0" />
<circle cx="313.70" cy="376.50" r="0.9" fill="#6A63B0" />
<circle cx="314.60" cy="376.50" r="0.9" fill="#6A63B0" />
<circle cx="315.50" cy="376.50" r="0.9" fill="#6A63B0" />
<circle cx="316.40" cy="376.50" r="0.9" fill="#6A63B0" />
<circle cx="320.00" cy="376.50" r="0.9" fill="#6A63B0" />
<circle cx="320.90" cy="376.50" r="0.9" fill="#6A63B0" />
<circle cx="321.80" cy="376.50" r="0.9" fill="#6A63B0" />
<circle cx="322.70" cy="376.50" r="0.9" fill="#6A63B0" />
<circle cx="323.60" cy="376.50" r="0.9" fill="#6A63B0" />
<circle cx="324.50" cy="376.50" r="0.9" fill="#6A63B0" />
<circle cx="325.40" cy="376.50" r="0.9" fill="#6A63B0" />
<circle cx="326.30" cy="376.50" r="0.9" fill="#6A63B0" />
<circle cx="327.20" cy="376.50" r="0.9" fill="#6A63B0" />
<circle cx="328.10" cy="376.50" r="0.9" fill="#6A63B0" />
<circle cx="329.00" cy="376.50" r="0.9" fill="#6A63B0" />
<circle cx="329.90" cy="376.50" r="0.9" fill="#6A63B0" />
<circle cx="330.80" cy="376.50" r="0.9" fill="#6A63B0" />
<circle cx="354.13" cy="375.52" r="0.9" fill="#6A63B0" />
<circle cx="335.40" cy="372.59" r="0.9" fill="#6A63B0" />
<circle cx="334.32" cy="376.10" r="0.9" fill="#6A63B0" />
<circle cx="362.31" cy="376.36" r="0.9" fill="#6A63B0" />
<circle cx="361.63" cy="375.35" r="0.9" fill="#6A63B0" />
<circle cx="346.63" cy="366.94" r="0.9" fill="#6A63B0" />
<circle cx="372.99" cy="375.04" r="0.9" fill="#6A63B0" />
<circle cx="333.47" cy="373.37" r="0.9" fill="#6A63B0" />
<circle cx="340.75" cy="376.04" r="0.9" fill="#6A63B0" />
<circle cx="390.80" cy="375.63" r="0.9" fill="#6A63B0" />
<circle cx="377.60" cy="375.68" r="0.9" fill="#6A63B0" />
<circle cx="334.68" cy="376.19" r="0.9" fill="#6A63B0" />
<circle cx="380.69" cy="376.03" r="0.9" fill="#6A63B0" />
<circle cx="373.62" cy="376.05" r="0.9" fill="#6A63B0" />
<circle cx="389.18" cy="374.61" r="0.9" fill="#6A63B0" />
<circle cx="372.79" cy="368.93" r="0.9" fill="#6A63B0" />
<circle cx="384.34" cy="375.03" r="0.9" fill="#6A63B0" />
<circle cx="338.80" cy="375.36" r="0.9" fill="#6A63B0" />
<circle cx="341.32" cy="376.44" r="0.9" fill="#6A63B0" />
<circle cx="379.78" cy="371.77" r="0.9" fill="#6A63B0" />
<circle cx="395.22" cy="375.46" r="0.9" fill="#6A63B0" />
<circle cx="374.28" cy="372.59" r="0.9" fill="#6A63B0" />
<circle cx="392.58" cy="372.92" r="0.9" fill="#6A63B0" />
<circle cx="379.48" cy="375.45" r="0.9" fill="#6A63B0" />
<circle cx="378.21" cy="369.64" r="0.9" fill="#6A63B0" />
<circle cx="351.20" cy="375.50" r="0.9" fill="#6A63B0" />
<circle cx="331.68" cy="376.25" r="0.9" fill="#6A63B0" />
<circle cx="338.72" cy="375.35" r="0.9" fill="#6A63B0" />
<circle cx="339.64" cy="375.91" r="0.9" fill="#6A63B0" />
<circle cx="394.92" cy="375.83" r="0.9" fill="#6A63B0" />
<circle cx="370.93" cy="369.33" r="0.9" fill="#6A63B0" />
<circle cx="394.37" cy="375.88" r="0.9" fill="#6A63B0" />
<circle cx="356.73" cy="367.37" r="0.9" fill="#6A63B0" />
<circle cx="341.24" cy="376.15" r="0.9" fill="#6A63B0" />
<circle cx="347.38" cy="375.62" r="0.9" fill="#6A63B0" />
<circle cx="349.57" cy="375.87" r="0.9" fill="#6A63B0" />
<circle cx="357.51" cy="367.46" r="0.9" fill="#6A63B0" />
<circle cx="381.44" cy="371.45" r="0.9" fill="#6A63B0" />
<circle cx="380.38" cy="375.15" r="0.9" fill="#6A63B0" />
<circle cx="388.11" cy="370.27" r="0.9" fill="#6A63B0" />
<circle cx="359.23" cy="376.34" r="0.9" fill="#6A63B0" />
<circle cx="377.25" cy="376.40" r="0.9" fill="#6A63B0" />
<circle cx="345.55" cy="375.99" r="0.9" fill="#6A63B0" />
<circle cx="333.92" cy="376.27" r="0.9" fill="#6A63B0" />
<circle cx="337.56" cy="376.46" r="0.9" fill="#6A63B0" />
<circle cx="395.14" cy="375.40" r="0.9" fill="#6A63B0" />
<circle cx="348.79" cy="375.95" r="0.9" fill="#6A63B0" />
<circle cx="339.15" cy="366.08" r="0.9" fill="#6A63B0" />
<circle cx="364.72" cy="376.37" r="0.9" fill="#6A63B0" />
<circle cx="337.61" cy="376.10" r="0.9" fill="#6A63B0" />
<circle cx="391.75" cy="376.47" r="0.9" fill="#6A63B0" />
<circle cx="400.85" cy="375.46" r="0.9" fill="#6A63B0" />
<circle cx="370.47" cy="375.71" r="0.9" fill="#6A63B0" />
<circle cx="402.90" cy="371.63" r="0.9" fill="#6A63B0" />
<circle cx="349.45" cy="376.25" r="0.9" fill="#6A63B0" />
<circle cx="387.51" cy="370.39" r="0.9" fill="#6A63B0" />
<circle cx="354.56" cy="375.28" r="0.9" fill="#6A63B0" />
<circle cx="403.38" cy="370.89" r="0.9" fill="#6A63B0" />
<circle cx="390.97" cy="374.77" r="0.9" fill="#6A63B0" />
<circle cx="368.56" cy="376.46" r="0.9" fill="#6A63B0" />
<circle cx="332.08" cy="376.11" r="0.9" fill="#6A63B0" />
<circle cx="381.59" cy="372.85" r="0.9" fill="#6A63B0" />
<circle cx="399.81" cy="369.66" r="0.9" fill="#6A63B0" />
<circle cx="357.17" cy="376.16" r="0.9" fill="#6A63B0" />
<circle cx="344.65" cy="375.56" r="0.9" fill="#6A63B0" />
<circle cx="397.07" cy="372.99" r="0.9" fill="#6A63B0" />
<circle cx="378.65" cy="375.79" r="0.9" fill="#6A63B0" />
<circle cx="379.21" cy="370.01" r="0.9" fill="#6A63B0" />
<circle cx="385.89" cy="376.23" r="0.9" fill="#6A63B0" />
<circle cx="388.79" cy="375.30" r="0.9" fill="#6A63B0" />
<circle cx="402.39" cy="375.90" r="0.9" fill="#6A63B0" />
<circle cx="400.54" cy="375.29" r="0.9" fill="#6A63B0" />
<circle cx="339.46" cy="375.14" r="0.9" fill="#6A63B0" />
<circle cx="390.08" cy="375.26" r="0.9" fill="#6A63B0" />
<circle cx="403.03" cy="374.05" r="0.9" fill="#6A63B0" />
<circle cx="370.88" cy="376.48" r="0.9" fill="#6A63B0" />
<circle cx="402.33" cy="372.80" r="0.9" fill="#6A63B0" />
<circle cx="399.56" cy="375.19" r="0.9" fill="#6A63B0" />
<circle cx="391.55" cy="376.12" r="0.9" fill="#6A63B0" />
<circle cx="351.83" cy="375.62" r="0.9" fill="#6A63B0" />
<circle cx="349.32" cy="376.30" r="0.9" fill="#6A63B0" />
<circle cx="397.80" cy="375.81" r="0.9" fill="#6A63B0" />
<circle cx="373.46" cy="372.88" r="0.9" fill="#6A63B0" />
<circle cx="398.37" cy="372.65" r="0.9" fill="#6A63B0" />
<circle cx="369.00" cy="375.84" r="0.9" fill="#6A63B0" />
<circle cx="343.64" cy="375.30" r="0.9" fill="#6A63B0" />
<circle cx="342.84" cy="375.41" r="0.9" fill="#6A63B0" />
<circle cx="371.46" cy="375.72" r="0.9" fill="#6A63B0" />
<circle cx="371.38" cy="375.57" r="0.9" fill="#6A63B0" />
<circle cx="371.74" cy="376.08" r="0.9" fill="#6A63B0" />
<circle cx="387.53" cy="372.10" r="0.9" fill="#6A63B0" />
<circle cx="386.62" cy="373.00" r="0.9" fill="#6A63B0" />
<circle cx="375.63" cy="372.15" r="0.9" fill="#6A63B0" />
<circle cx="381.61" cy="375.70" r="0.9" fill="#6A63B0" />
<circle cx="365.61" cy="370.18" r="0.9" fill="#6A63B0" />
<circle cx="395.30" cy="374.58" r="0.9" fill="#6A63B0" />
<circle cx="371.68" cy="369.19" r="0.9" fill="#6A63B0" />
<circle cx="340.22" cy="375.84" r="0.9" fill="#6A63B0" />
<circle cx="335.40" cy="376.39" r="0.9" fill="#6A63B0" />
<circle cx="379.88" cy="369.09" r="0.9" fill="#6A63B0" />
<circle cx="341.51" cy="369.66" r="0.9" fill="#6A63B0" />
<circle cx="340.65" cy="366.42" r="0.9" fill="#6A63B0" />
<circle cx="346.36" cy="372.48" r="0.9" fill="#6A63B0" />
<circle cx="366.30" cy="369.01" r="0.9" fill="#6A63B0" />
<circle cx="342.03" cy="375.73" r="0.9" fill="#6A63B0" />
<circle cx="355.26" cy="376.02" r="0.9" fill="#6A63B0" />
<circle cx="383.80" cy="375.67" r="0.9" fill="#6A63B0" />
<circle cx="362.81" cy="376.00" r="0.9" fill="#6A63B0" />
<circle cx="376.48" cy="375.96" r="0.9" fill="#6A63B0" />
<circle cx="403.39" cy="369.73" r="0.9" fill="#6A63B0" />
<circle cx="337.81" cy="376.44" r="0.9" fill="#6A63B0" />
<circle cx="388.04" cy="376.31" r="0.9" fill="#6A63B0" />
<circle cx="361.46" cy="368.91" r="0.9" fill="#6A63B0" />
<circle cx="349.27" cy="375.12" r="0.9" fill="#6A63B0" />
<circle cx="372.51" cy="375.73" r="0.9" fill="#6A63B0" />
<circle cx="334.29" cy="371.92" r="0.9" fill="#6A63B0" />
<circle cx="335.39" cy="369.71" r="0.9" fill="#6A63B0" />
<circle cx="389.72" cy="375.22" r="0.9" fill="#6A63B0" />
<circle cx="334.96" cy="371.63" r="0.9" fill="#6A63B0" />
<circle cx="355.27" cy="367.59" r="0.9" fill="#6A63B0" />
<circle cx="349.96" cy="375.71" r="0.9" fill="#6A63B0" />
<circle cx="347.76" cy="376.26" r="0.9" fill="#6A63B0" />
<circle cx="333.75" cy="376.03" r="0.9" fill="#6A63B0" />
<circle cx="352.72" cy="373.67" r="0.9" fill="#6A63B0" />
<circle cx="367.26" cy="375.98" r="0.9" fill="#6A63B0" />
<circle cx="331.35" cy="376.48" r="0.9" fill="#6A63B0" />
<circle cx="384.61" cy="374.99" r="0.9" fill="#6A63B0" />
<circle cx="365.37" cy="375.54" r="0.9" fill="#6A63B0" />
<circle cx="391.01" cy="375.76" r="0.9" fill="#6A63B0" />
<circle cx="392.18" cy="375.74" r="0.9" fill="#6A63B0" />
<circle cx="381.24" cy="373.70" r="0.9" fill="#6A63B0" />
<circle cx="392.01" cy="371.67" r="0.9" fill="#6A63B0" />
<circle cx="360.15" cy="376.42" r="0.9" fill="#6A63B0" />
<circle cx="339.67" cy="375.39" r="0.9" fill="#6A63B0" />
<circle cx="349.04" cy="376.37" r="0.9" fill="#6A63B0" />
<circle cx="392.67" cy="371.44" r="0.9" fill="#6A63B0" />
<circle cx="351.00" cy="376.06" r="0.9" fill="#6A63B0" />
<circle cx="364.23" cy="375.83" r="0.9" fill="#6A63B0" />
<circle cx="349.61" cy="366.85" r="0.9" fill="#6A63B0" />
<circle cx="370.76" cy="375.05" r="0.9" fill="#6A63B0" />
<circle cx="353.06" cy="376.50" r="0.9" fill="#6A63B0" />
<circle cx="358.43" cy="375.75" r="0.9" fill="#6A63B0" />
<circle cx="344.97" cy="376.45" r="0.9" fill="#6A63B0" />
<circle cx="349.68" cy="375.90" r="0.9" fill="#6A63B0" />
<circle cx="333.10" cy="376.04" r="0.9" fill="#6A63B0" />
<circle cx="347.34" cy="371.18" r="0.9" fill="#6A63B0" />
<circle cx="385.92" cy="370.83" r="0.9" fill="#6A63B0" />
<circle cx="395.49" cy="376.01" r="0.9" fill="#6A63B0" />
<circle cx="403.36" cy="375.41" r="0.9" fill="#6A63B0" />
<circle cx="377.92" cy="375.25" r="0.9" fill="#6A63B0" />
<circle cx="396.45" cy="371.11" r="0.9" fill="#6A63B0" />
<circle cx="390.51" cy="375.71" r="0.9" fill="#6A63B0" />
<circle cx="367.58" cy="369.31" r="0.9" fill="#6A63B0" />
<circle cx="391.57" cy="369.70" r="0.9" fill="#6A63B0" />
<circle cx="380.88" cy="374.61" r="0.9" fill="#6A63B0" />
<circle cx="332.32" cy="375.96" r="0.9" fill="#6A63B0" />
<circle cx="337.82" cy="370.60" r="0.9" fill="#6A63B0" />
<circle cx="376.77" cy="370.76" r="0.9" fill="#6A63B0" />
<circle cx="366.45" cy="375.30" r="0.9" fill="#6A63B0" />
<circle cx="385.75" cy="372.25" r="0.9" fill="#6A63B0" />
<circle cx="379.12" cy="375.39" r="0.9" fill="#6A63B0" />
<circle cx="348.79" cy="376.10" r="0.9" fill="#6A63B0" />
<circle cx="384.34" cy="375.39" r="0.9" fill="#6A63B0" />
<circle cx="402.69" cy="375.93" r="0.9" fill="#6A63B0" />
<circle cx="365.69" cy="369.57" r="0.9" fill="#6A63B0" />
<circle cx="375.96" cy="375.84" r="0.9" fill="#6A63B0" />
<circle cx="340.98" cy="375.39" r="0.9" fill="#6A63B0" />
<circle cx="352.68" cy="376.38" r="0.9" fill="#6A63B0" />
<circle cx="334.52" cy="375.49" r="0.9" fill="#6A63B0" />
<circle cx="381.57" cy="374.13" r="0.9" fill="#6A63B0" />
<circle cx="368.48" cy="375.80" r="0.9" fill="#6A63B0" />
<circle cx="338.83" cy="374.40" r="0.9" fill="#6A63B0" />
<circle cx="402.87" cy="376.38" r="0.9" fill="#6A63B0" />
<circle cx="364.19" cy="367.67" r="0.9" fill="#6A63B0" />
<circle cx="363.48" cy="376.19" r="0.9" fill="#6A63B0" />
<circle cx="400.45" cy="375.63" r="0.9" fill="#6A63B0" />
<circle cx="340.56" cy="366.57" r="0.9" fill="#6A63B0" />
<circle cx="339.88" cy="371.18" r="0.9" fill="#6A63B0" />
<circle cx="396.07" cy="374.80" r="0.9" fill="#6A63B0" />
<circle cx="396.88" cy="376.46" r="0.9" fill="#6A63B0" />
<circle cx="330.27" cy="375.82" r="0.9" fill="#6A63B0" />
<circle cx="352.50" cy="375.98" r="0.9" fill="#6A63B0" />
<circle cx="353.55" cy="376.48" r="0.9" fill="#6A63B0" />
<circle cx="385.93" cy="375.55" r="0.9" fill="#6A63B0" />
<circle cx="399.02" cy="370.01" r="0.9" fill="#6A63B0" />
<circle cx="351.59" cy="375.91" r="0.9" fill="#6A63B0" />
<circle cx="404.41" cy="374.01" r="0.9" fill="#6A63B0" />
<circle cx="361.89" cy="376.43" r="0.9" fill="#6A63B0" />
<circle cx="337.58" cy="373.48" r="0.9" fill="#6A63B0" />
<circle cx="399.70" cy="376.10" r="0.9" fill="#6A63B0" />
<circle cx="368.07" cy="375.94" r="0.9" fill="#6A63B0" />
<circle cx="401.23" cy="370.75" r="0.9" fill="#6A63B0" />
<circle cx="377.00" cy="368.58" r="0.9" fill="#6A63B0" />
<circle cx="370.92" cy="376.07" r="0.9" fill="#6A63B0" />
<circle cx="384.56" cy="375.37" r="0.9" fill="#6A63B0" />
<circle cx="378.01" cy="376.43" r="0.9" fill="#6A63B0" />
<circle cx="399.04" cy="375.79" r="0.9" fill="#6A63B0" />
<circle cx="355.60" cy="375.39" r="0.9" fill="#6A63B0" />
<circle cx="402.73" cy="375.52" r="0.9" fill="#6A63B0" />
<circle cx="352.41" cy="372.65" r="0.9" fill="#6A63B0" />
<circle cx="342.47" cy="376.19" r="0.9" fill="#6A63B0" />
<circle cx="397.49" cy="376.17" r="0.9" fill="#6A63B0" />
<circle cx="397.52" cy="373.22" r="0.9" fill="#6A63B0" />
<circle cx="340.40" cy="376.36" r="0.9" fill="#6A63B0" />
<circle cx="355.48" cy="376.14" r="0.9" fill="#6A63B0" />
<circle cx="349.25" cy="367.68" r="0.9" fill="#6A63B0" />
<circle cx="385.85" cy="375.88" r="0.9" fill="#6A63B0" />
<circle cx="369.05" cy="375.99" r="0.9" fill="#6A63B0" />
<circle cx="334.62" cy="375.05" r="0.9" fill="#6A63B0" />
<circle cx="339.38" cy="369.90" r="0.9" fill="#6A63B0" />
<circle cx="394.28" cy="376.09" r="0.9" fill="#6A63B0" />
<circle cx="348.51" cy="375.83" r="0.9" fill="#6A63B0" />
<circle cx="401.07" cy="370.31" r="0.9" fill="#6A63B0" />
<circle cx="331.62" cy="375.44" r="0.9" fill="#6A63B0" />
<circle cx="396.73" cy="375.62" r="0.9" fill="#6A63B0" />
<circle cx="330.01" cy="375.11" r="0.9" fill="#6A63B0" />
<circle cx="391.51" cy="369.09" r="0.9" fill="#6A63B0" />
<circle cx="348.51" cy="376.27" r="0.9" fill="#6A63B0" />
<circle cx="368.92" cy="368.16" r="0.9" fill="#6A63B0" />
<circle cx="383.77" cy="370.35" r="0.9" fill="#6A63B0" />
<circle cx="364.07" cy="376.14" r="0.9" fill="#6A63B0" />
<circle cx="388.28" cy="375.12" r="0.9" fill="#6A63B0" />
<circle cx="378.09" cy="376.31" r="0.9" fill="#6A63B0" />
<circle cx="348.76" cy="369.54" r="0.9" fill="#6A63B0" />
<circle cx="338.35" cy="375.71" r="0.9" fill="#6A63B0" />
<circle cx="373.43" cy="376.16" r="0.9" fill="#6A63B0" />
<circle cx="374.78" cy="376.05" r="0.9" fill="#6A63B0" />
<circle cx="364.32" cy="370.63" r="0.9" fill="#6A63B0" />
<circle cx="395.84" cy="376.15" r="0.9" fill="#6A63B0" />
<circle cx="348.41" cy="369.46" r="0.9" fill="#6A63B0" />
<circle cx="343.10" cy="283.10" r="1.05" fill="#6A63B0" />
<circle cx="389.40" cy="280.00" r="1.05" fill="#6A63B0" />
<circle cx="348.30" cy="293.10" r="1.05" fill="#6A63B0" />
<circle cx="350.10" cy="297.60" r="1.05" fill="#6A63B0" />
<circle cx="337.90" cy="306.70" r="1.05" fill="#6A63B0" />
<circle cx="372.30" cy="307.00" r="1.05" fill="#6A63B0" />
<circle cx="362.00" cy="315.10" r="1.05" fill="#6A63B0" />
<circle cx="365.60" cy="315.40" r="1.05" fill="#6A63B0" />
<circle cx="377.50" cy="314.00" r="1.05" fill="#6A63B0" />
<circle cx="332.80" cy="320.30" r="1.05" fill="#6A63B0" />
<circle cx="341.40" cy="320.70" r="1.05" fill="#6A63B0" />
<circle cx="365.60" cy="320.30" r="1.05" fill="#6A63B0" />
<circle cx="337.90" cy="326.20" r="1.05" fill="#6A63B0" />
<circle cx="358.60" cy="325.90" r="1.05" fill="#6A63B0" />
<circle cx="356.70" cy="328.00" r="1.05" fill="#6A63B0" />
<circle cx="365.60" cy="329.90" r="1.05" fill="#6A63B0" />
<circle cx="337.90" cy="335.90" r="1.05" fill="#6A63B0" />
<circle cx="341.40" cy="333.80" r="1.05" fill="#6A63B0" />
<circle cx="348.30" cy="334.50" r="1.05" fill="#6A63B0" />
<circle cx="396.40" cy="337.10" r="1.05" fill="#6A63B0" />
<circle cx="315.60" cy="342.40" r="1.05" fill="#6A63B0" />
<circle cx="327.60" cy="336.60" r="1.05" fill="#6A63B0" />
<circle cx="331.00" cy="346.00" r="1.05" fill="#6A63B0" />
<circle cx="338.00" cy="344.00" r="1.05" fill="#6A63B0" />
<circle cx="341.40" cy="343.60" r="1.05" fill="#6A63B0" />
<circle cx="350.00" cy="344.40" r="1.05" fill="#6A63B0" />
<circle cx="343.00" cy="350.00" r="1.05" fill="#6A63B0" />
<circle cx="339.60" cy="361.60" r="1.05" fill="#6A63B0" />
<circle cx="384.40" cy="347.60" r="1.05" fill="#6A63B0" />
<circle cx="384.40" cy="352.40" r="1.05" fill="#6A63B0" />
<circle cx="389.60" cy="358.00" r="1.05" fill="#6A63B0" />
<circle cx="306.50" cy="364.80" r="1.05" fill="#6A63B0" />
<circle cx="324.00" cy="370.00" r="1.05" fill="#6A63B0" />
<circle cx="327.00" cy="368.50" r="1.05" fill="#6A63B0" />
<circle cx="321.50" cy="373.00" r="1.05" fill="#6A63B0" />
<line x1="303.60" y1="365.20" x2="402.50" y2="372.54" stroke="#6A63B0" stroke-width="0.8" />
<text x="352.20" y="396.00" font-family='"Liberation Sans", sans-serif' font-size="6.0" font-weight="normal" font-style="normal" fill="#000" text-anchor="middle" >Age</text>
<text x="301.00" y="282.60" font-family='"Liberation Serif", serif' font-size="6.9" font-weight="normal" font-style="normal" fill="#333" text-anchor="start" >r = &#8722;0.1027</text>
<text x="301.00" y="291.20" font-family='"Liberation Serif", serif' font-size="6.9" font-weight="normal" font-style="normal" fill="#333" text-anchor="start" >p = 0.0516</text>
<text transform="translate(281.2,329) rotate(-90)" font-family='"Liberation Sans", sans-serif' font-size="5.4" fill="#1a1a1a" text-anchor="middle">Number of mutations</text>
<text x="410.60" y="274.00" font-family='"Liberation Serif", serif' font-size="12" font-weight="bold" font-style="normal" fill="#000" text-anchor="start" >J</text>
<text x="433.00" y="271.30" font-family='"Liberation Sans", sans-serif' font-size="6.6" font-weight="normal" font-style="normal" fill="#1A1A1A" text-anchor="start" >Black</text>
<rect x="432.90" y="274.90" width="108.10" height="108.20" fill="#FFFFFF" stroke="none" stroke-width="0" />
<line x1="432.90" y1="278.40" x2="541.00" y2="278.40" stroke="#EBEBEB" stroke-width="0.5" />
<line x1="432.90" y1="300.50" x2="541.00" y2="300.50" stroke="#EBEBEB" stroke-width="0.5" />
<line x1="432.90" y1="322.30" x2="541.00" y2="322.30" stroke="#EBEBEB" stroke-width="0.5" />
<line x1="432.90" y1="344.50" x2="541.00" y2="344.50" stroke="#EBEBEB" stroke-width="0.5" />
<line x1="432.90" y1="366.40" x2="541.00" y2="366.40" stroke="#EBEBEB" stroke-width="0.5" />
<line x1="432.90" y1="289.45" x2="541.00" y2="289.45" stroke="#F3F3F3" stroke-width="0.4" />
<line x1="432.90" y1="311.40" x2="541.00" y2="311.40" stroke="#F3F3F3" stroke-width="0.4" />
<line x1="432.90" y1="333.40" x2="541.00" y2="333.40" stroke="#F3F3F3" stroke-width="0.4" />
<line x1="432.90" y1="355.45" x2="541.00" y2="355.45" stroke="#F3F3F3" stroke-width="0.4" />
<line x1="450.20" y1="274.90" x2="450.20" y2="383.10" stroke="#EBEBEB" stroke-width="0.5" />
<line x1="468.50" y1="274.90" x2="468.50" y2="383.10" stroke="#EBEBEB" stroke-width="0.5" />
<line x1="486.40" y1="274.90" x2="486.40" y2="383.10" stroke="#EBEBEB" stroke-width="0.5" />
<line x1="504.70" y1="274.90" x2="504.70" y2="383.10" stroke="#EBEBEB" stroke-width="0.5" />
<line x1="522.80" y1="274.90" x2="522.80" y2="383.10" stroke="#EBEBEB" stroke-width="0.5" />
<line x1="459.35" y1="274.90" x2="459.35" y2="383.10" stroke="#F3F3F3" stroke-width="0.4" />
<line x1="477.45" y1="274.90" x2="477.45" y2="383.10" stroke="#F3F3F3" stroke-width="0.4" />
<line x1="495.55" y1="274.90" x2="495.55" y2="383.10" stroke="#F3F3F3" stroke-width="0.4" />
<line x1="513.75" y1="274.90" x2="513.75" y2="383.10" stroke="#F3F3F3" stroke-width="0.4" />
<text x="430.90" y="279.90" font-family='"Liberation Sans", sans-serif' font-size="4.2" font-weight="normal" font-style="normal" fill="#666666" text-anchor="end" >20,000</text>
<line x1="431.40" y1="278.40" x2="433.10" y2="278.40" stroke="#555" stroke-width="0.5" />
<text x="430.90" y="302.00" font-family='"Liberation Sans", sans-serif' font-size="4.2" font-weight="normal" font-style="normal" fill="#666666" text-anchor="end" >15,000</text>
<line x1="431.40" y1="300.50" x2="433.10" y2="300.50" stroke="#555" stroke-width="0.5" />
<text x="430.90" y="323.80" font-family='"Liberation Sans", sans-serif' font-size="4.2" font-weight="normal" font-style="normal" fill="#666666" text-anchor="end" >10,000</text>
<line x1="431.40" y1="322.30" x2="433.10" y2="322.30" stroke="#555" stroke-width="0.5" />
<text x="430.90" y="346.00" font-family='"Liberation Sans", sans-serif' font-size="4.2" font-weight="normal" font-style="normal" fill="#666666" text-anchor="end" >5000</text>
<line x1="431.40" y1="344.50" x2="433.10" y2="344.50" stroke="#555" stroke-width="0.5" />
<text x="430.90" y="367.90" font-family='"Liberation Sans", sans-serif' font-size="4.2" font-weight="normal" font-style="normal" fill="#666666" text-anchor="end" >0</text>
<line x1="431.40" y1="366.40" x2="433.10" y2="366.40" stroke="#555" stroke-width="0.5" />
<text x="450.20" y="390.00" font-family='"Liberation Sans", sans-serif' font-size="5.8" font-weight="normal" font-style="normal" fill="#4D4D4D" text-anchor="middle" >40</text>
<line x1="450.20" y1="383.10" x2="450.20" y2="384.90" stroke="#333" stroke-width="0.5" />
<text x="468.50" y="390.00" font-family='"Liberation Sans", sans-serif' font-size="5.8" font-weight="normal" font-style="normal" fill="#4D4D4D" text-anchor="middle" >50</text>
<line x1="468.50" y1="383.10" x2="468.50" y2="384.90" stroke="#333" stroke-width="0.5" />
<text x="486.40" y="390.00" font-family='"Liberation Sans", sans-serif' font-size="5.8" font-weight="normal" font-style="normal" fill="#4D4D4D" text-anchor="middle" >60</text>
<line x1="486.40" y1="383.10" x2="486.40" y2="384.90" stroke="#333" stroke-width="0.5" />
<text x="504.70" y="390.00" font-family='"Liberation Sans", sans-serif' font-size="5.8" font-weight="normal" font-style="normal" fill="#4D4D4D" text-anchor="middle" >70</text>
<line x1="504.70" y1="383.10" x2="504.70" y2="384.90" stroke="#333" stroke-width="0.5" />
<text x="522.80" y="390.00" font-family='"Liberation Sans", sans-serif' font-size="5.8" font-weight="normal" font-style="normal" fill="#4D4D4D" text-anchor="middle" >80</text>
<line x1="522.80" y1="383.10" x2="522.80" y2="384.90" stroke="#333" stroke-width="0.5" />
<path d="M438.00,339.60 L440.46,340.53 L442.93,341.47 L445.39,342.40 L447.85,343.33 L450.31,344.26 L452.77,345.19 L455.24,346.11 L457.70,347.03 L460.16,347.95 L462.62,348.86 L465.09,349.76 L467.55,350.66 L470.01,351.56 L472.48,352.44 L474.94,353.31 L477.40,354.17 L479.86,355.01 L482.32,355.84 L484.79,356.63 L487.25,357.40 L489.71,358.13 L492.18,358.83 L494.64,359.48 L497.10,360.09 L499.56,360.65 L502.02,361.17 L504.49,361.66 L506.95,362.12 L509.41,362.55 L511.88,362.96 L514.34,363.35 L516.80,363.73 L519.26,364.10 L521.73,364.45 L524.19,364.80 L526.65,365.14 L529.11,365.48 L531.58,365.81 L534.04,366.13 L536.50,366.46 L536.50,378.58 L534.04,377.66 L531.58,376.74 L529.11,375.83 L526.65,374.92 L524.19,374.01 L521.73,373.11 L519.26,372.22 L516.80,371.34 L514.34,370.47 L511.88,369.62 L509.41,368.78 L506.95,367.97 L504.49,367.18 L502.02,366.42 L499.56,365.70 L497.10,365.02 L494.64,364.38 L492.18,363.79 L489.71,363.23 L487.25,362.72 L484.79,362.24 L482.32,361.79 L479.86,361.37 L477.40,360.96 L474.94,360.58 L472.48,360.20 L470.01,359.84 L467.55,359.49 L465.09,359.14 L462.62,358.80 L460.16,358.47 L457.70,358.14 L455.24,357.81 L452.77,357.49 L450.31,357.17 L447.85,356.85 L445.39,356.54 L442.93,356.22 L440.46,355.91 L438.00,355.60 Z" fill="#F08A4B" fill-opacity="0.5"/>
<circle cx="499.76" cy="365.21" r="0.9" fill="#D95F02" />
<circle cx="500.66" cy="365.72" r="0.9" fill="#D95F02" />
<circle cx="481.56" cy="365.66" r="0.9" fill="#D95F02" />
<circle cx="522.92" cy="366.14" r="0.9" fill="#D95F02" />
<circle cx="475.17" cy="363.18" r="0.9" fill="#D95F02" />
<circle cx="471.85" cy="361.96" r="0.9" fill="#D95F02" />
<circle cx="513.47" cy="366.36" r="0.9" fill="#D95F02" />
<circle cx="470.02" cy="366.51" r="0.9" fill="#D95F02" />
<circle cx="481.93" cy="366.55" r="0.9" fill="#D95F02" />
<circle cx="500.55" cy="365.34" r="0.9" fill="#D95F02" />
<circle cx="504.30" cy="365.85" r="0.9" fill="#D95F02" />
<circle cx="514.05" cy="366.18" r="0.9" fill="#D95F02" />
<circle cx="536.84" cy="362.52" r="0.9" fill="#D95F02" />
<circle cx="517.13" cy="366.26" r="0.9" fill="#D95F02" />
<circle cx="488.65" cy="365.45" r="0.9" fill="#D95F02" />
<circle cx="496.23" cy="364.56" r="0.9" fill="#D95F02" />
<circle cx="534.15" cy="366.30" r="0.9" fill="#D95F02" />
<circle cx="483.26" cy="364.19" r="0.9" fill="#D95F02" />
<circle cx="535.66" cy="366.49" r="0.9" fill="#D95F02" />
<circle cx="511.80" cy="366.20" r="0.9" fill="#D95F02" />
<circle cx="474.93" cy="365.15" r="0.9" fill="#D95F02" />
<circle cx="520.55" cy="366.23" r="0.9" fill="#D95F02" />
<circle cx="475.87" cy="365.40" r="0.9" fill="#D95F02" />
<circle cx="481.08" cy="365.93" r="0.9" fill="#D95F02" />
<circle cx="481.97" cy="366.40" r="0.9" fill="#D95F02" />
<circle cx="512.77" cy="365.97" r="0.9" fill="#D95F02" />
<circle cx="483.47" cy="365.14" r="0.9" fill="#D95F02" />
<circle cx="523.63" cy="365.27" r="0.9" fill="#D95F02" />
<circle cx="483.33" cy="365.32" r="0.9" fill="#D95F02" />
<circle cx="512.64" cy="365.12" r="0.9" fill="#D95F02" />
<circle cx="483.50" cy="365.44" r="0.9" fill="#D95F02" />
<circle cx="491.37" cy="366.49" r="0.9" fill="#D95F02" />
<circle cx="475.13" cy="366.24" r="0.9" fill="#D95F02" />
<circle cx="509.89" cy="365.92" r="0.9" fill="#D95F02" />
<circle cx="534.22" cy="365.74" r="0.9" fill="#D95F02" />
<circle cx="527.92" cy="366.37" r="0.9" fill="#D95F02" />
<circle cx="530.77" cy="365.18" r="0.9" fill="#D95F02" />
<circle cx="481.91" cy="365.19" r="0.9" fill="#D95F02" />
<circle cx="482.37" cy="362.33" r="0.9" fill="#D95F02" />
<circle cx="510.04" cy="366.44" r="0.9" fill="#D95F02" />
<circle cx="471.63" cy="365.23" r="0.9" fill="#D95F02" />
<circle cx="516.91" cy="365.36" r="0.9" fill="#D95F02" />
<circle cx="509.56" cy="366.34" r="0.9" fill="#D95F02" />
<circle cx="517.98" cy="366.26" r="0.9" fill="#D95F02" />
<circle cx="507.04" cy="363.54" r="0.9" fill="#D95F02" />
<circle cx="488.05" cy="365.38" r="0.9" fill="#D95F02" />
<circle cx="470.13" cy="365.93" r="0.9" fill="#D95F02" />
<circle cx="473.11" cy="366.05" r="0.9" fill="#D95F02" />
<circle cx="507.91" cy="366.06" r="0.9" fill="#D95F02" />
<circle cx="529.58" cy="363.34" r="0.9" fill="#D95F02" />
<circle cx="516.00" cy="366.39" r="0.9" fill="#D95F02" />
<circle cx="471.39" cy="365.23" r="0.9" fill="#D95F02" />
<circle cx="516.67" cy="366.20" r="0.9" fill="#D95F02" />
<circle cx="512.26" cy="365.50" r="0.9" fill="#D95F02" />
<circle cx="490.69" cy="365.96" r="0.9" fill="#D95F02" />
<circle cx="506.13" cy="365.25" r="0.9" fill="#D95F02" />
<circle cx="519.12" cy="365.41" r="0.9" fill="#D95F02" />
<circle cx="531.22" cy="365.57" r="0.9" fill="#D95F02" />
<circle cx="530.26" cy="364.42" r="0.9" fill="#D95F02" />
<circle cx="522.76" cy="363.72" r="0.9" fill="#D95F02" />
<circle cx="511.50" cy="365.73" r="0.9" fill="#D95F02" />
<circle cx="510.40" cy="365.64" r="0.9" fill="#D95F02" />
<circle cx="536.55" cy="363.02" r="0.9" fill="#D95F02" />
<circle cx="495.41" cy="365.73" r="0.9" fill="#D95F02" />
<circle cx="498.96" cy="365.92" r="0.9" fill="#D95F02" />
<circle cx="520.01" cy="365.70" r="0.9" fill="#D95F02" />
<circle cx="501.71" cy="365.55" r="0.9" fill="#D95F02" />
<circle cx="502.81" cy="365.22" r="0.9" fill="#D95F02" />
<circle cx="486.40" cy="366.15" r="0.9" fill="#D95F02" />
<circle cx="515.11" cy="366.35" r="0.9" fill="#D95F02" />
<circle cx="530.59" cy="365.94" r="0.9" fill="#D95F02" />
<circle cx="529.64" cy="365.60" r="0.9" fill="#D95F02" />
<circle cx="482.50" cy="365.39" r="0.9" fill="#D95F02" />
<circle cx="531.17" cy="364.57" r="0.9" fill="#D95F02" />
<circle cx="508.65" cy="366.40" r="0.9" fill="#D95F02" />
<circle cx="502.76" cy="362.48" r="0.9" fill="#D95F02" />
<circle cx="517.36" cy="365.05" r="0.9" fill="#D95F02" />
<circle cx="480.50" cy="366.19" r="0.9" fill="#D95F02" />
<circle cx="483.56" cy="365.66" r="0.9" fill="#D95F02" />
<circle cx="502.58" cy="365.34" r="0.9" fill="#D95F02" />
<circle cx="535.78" cy="366.49" r="0.9" fill="#D95F02" />
<circle cx="471.14" cy="366.11" r="0.9" fill="#D95F02" />
<circle cx="517.19" cy="366.14" r="0.9" fill="#D95F02" />
<circle cx="522.82" cy="366.40" r="0.9" fill="#D95F02" />
<circle cx="499.93" cy="365.36" r="0.9" fill="#D95F02" />
<circle cx="485.14" cy="366.53" r="0.9" fill="#D95F02" />
<circle cx="511.78" cy="365.66" r="0.9" fill="#D95F02" />
<circle cx="513.54" cy="361.99" r="0.9" fill="#D95F02" />
<circle cx="515.55" cy="365.89" r="0.9" fill="#D95F02" />
<circle cx="481.15" cy="365.89" r="0.9" fill="#D95F02" />
<circle cx="517.56" cy="366.19" r="0.9" fill="#D95F02" />
<circle cx="492.51" cy="365.82" r="0.9" fill="#D95F02" />
<circle cx="510.78" cy="366.01" r="0.9" fill="#D95F02" />
<circle cx="522.85" cy="365.91" r="0.9" fill="#D95F02" />
<circle cx="532.42" cy="366.41" r="0.9" fill="#D95F02" />
<circle cx="499.84" cy="365.24" r="0.9" fill="#D95F02" />
<circle cx="494.62" cy="365.28" r="0.9" fill="#D95F02" />
<circle cx="523.18" cy="364.21" r="0.9" fill="#D95F02" />
<circle cx="513.29" cy="365.52" r="0.9" fill="#D95F02" />
<circle cx="524.65" cy="365.52" r="0.9" fill="#D95F02" />
<circle cx="483.50" cy="361.89" r="0.9" fill="#D95F02" />
<circle cx="535.46" cy="365.41" r="0.9" fill="#D95F02" />
<circle cx="490.79" cy="362.45" r="0.9" fill="#D95F02" />
<circle cx="492.70" cy="365.94" r="0.9" fill="#D95F02" />
<circle cx="506.42" cy="365.87" r="0.9" fill="#D95F02" />
<circle cx="470.93" cy="366.01" r="0.9" fill="#D95F02" />
<circle cx="523.39" cy="366.10" r="0.9" fill="#D95F02" />
<circle cx="522.58" cy="366.38" r="0.9" fill="#D95F02" />
<circle cx="504.12" cy="365.34" r="0.9" fill="#D95F02" />
<circle cx="515.88" cy="364.08" r="0.9" fill="#D95F02" />
<circle cx="533.54" cy="366.27" r="0.9" fill="#D95F02" />
<circle cx="504.81" cy="365.51" r="0.9" fill="#D95F02" />
<circle cx="512.44" cy="365.33" r="0.9" fill="#D95F02" />
<circle cx="507.08" cy="366.03" r="0.9" fill="#D95F02" />
<circle cx="526.48" cy="365.36" r="0.9" fill="#D95F02" />
<circle cx="526.85" cy="363.94" r="0.9" fill="#D95F02" />
<circle cx="507.96" cy="365.80" r="0.9" fill="#D95F02" />
<circle cx="503.22" cy="366.56" r="0.9" fill="#D95F02" />
<circle cx="534.92" cy="366.00" r="0.9" fill="#D95F02" />
<circle cx="523.47" cy="365.86" r="0.9" fill="#D95F02" />
<circle cx="515.99" cy="365.79" r="0.9" fill="#D95F02" />
<circle cx="497.14" cy="362.14" r="0.9" fill="#D95F02" />
<circle cx="487.31" cy="366.41" r="0.9" fill="#D95F02" />
<circle cx="498.49" cy="362.25" r="0.9" fill="#D95F02" />
<circle cx="501.40" cy="366.31" r="0.9" fill="#D95F02" />
<circle cx="511.02" cy="365.72" r="0.9" fill="#D95F02" />
<circle cx="521.99" cy="366.31" r="0.9" fill="#D95F02" />
<circle cx="484.45" cy="366.12" r="0.9" fill="#D95F02" />
<circle cx="493.16" cy="366.44" r="0.9" fill="#D95F02" />
<circle cx="518.70" cy="365.83" r="0.9" fill="#D95F02" />
<circle cx="486.04" cy="365.80" r="0.9" fill="#D95F02" />
<circle cx="498.70" cy="365.98" r="0.9" fill="#D95F02" />
<circle cx="505.00" cy="366.29" r="0.9" fill="#D95F02" />
<circle cx="511.93" cy="365.81" r="0.9" fill="#D95F02" />
<circle cx="526.89" cy="365.31" r="0.9" fill="#D95F02" />
<circle cx="484.82" cy="365.38" r="0.9" fill="#D95F02" />
<circle cx="530.38" cy="366.13" r="0.9" fill="#D95F02" />
<circle cx="531.75" cy="365.10" r="0.9" fill="#D95F02" />
<circle cx="529.35" cy="366.24" r="0.9" fill="#D95F02" />
<circle cx="518.41" cy="366.45" r="0.9" fill="#D95F02" />
<circle cx="474.40" cy="279.60" r="1.05" fill="#D95F02" />
<circle cx="474.40" cy="287.60" r="1.05" fill="#D95F02" />
<circle cx="438.00" cy="298.60" r="1.05" fill="#D95F02" />
<circle cx="439.60" cy="339.00" r="1.05" fill="#D95F02" />
<circle cx="479.60" cy="344.60" r="1.05" fill="#D95F02" />
<circle cx="481.60" cy="356.00" r="1.05" fill="#D95F02" />
<circle cx="494.00" cy="353.00" r="1.05" fill="#D95F02" />
<circle cx="498.00" cy="358.00" r="1.05" fill="#D95F02" />
<circle cx="494.00" cy="358.00" r="1.05" fill="#D95F02" />
<circle cx="470.60" cy="359.00" r="1.05" fill="#D95F02" />
<circle cx="474.00" cy="362.00" r="1.05" fill="#D95F02" />
<circle cx="470.60" cy="363.00" r="1.05" fill="#D95F02" />
<circle cx="485.00" cy="360.00" r="1.05" fill="#D95F02" />
<circle cx="507.00" cy="359.60" r="1.05" fill="#D95F02" />
<circle cx="512.00" cy="361.00" r="1.05" fill="#D95F02" />
<circle cx="509.00" cy="362.00" r="1.05" fill="#D95F02" />
<circle cx="519.00" cy="358.40" r="1.05" fill="#D95F02" />
<circle cx="518.00" cy="361.60" r="1.05" fill="#D95F02" />
<circle cx="529.00" cy="362.40" r="1.05" fill="#D95F02" />
<circle cx="454.00" cy="366.20" r="1.05" fill="#D95F02" />
<circle cx="463.00" cy="366.20" r="1.05" fill="#D95F02" />
<circle cx="476.00" cy="364.00" r="1.05" fill="#D95F02" />
<circle cx="478.00" cy="362.50" r="1.05" fill="#D95F02" />
<circle cx="480.00" cy="364.50" r="1.05" fill="#D95F02" />
<line x1="438.00" y1="347.60" x2="536.50" y2="372.52" stroke="#D95F02" stroke-width="0.8" />
<text x="486.70" y="396.00" font-family='"Liberation Sans", sans-serif' font-size="6.0" font-weight="normal" font-style="normal" fill="#000" text-anchor="middle" >Age</text>
<text x="435.90" y="282.60" font-family='"Liberation Serif", serif' font-size="6.9" font-weight="normal" font-style="normal" fill="#333" text-anchor="start" >r = &#8722;0.3664</text>
<text x="435.90" y="291.20" font-family='"Liberation Serif", serif' font-size="6.9" font-weight="normal" font-style="normal" fill="#333" text-anchor="start" >p = 0.0001</text>
<text transform="translate(415.7,329) rotate(-90)" font-family='"Liberation Sans", sans-serif' font-size="5.4" fill="#1a1a1a" text-anchor="middle">Number of mutations</text>
</svg></body></html>
